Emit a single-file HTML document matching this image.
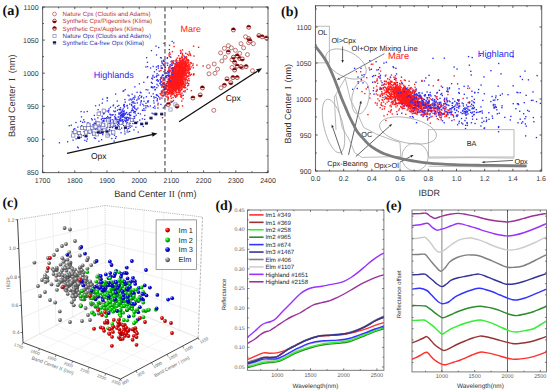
<!DOCTYPE html><html><head><meta charset="utf-8"><style>html,body{margin:0;padding:0;background:#fff;width:550px;height:392px;overflow:hidden}svg{display:block;text-rendering:geometricPrecision}</style></head><body><svg width="550" height="392" viewBox="0 0 550 392"><g fill="#2a2af0"><rect x="129.59" y="126.71" width="1.3" height="1.3"/><rect x="129.99" y="117.55" width="1.3" height="1.3"/><rect x="119.11" y="118.35" width="1.3" height="1.3"/><rect x="107.98" y="120.16" width="1.3" height="1.3"/><rect x="114.11" y="115.97" width="1.3" height="1.3"/><rect x="115.49" y="136.02" width="1.3" height="1.3"/><rect x="126.31" y="119.30" width="1.3" height="1.3"/><rect x="143.16" y="105.09" width="1.3" height="1.3"/><rect x="114.75" y="118.28" width="1.3" height="1.3"/><rect x="109.74" y="114.17" width="1.3" height="1.3"/><rect x="130.22" y="111.61" width="1.3" height="1.3"/><rect x="132.15" y="119.22" width="1.3" height="1.3"/><rect x="123.27" y="112.74" width="1.3" height="1.3"/><rect x="108.85" y="122.93" width="1.3" height="1.3"/><rect x="122.01" y="115.09" width="1.3" height="1.3"/><rect x="133.94" y="111.02" width="1.3" height="1.3"/><rect x="97.20" y="117.18" width="1.3" height="1.3"/><rect x="115.71" y="118.74" width="1.3" height="1.3"/><rect x="92.12" y="127.12" width="1.3" height="1.3"/><rect x="108.19" y="133.70" width="1.3" height="1.3"/><rect x="93.33" y="127.17" width="1.3" height="1.3"/><rect x="122.30" y="122.36" width="1.3" height="1.3"/><rect x="111.15" y="137.89" width="1.3" height="1.3"/><rect x="126.01" y="111.83" width="1.3" height="1.3"/><rect x="123.16" y="110.85" width="1.3" height="1.3"/><rect x="121.41" y="119.30" width="1.3" height="1.3"/><rect x="86.65" y="138.35" width="1.3" height="1.3"/><rect x="111.41" y="114.25" width="1.3" height="1.3"/><rect x="124.54" y="119.94" width="1.3" height="1.3"/><rect x="133.30" y="129.19" width="1.3" height="1.3"/><rect x="99.98" y="127.96" width="1.3" height="1.3"/><rect x="115.55" y="119.14" width="1.3" height="1.3"/><rect x="104.78" y="117.74" width="1.3" height="1.3"/><rect x="112.87" y="125.61" width="1.3" height="1.3"/><rect x="133.68" y="98.52" width="1.3" height="1.3"/><rect x="107.02" y="115.82" width="1.3" height="1.3"/><rect x="128.14" y="125.41" width="1.3" height="1.3"/><rect x="132.52" y="102.40" width="1.3" height="1.3"/><rect x="119.29" y="128.87" width="1.3" height="1.3"/><rect x="128.00" y="127.78" width="1.3" height="1.3"/><rect x="126.03" y="117.16" width="1.3" height="1.3"/><rect x="126.56" y="119.59" width="1.3" height="1.3"/><rect x="113.53" y="140.46" width="1.3" height="1.3"/><rect x="123.65" y="114.33" width="1.3" height="1.3"/><rect x="140.72" y="100.40" width="1.3" height="1.3"/><rect x="95.23" y="120.60" width="1.3" height="1.3"/><rect x="136.05" y="109.12" width="1.3" height="1.3"/><rect x="131.18" y="125.45" width="1.3" height="1.3"/><rect x="117.95" y="128.54" width="1.3" height="1.3"/><rect x="148.63" y="92.39" width="1.3" height="1.3"/><rect x="130.94" y="103.82" width="1.3" height="1.3"/><rect x="103.79" y="123.38" width="1.3" height="1.3"/><rect x="125.64" y="117.70" width="1.3" height="1.3"/><rect x="130.91" y="109.90" width="1.3" height="1.3"/><rect x="121.48" y="119.47" width="1.3" height="1.3"/><rect x="134.53" y="112.41" width="1.3" height="1.3"/><rect x="121.15" y="114.88" width="1.3" height="1.3"/><rect x="132.91" y="110.24" width="1.3" height="1.3"/><rect x="145.17" y="105.19" width="1.3" height="1.3"/><rect x="113.15" y="121.68" width="1.3" height="1.3"/><rect x="128.38" y="118.03" width="1.3" height="1.3"/><rect x="124.30" y="133.24" width="1.3" height="1.3"/><rect x="127.64" y="119.30" width="1.3" height="1.3"/><rect x="106.27" y="127.12" width="1.3" height="1.3"/><rect x="107.97" y="109.85" width="1.3" height="1.3"/><rect x="122.09" y="120.73" width="1.3" height="1.3"/><rect x="128.44" y="95.13" width="1.3" height="1.3"/><rect x="134.24" y="96.67" width="1.3" height="1.3"/><rect x="107.57" y="133.79" width="1.3" height="1.3"/><rect x="114.67" y="128.15" width="1.3" height="1.3"/><rect x="132.16" y="109.66" width="1.3" height="1.3"/><rect x="87.27" y="122.05" width="1.3" height="1.3"/><rect x="115.07" y="117.85" width="1.3" height="1.3"/><rect x="119.14" y="112.54" width="1.3" height="1.3"/><rect x="144.30" y="109.72" width="1.3" height="1.3"/><rect x="142.69" y="125.81" width="1.3" height="1.3"/><rect x="119.47" y="120.70" width="1.3" height="1.3"/><rect x="114.77" y="114.23" width="1.3" height="1.3"/><rect x="114.88" y="110.51" width="1.3" height="1.3"/><rect x="145.33" y="102.64" width="1.3" height="1.3"/><rect x="116.38" y="118.88" width="1.3" height="1.3"/><rect x="114.18" y="111.11" width="1.3" height="1.3"/><rect x="128.97" y="114.06" width="1.3" height="1.3"/><rect x="116.85" y="109.51" width="1.3" height="1.3"/><rect x="125.05" y="125.70" width="1.3" height="1.3"/><rect x="111.48" y="133.38" width="1.3" height="1.3"/><rect x="127.65" y="123.89" width="1.3" height="1.3"/><rect x="114.93" y="116.98" width="1.3" height="1.3"/><rect x="142.47" y="109.68" width="1.3" height="1.3"/><rect x="132.33" y="109.73" width="1.3" height="1.3"/><rect x="121.40" y="113.89" width="1.3" height="1.3"/><rect x="131.70" y="108.18" width="1.3" height="1.3"/><rect x="113.05" y="110.41" width="1.3" height="1.3"/><rect x="132.74" y="97.24" width="1.3" height="1.3"/><rect x="126.54" y="121.85" width="1.3" height="1.3"/><rect x="131.07" y="109.94" width="1.3" height="1.3"/><rect x="105.42" y="129.13" width="1.3" height="1.3"/><rect x="132.53" y="120.19" width="1.3" height="1.3"/><rect x="91.61" y="119.23" width="1.3" height="1.3"/><rect x="90.45" y="128.77" width="1.3" height="1.3"/><rect x="119.63" y="120.22" width="1.3" height="1.3"/><rect x="111.85" y="126.91" width="1.3" height="1.3"/><rect x="124.19" y="112.33" width="1.3" height="1.3"/><rect x="160.31" y="103.78" width="1.3" height="1.3"/><rect x="112.09" y="125.07" width="1.3" height="1.3"/><rect x="109.26" y="113.48" width="1.3" height="1.3"/><rect x="122.51" y="108.17" width="1.3" height="1.3"/><rect x="133.85" y="117.56" width="1.3" height="1.3"/><rect x="122.69" y="121.07" width="1.3" height="1.3"/><rect x="112.53" y="105.12" width="1.3" height="1.3"/><rect x="139.14" y="119.45" width="1.3" height="1.3"/><rect x="133.39" y="115.91" width="1.3" height="1.3"/><rect x="113.81" y="134.61" width="1.3" height="1.3"/><rect x="120.62" y="114.41" width="1.3" height="1.3"/><rect x="122.65" y="114.01" width="1.3" height="1.3"/><rect x="103.34" y="117.85" width="1.3" height="1.3"/><rect x="137.58" y="131.48" width="1.3" height="1.3"/><rect x="110.12" y="122.65" width="1.3" height="1.3"/><rect x="144.05" y="118.74" width="1.3" height="1.3"/><rect x="123.50" y="110.22" width="1.3" height="1.3"/><rect x="125.33" y="116.69" width="1.3" height="1.3"/><rect x="107.86" y="110.05" width="1.3" height="1.3"/><rect x="120.05" y="114.76" width="1.3" height="1.3"/><rect x="98.28" y="140.57" width="1.3" height="1.3"/><rect x="101.70" y="117.66" width="1.3" height="1.3"/><rect x="133.05" y="120.53" width="1.3" height="1.3"/><rect x="93.71" y="137.28" width="1.3" height="1.3"/><rect x="131.39" y="101.78" width="1.3" height="1.3"/><rect x="95.83" y="128.18" width="1.3" height="1.3"/><rect x="132.49" y="106.58" width="1.3" height="1.3"/><rect x="110.82" y="123.41" width="1.3" height="1.3"/><rect x="132.50" y="105.86" width="1.3" height="1.3"/><rect x="121.85" y="109.53" width="1.3" height="1.3"/><rect x="99.69" y="127.70" width="1.3" height="1.3"/><rect x="137.33" y="98.38" width="1.3" height="1.3"/><rect x="139.06" y="94.89" width="1.3" height="1.3"/><rect x="122.19" y="116.60" width="1.3" height="1.3"/><rect x="122.99" y="124.80" width="1.3" height="1.3"/><rect x="114.72" y="107.26" width="1.3" height="1.3"/><rect x="109.15" y="124.90" width="1.3" height="1.3"/><rect x="136.69" y="102.28" width="1.3" height="1.3"/><rect x="111.41" y="114.40" width="1.3" height="1.3"/><rect x="126.12" y="122.65" width="1.3" height="1.3"/><rect x="109.65" y="119.73" width="1.3" height="1.3"/><rect x="120.39" y="132.10" width="1.3" height="1.3"/><rect x="101.51" y="122.18" width="1.3" height="1.3"/><rect x="143.27" y="108.01" width="1.3" height="1.3"/><rect x="120.17" y="116.14" width="1.3" height="1.3"/><rect x="134.33" y="102.73" width="1.3" height="1.3"/><rect x="125.96" y="120.26" width="1.3" height="1.3"/><rect x="112.59" y="121.36" width="1.3" height="1.3"/><rect x="121.07" y="123.35" width="1.3" height="1.3"/><rect x="114.99" y="120.93" width="1.3" height="1.3"/><rect x="119.00" y="108.83" width="1.3" height="1.3"/><rect x="117.46" y="118.93" width="1.3" height="1.3"/><rect x="119.19" y="119.33" width="1.3" height="1.3"/><rect x="107.20" y="134.98" width="1.3" height="1.3"/><rect x="107.86" y="117.19" width="1.3" height="1.3"/><rect x="147.30" y="101.61" width="1.3" height="1.3"/><rect x="106.48" y="110.41" width="1.3" height="1.3"/><rect x="110.67" y="130.04" width="1.3" height="1.3"/><rect x="123.82" y="105.98" width="1.3" height="1.3"/><rect x="136.43" y="91.65" width="1.3" height="1.3"/><rect x="101.91" y="128.66" width="1.3" height="1.3"/><rect x="124.86" y="125.76" width="1.3" height="1.3"/><rect x="107.86" y="111.42" width="1.3" height="1.3"/><rect x="93.20" y="124.29" width="1.3" height="1.3"/><rect x="131.00" y="104.82" width="1.3" height="1.3"/><rect x="118.36" y="108.81" width="1.3" height="1.3"/><rect x="125.95" y="118.33" width="1.3" height="1.3"/><rect x="109.06" y="117.39" width="1.3" height="1.3"/><rect x="127.01" y="107.42" width="1.3" height="1.3"/><rect x="117.89" y="125.07" width="1.3" height="1.3"/><rect x="118.16" y="112.42" width="1.3" height="1.3"/><rect x="108.98" y="129.01" width="1.3" height="1.3"/><rect x="101.62" y="120.32" width="1.3" height="1.3"/><rect x="137.83" y="96.35" width="1.3" height="1.3"/><rect x="108.40" y="108.19" width="1.3" height="1.3"/><rect x="135.26" y="126.57" width="1.3" height="1.3"/><rect x="121.54" y="114.45" width="1.3" height="1.3"/><rect x="117.92" y="121.88" width="1.3" height="1.3"/><rect x="115.82" y="120.58" width="1.3" height="1.3"/><rect x="133.19" y="111.94" width="1.3" height="1.3"/><rect x="119.15" y="119.33" width="1.3" height="1.3"/><rect x="129.00" y="130.76" width="1.3" height="1.3"/><rect x="119.40" y="109.03" width="1.3" height="1.3"/><rect x="134.09" y="95.38" width="1.3" height="1.3"/><rect x="129.10" y="103.46" width="1.3" height="1.3"/><rect x="123.43" y="103.85" width="1.3" height="1.3"/><rect x="118.21" y="126.40" width="1.3" height="1.3"/><rect x="106.58" y="134.07" width="1.3" height="1.3"/><rect x="133.23" y="101.45" width="1.3" height="1.3"/><rect x="131.72" y="98.36" width="1.3" height="1.3"/><rect x="119.84" y="115.15" width="1.3" height="1.3"/><rect x="136.98" y="121.15" width="1.3" height="1.3"/><rect x="123.14" y="90.17" width="1.3" height="1.3"/><rect x="137.63" y="112.69" width="1.3" height="1.3"/><rect x="132.35" y="100.91" width="1.3" height="1.3"/><rect x="120.99" y="127.47" width="1.3" height="1.3"/><rect x="141.00" y="95.70" width="1.3" height="1.3"/><rect x="104.00" y="125.30" width="1.3" height="1.3"/><rect x="129.71" y="98.48" width="1.3" height="1.3"/><rect x="126.53" y="105.33" width="1.3" height="1.3"/><rect x="141.79" y="118.22" width="1.3" height="1.3"/><rect x="154.12" y="105.54" width="1.3" height="1.3"/><rect x="143.34" y="100.61" width="1.3" height="1.3"/><rect x="103.07" y="120.40" width="1.3" height="1.3"/><rect x="90.94" y="118.13" width="1.3" height="1.3"/><rect x="133.64" y="106.50" width="1.3" height="1.3"/><rect x="108.43" y="125.02" width="1.3" height="1.3"/><rect x="122.82" y="115.88" width="1.3" height="1.3"/><rect x="135.20" y="108.36" width="1.3" height="1.3"/><rect x="94.77" y="123.03" width="1.3" height="1.3"/><rect x="92.32" y="134.35" width="1.3" height="1.3"/><rect x="126.97" y="113.82" width="1.3" height="1.3"/><rect x="129.31" y="124.81" width="1.3" height="1.3"/><rect x="127.45" y="131.31" width="1.3" height="1.3"/><rect x="123.35" y="115.07" width="1.3" height="1.3"/><rect x="107.65" y="118.62" width="1.3" height="1.3"/><rect x="101.02" y="129.14" width="1.3" height="1.3"/><rect x="118.42" y="113.64" width="1.3" height="1.3"/><rect x="106.13" y="119.76" width="1.3" height="1.3"/><rect x="99.15" y="130.32" width="1.3" height="1.3"/><rect x="126.43" y="104.77" width="1.3" height="1.3"/><rect x="124.95" y="121.04" width="1.3" height="1.3"/><rect x="128.85" y="112.08" width="1.3" height="1.3"/><rect x="109.96" y="126.72" width="1.3" height="1.3"/><rect x="113.00" y="120.85" width="1.3" height="1.3"/><rect x="105.79" y="120.10" width="1.3" height="1.3"/><rect x="106.52" y="117.60" width="1.3" height="1.3"/><rect x="125.22" y="113.01" width="1.3" height="1.3"/><rect x="109.68" y="119.43" width="1.3" height="1.3"/><rect x="129.50" y="114.84" width="1.3" height="1.3"/><rect x="128.28" y="113.35" width="1.3" height="1.3"/><rect x="147.26" y="89.29" width="1.3" height="1.3"/><rect x="103.32" y="128.99" width="1.3" height="1.3"/><rect x="130.77" y="99.37" width="1.3" height="1.3"/><rect x="119.51" y="112.90" width="1.3" height="1.3"/><rect x="121.93" y="114.45" width="1.3" height="1.3"/><rect x="93.67" y="114.79" width="1.3" height="1.3"/><rect x="117.02" y="121.00" width="1.3" height="1.3"/><rect x="134.81" y="110.89" width="1.3" height="1.3"/><rect x="121.50" y="115.99" width="1.3" height="1.3"/><rect x="122.79" y="112.73" width="1.3" height="1.3"/><rect x="117.57" y="116.33" width="1.3" height="1.3"/><rect x="136.16" y="99.55" width="1.3" height="1.3"/><rect x="121.93" y="114.69" width="1.3" height="1.3"/><rect x="89.00" y="131.80" width="1.3" height="1.3"/><rect x="113.64" y="123.03" width="1.3" height="1.3"/><rect x="89.69" y="125.31" width="1.3" height="1.3"/><rect x="76.92" y="146.40" width="1.3" height="1.3"/><rect x="116.21" y="121.97" width="1.3" height="1.3"/><rect x="142.21" y="103.72" width="1.3" height="1.3"/><rect x="122.23" y="112.92" width="1.3" height="1.3"/><rect x="108.53" y="130.39" width="1.3" height="1.3"/><rect x="102.79" y="113.16" width="1.3" height="1.3"/><rect x="141.73" y="109.62" width="1.3" height="1.3"/><rect x="126.65" y="116.64" width="1.3" height="1.3"/><rect x="125.22" y="117.87" width="1.3" height="1.3"/><rect x="124.15" y="119.45" width="1.3" height="1.3"/><rect x="121.22" y="111.53" width="1.3" height="1.3"/><rect x="134.02" y="107.53" width="1.3" height="1.3"/><rect x="134.03" y="115.89" width="1.3" height="1.3"/><rect x="128.27" y="117.42" width="1.3" height="1.3"/><rect x="109.00" y="126.89" width="1.3" height="1.3"/><rect x="124.57" y="101.49" width="1.3" height="1.3"/><rect x="115.59" y="126.02" width="1.3" height="1.3"/><rect x="144.11" y="114.81" width="1.3" height="1.3"/><rect x="108.98" y="134.39" width="1.3" height="1.3"/><rect x="122.31" y="119.16" width="1.3" height="1.3"/><rect x="116.83" y="105.73" width="1.3" height="1.3"/><rect x="107.92" y="134.40" width="1.3" height="1.3"/><rect x="147.85" y="100.28" width="1.3" height="1.3"/><rect x="134.22" y="86.20" width="1.3" height="1.3"/><rect x="118.14" y="122.99" width="1.3" height="1.3"/><rect x="128.46" y="99.36" width="1.3" height="1.3"/><rect x="123.53" y="104.14" width="1.3" height="1.3"/><rect x="82.64" y="134.85" width="1.3" height="1.3"/><rect x="132.24" y="122.89" width="1.3" height="1.3"/><rect x="120.93" y="114.34" width="1.3" height="1.3"/><rect x="125.68" y="117.48" width="1.3" height="1.3"/><rect x="114.85" y="137.76" width="1.3" height="1.3"/><rect x="125.98" y="129.64" width="1.3" height="1.3"/><rect x="120.33" y="117.20" width="1.3" height="1.3"/><rect x="139.68" y="104.30" width="1.3" height="1.3"/><rect x="123.04" y="104.78" width="1.3" height="1.3"/><rect x="120.41" y="111.63" width="1.3" height="1.3"/><rect x="147.39" y="105.89" width="1.3" height="1.3"/><rect x="116.88" y="123.92" width="1.3" height="1.3"/><rect x="118.13" y="120.51" width="1.3" height="1.3"/><rect x="100.96" y="139.06" width="1.3" height="1.3"/><rect x="143.04" y="97.33" width="1.3" height="1.3"/><rect x="137.18" y="107.53" width="1.3" height="1.3"/><rect x="139.73" y="113.35" width="1.3" height="1.3"/><rect x="135.51" y="114.51" width="1.3" height="1.3"/><rect x="129.36" y="122.73" width="1.3" height="1.3"/><rect x="128.13" y="117.19" width="1.3" height="1.3"/><rect x="118.40" y="116.43" width="1.3" height="1.3"/><rect x="121.87" y="120.62" width="1.3" height="1.3"/><rect x="120.01" y="109.00" width="1.3" height="1.3"/><rect x="73.08" y="128.70" width="1.3" height="1.3"/><rect x="108.68" y="122.87" width="1.3" height="1.3"/><rect x="97.43" y="121.53" width="1.3" height="1.3"/><rect x="101.49" y="115.54" width="1.3" height="1.3"/><rect x="75.43" y="138.22" width="1.3" height="1.3"/><rect x="94.65" y="128.61" width="1.3" height="1.3"/><rect x="91.11" y="129.85" width="1.3" height="1.3"/><rect x="85.51" y="126.67" width="1.3" height="1.3"/><rect x="66.99" y="141.12" width="1.3" height="1.3"/><rect x="93.90" y="124.99" width="1.3" height="1.3"/><rect x="114.71" y="124.78" width="1.3" height="1.3"/><rect x="103.60" y="118.03" width="1.3" height="1.3"/><rect x="88.86" y="123.50" width="1.3" height="1.3"/><rect x="99.46" y="125.39" width="1.3" height="1.3"/><rect x="109.62" y="117.04" width="1.3" height="1.3"/><rect x="58.78" y="142.13" width="1.3" height="1.3"/><rect x="97.90" y="126.24" width="1.3" height="1.3"/><rect x="106.03" y="117.12" width="1.3" height="1.3"/><rect x="109.77" y="121.09" width="1.3" height="1.3"/><rect x="124.45" y="113.70" width="1.3" height="1.3"/><rect x="118.00" y="122.67" width="1.3" height="1.3"/><rect x="103.03" y="119.71" width="1.3" height="1.3"/><rect x="103.18" y="120.68" width="1.3" height="1.3"/><rect x="113.23" y="125.91" width="1.3" height="1.3"/><rect x="94.90" y="137.77" width="1.3" height="1.3"/><rect x="102.04" y="134.00" width="1.3" height="1.3"/><rect x="113.14" y="119.86" width="1.3" height="1.3"/><rect x="129.27" y="115.04" width="1.3" height="1.3"/><rect x="99.48" y="132.43" width="1.3" height="1.3"/><rect x="98.41" y="124.02" width="1.3" height="1.3"/><rect x="100.73" y="118.69" width="1.3" height="1.3"/><rect x="119.83" y="117.80" width="1.3" height="1.3"/><rect x="99.64" y="126.64" width="1.3" height="1.3"/><rect x="120.17" y="112.67" width="1.3" height="1.3"/><rect x="82.03" y="121.69" width="1.3" height="1.3"/><rect x="94.17" y="118.55" width="1.3" height="1.3"/><rect x="97.46" y="128.54" width="1.3" height="1.3"/><rect x="109.97" y="116.61" width="1.3" height="1.3"/><rect x="114.90" y="118.16" width="1.3" height="1.3"/><rect x="76.91" y="133.33" width="1.3" height="1.3"/><rect x="75.29" y="121.85" width="1.3" height="1.3"/><rect x="122.43" y="90.43" width="1.3" height="1.3"/><rect x="159.85" y="79.47" width="1.3" height="1.3"/><rect x="123.55" y="106.44" width="1.3" height="1.3"/><rect x="130.12" y="114.62" width="1.3" height="1.3"/><rect x="98.74" y="104.40" width="1.3" height="1.3"/><rect x="122.75" y="110.86" width="1.3" height="1.3"/><rect x="140.32" y="92.15" width="1.3" height="1.3"/><rect x="124.51" y="88.94" width="1.3" height="1.3"/><rect x="145.22" y="107.20" width="1.3" height="1.3"/><rect x="120.75" y="111.43" width="1.3" height="1.3"/><rect x="86.57" y="110.84" width="1.3" height="1.3"/><rect x="123.87" y="117.17" width="1.3" height="1.3"/><rect x="114.97" y="93.44" width="1.3" height="1.3"/><rect x="83.45" y="111.35" width="1.3" height="1.3"/><rect x="127.41" y="94.45" width="1.3" height="1.3"/><rect x="146.60" y="105.15" width="1.3" height="1.3"/><rect x="80.45" y="110.94" width="1.3" height="1.3"/><rect x="120.21" y="119.75" width="1.3" height="1.3"/><rect x="138.52" y="98.09" width="1.3" height="1.3"/><rect x="106.44" y="97.09" width="1.3" height="1.3"/><rect x="93.54" y="122.63" width="1.3" height="1.3"/><rect x="103.46" y="112.92" width="1.3" height="1.3"/><rect x="119.89" y="107.18" width="1.3" height="1.3"/><rect x="133.96" y="105.26" width="1.3" height="1.3"/><rect x="121.59" y="110.32" width="1.3" height="1.3"/><rect x="77.73" y="147.23" width="1.3" height="1.3"/><rect x="146.68" y="76.98" width="1.3" height="1.3"/><rect x="156.96" y="94.64" width="1.3" height="1.3"/><rect x="77.18" y="126.45" width="1.3" height="1.3"/><rect x="91.55" y="131.51" width="1.3" height="1.3"/><rect x="84.20" y="139.68" width="1.3" height="1.3"/><rect x="149.72" y="105.29" width="1.3" height="1.3"/><rect x="155.65" y="75.72" width="1.3" height="1.3"/><rect x="71.64" y="131.16" width="1.3" height="1.3"/><rect x="99.59" y="132.59" width="1.3" height="1.3"/><rect x="86.02" y="140.57" width="1.3" height="1.3"/><rect x="112.89" y="104.36" width="1.3" height="1.3"/><rect x="156.74" y="99.35" width="1.3" height="1.3"/><rect x="74.16" y="128.01" width="1.3" height="1.3"/><rect x="83.96" y="121.21" width="1.3" height="1.3"/><rect x="114.59" y="117.19" width="1.3" height="1.3"/><rect x="118.18" y="104.83" width="1.3" height="1.3"/><rect x="139.66" y="91.54" width="1.3" height="1.3"/><rect x="109.81" y="106.63" width="1.3" height="1.3"/><rect x="81.04" y="124.99" width="1.3" height="1.3"/><rect x="101.65" y="102.49" width="1.3" height="1.3"/><rect x="162.61" y="64.29" width="1.3" height="1.3"/><rect x="140.17" y="102.26" width="1.3" height="1.3"/><rect x="78.64" y="131.13" width="1.3" height="1.3"/><rect x="145.75" y="96.07" width="1.3" height="1.3"/><rect x="97.51" y="128.74" width="1.3" height="1.3"/><rect x="143.15" y="81.67" width="1.3" height="1.3"/><rect x="68.58" y="125.05" width="1.3" height="1.3"/><rect x="151.86" y="78.34" width="1.3" height="1.3"/><rect x="83.09" y="119.16" width="1.3" height="1.3"/><rect x="111.56" y="119.09" width="1.3" height="1.3"/><rect x="131.54" y="93.59" width="1.3" height="1.3"/><rect x="116.61" y="100.41" width="1.3" height="1.3"/><rect x="83.39" y="130.95" width="1.3" height="1.3"/><rect x="80.84" y="116.24" width="1.3" height="1.3"/><rect x="94.95" y="105.17" width="1.3" height="1.3"/><rect x="72.43" y="139.50" width="1.3" height="1.3"/><rect x="88.35" y="132.40" width="1.3" height="1.3"/><rect x="79.97" y="120.70" width="1.3" height="1.3"/><rect x="112.44" y="114.10" width="1.3" height="1.3"/><rect x="101.93" y="98.52" width="1.3" height="1.3"/><rect x="124.27" y="98.89" width="1.3" height="1.3"/><rect x="94.60" y="122.35" width="1.3" height="1.3"/><rect x="70.64" y="124.57" width="1.3" height="1.3"/><rect x="99.47" y="111.26" width="1.3" height="1.3"/><rect x="140.60" y="96.81" width="1.3" height="1.3"/><rect x="92.17" y="124.19" width="1.3" height="1.3"/><rect x="106.59" y="100.14" width="1.3" height="1.3"/><rect x="140.58" y="100.31" width="1.3" height="1.3"/><rect x="106.80" y="97.35" width="1.3" height="1.3"/><rect x="153.40" y="102.35" width="1.3" height="1.3"/><rect x="156.40" y="72.98" width="1.3" height="1.3"/><rect x="97.47" y="109.01" width="1.3" height="1.3"/><rect x="138.74" y="83.16" width="1.3" height="1.3"/><rect x="161.38" y="95.15" width="1.3" height="1.3"/><rect x="163.71" y="87.63" width="1.3" height="1.3"/><rect x="151.46" y="112.54" width="1.3" height="1.3"/><rect x="157.47" y="102.61" width="1.3" height="1.3"/><rect x="160.96" y="86.35" width="1.3" height="1.3"/><rect x="153.74" y="76.61" width="1.3" height="1.3"/><rect x="159.17" y="82.52" width="1.3" height="1.3"/><rect x="154.34" y="107.57" width="1.3" height="1.3"/><rect x="153.41" y="86.41" width="1.3" height="1.3"/><rect x="155.68" y="66.34" width="1.3" height="1.3"/><rect x="158.64" y="70.54" width="1.3" height="1.3"/><rect x="157.40" y="80.62" width="1.3" height="1.3"/><rect x="152.56" y="93.14" width="1.3" height="1.3"/><rect x="155.81" y="69.05" width="1.3" height="1.3"/><rect x="163.08" y="89.23" width="1.3" height="1.3"/><rect x="156.77" y="98.09" width="1.3" height="1.3"/><rect x="161.36" y="92.65" width="1.3" height="1.3"/><rect x="166.83" y="57.01" width="1.3" height="1.3"/><rect x="161.22" y="76.20" width="1.3" height="1.3"/><rect x="172.75" y="62.25" width="1.3" height="1.3"/><rect x="151.66" y="86.49" width="1.3" height="1.3"/><rect x="163.67" y="64.90" width="1.3" height="1.3"/><rect x="154.49" y="88.74" width="1.3" height="1.3"/><rect x="168.18" y="82.96" width="1.3" height="1.3"/><rect x="171.46" y="40.78" width="1.3" height="1.3"/><rect x="146.90" y="65.97" width="1.3" height="1.3"/><rect x="150.77" y="86.75" width="1.3" height="1.3"/><rect x="161.18" y="81.10" width="1.3" height="1.3"/><rect x="162.59" y="74.63" width="1.3" height="1.3"/><rect x="163.67" y="60.52" width="1.3" height="1.3"/><rect x="156.15" y="87.09" width="1.3" height="1.3"/><rect x="157.29" y="107.34" width="1.3" height="1.3"/><rect x="160.80" y="84.19" width="1.3" height="1.3"/><rect x="156.91" y="79.06" width="1.3" height="1.3"/><rect x="163.66" y="78.22" width="1.3" height="1.3"/><rect x="145.96" y="57.04" width="1.3" height="1.3"/><rect x="161.64" y="74.69" width="1.3" height="1.3"/><rect x="152.47" y="65.79" width="1.3" height="1.3"/><rect x="161.32" y="97.45" width="1.3" height="1.3"/><rect x="157.37" y="65.40" width="1.3" height="1.3"/><rect x="155.38" y="45.45" width="1.3" height="1.3"/><rect x="160.81" y="67.27" width="1.3" height="1.3"/><rect x="152.31" y="74.77" width="1.3" height="1.3"/><rect x="152.15" y="76.35" width="1.3" height="1.3"/><rect x="150.84" y="49.96" width="1.3" height="1.3"/><rect x="155.71" y="94.10" width="1.3" height="1.3"/><rect x="160.14" y="81.42" width="1.3" height="1.3"/><rect x="164.19" y="72.63" width="1.3" height="1.3"/><rect x="157.69" y="67.42" width="1.3" height="1.3"/><rect x="162.91" y="86.94" width="1.3" height="1.3"/><rect x="157.95" y="74.47" width="1.3" height="1.3"/><rect x="156.35" y="83.72" width="1.3" height="1.3"/><rect x="160.97" y="77.77" width="1.3" height="1.3"/><rect x="163.46" y="82.08" width="1.3" height="1.3"/><rect x="153.49" y="97.32" width="1.3" height="1.3"/><rect x="155.86" y="79.54" width="1.3" height="1.3"/><rect x="157.79" y="65.29" width="1.3" height="1.3"/><rect x="156.30" y="94.79" width="1.3" height="1.3"/><rect x="151.59" y="82.65" width="1.3" height="1.3"/><rect x="164.55" y="69.38" width="1.3" height="1.3"/><rect x="153.26" y="96.14" width="1.3" height="1.3"/><rect x="160.40" y="76.72" width="1.3" height="1.3"/><rect x="150.73" y="95.74" width="1.3" height="1.3"/><rect x="161.30" y="61.50" width="1.3" height="1.3"/><rect x="163.37" y="42.76" width="1.3" height="1.3"/><rect x="158.06" y="46.90" width="1.3" height="1.3"/><rect x="169.07" y="84.05" width="1.3" height="1.3"/><rect x="160.74" y="67.79" width="1.3" height="1.3"/><rect x="168.15" y="78.48" width="1.3" height="1.3"/><rect x="163.24" y="78.30" width="1.3" height="1.3"/><rect x="155.86" y="54.31" width="1.3" height="1.3"/><rect x="152.97" y="100.12" width="1.3" height="1.3"/><rect x="161.63" y="62.81" width="1.3" height="1.3"/><rect x="157.64" y="80.17" width="1.3" height="1.3"/><rect x="159.89" y="56.95" width="1.3" height="1.3"/><rect x="155.94" y="76.20" width="1.3" height="1.3"/><rect x="145.48" y="88.98" width="1.3" height="1.3"/><rect x="156.45" y="74.80" width="1.3" height="1.3"/><rect x="145.28" y="66.31" width="1.3" height="1.3"/><rect x="159.63" y="79.00" width="1.3" height="1.3"/><rect x="153.79" y="71.15" width="1.3" height="1.3"/><rect x="152.25" y="87.23" width="1.3" height="1.3"/><rect x="152.64" y="113.19" width="1.3" height="1.3"/><rect x="160.41" y="65.18" width="1.3" height="1.3"/><rect x="149.91" y="67.36" width="1.3" height="1.3"/><rect x="147.15" y="75.95" width="1.3" height="1.3"/><rect x="151.09" y="77.62" width="1.3" height="1.3"/><rect x="146.81" y="61.63" width="1.3" height="1.3"/><rect x="150.85" y="86.05" width="1.3" height="1.3"/><rect x="165.72" y="91.55" width="1.3" height="1.3"/><rect x="150.74" y="81.72" width="1.3" height="1.3"/><rect x="163.13" y="60.81" width="1.3" height="1.3"/><rect x="146.95" y="100.61" width="1.3" height="1.3"/><rect x="161.03" y="60.55" width="1.3" height="1.3"/><rect x="154.42" y="89.34" width="1.3" height="1.3"/><rect x="155.24" y="96.84" width="1.3" height="1.3"/><rect x="162.75" y="59.63" width="1.3" height="1.3"/><rect x="167.68" y="81.94" width="1.3" height="1.3"/><rect x="156.44" y="100.17" width="1.3" height="1.3"/><rect x="157.52" y="85.14" width="1.3" height="1.3"/><rect x="181.11" y="94.51" width="1.3" height="1.3"/><rect x="189.18" y="74.17" width="1.3" height="1.3"/><rect x="160.55" y="77.71" width="1.3" height="1.3"/><rect x="176.72" y="66.80" width="1.3" height="1.3"/><rect x="188.00" y="82.98" width="1.3" height="1.3"/><rect x="183.61" y="55.58" width="1.3" height="1.3"/><rect x="164.86" y="104.38" width="1.3" height="1.3"/><rect x="168.76" y="80.91" width="1.3" height="1.3"/><rect x="171.27" y="64.44" width="1.3" height="1.3"/><rect x="168.51" y="81.63" width="1.3" height="1.3"/><rect x="164.47" y="86.86" width="1.3" height="1.3"/><rect x="175.27" y="82.41" width="1.3" height="1.3"/><rect x="163.13" y="95.05" width="1.3" height="1.3"/><rect x="168.87" y="74.87" width="1.3" height="1.3"/><rect x="173.11" y="42.21" width="1.3" height="1.3"/><rect x="175.62" y="61.90" width="1.3" height="1.3"/><rect x="160.89" y="90.42" width="1.3" height="1.3"/><rect x="166.62" y="88.70" width="1.3" height="1.3"/><rect x="176.71" y="84.87" width="1.3" height="1.3"/><rect x="177.84" y="64.62" width="1.3" height="1.3"/><rect x="171.43" y="89.38" width="1.3" height="1.3"/><rect x="170.96" y="87.32" width="1.3" height="1.3"/><rect x="175.31" y="65.60" width="1.3" height="1.3"/><rect x="173.97" y="65.50" width="1.3" height="1.3"/><rect x="167.78" y="81.74" width="1.3" height="1.3"/><rect x="171.94" y="93.87" width="1.3" height="1.3"/><rect x="157.85" y="95.95" width="1.3" height="1.3"/><rect x="177.53" y="89.42" width="1.3" height="1.3"/><rect x="162.61" y="107.33" width="1.3" height="1.3"/><rect x="169.35" y="65.79" width="1.3" height="1.3"/><rect x="165.54" y="84.81" width="1.3" height="1.3"/><rect x="168.75" y="69.53" width="1.3" height="1.3"/><rect x="179.94" y="52.62" width="1.3" height="1.3"/><rect x="171.26" y="60.18" width="1.3" height="1.3"/><rect x="174.38" y="95.08" width="1.3" height="1.3"/><rect x="169.61" y="64.12" width="1.3" height="1.3"/><rect x="160.77" y="57.25" width="1.3" height="1.3"/><rect x="163.45" y="85.89" width="1.3" height="1.3"/><rect x="154.05" y="86.09" width="1.3" height="1.3"/><rect x="170.64" y="78.74" width="1.3" height="1.3"/><rect x="172.01" y="100.95" width="1.3" height="1.3"/><rect x="181.61" y="58.93" width="1.3" height="1.3"/><rect x="152.71" y="106.91" width="1.3" height="1.3"/><rect x="161.79" y="90.66" width="1.3" height="1.3"/><rect x="182.19" y="84.54" width="1.3" height="1.3"/><rect x="172.57" y="81.04" width="1.3" height="1.3"/><rect x="172.05" y="75.13" width="1.3" height="1.3"/><rect x="179.52" y="75.83" width="1.3" height="1.3"/><rect x="186.94" y="85.15" width="1.3" height="1.3"/><rect x="184.62" y="64.71" width="1.3" height="1.3"/><rect x="163.68" y="106.32" width="1.3" height="1.3"/><rect x="173.73" y="78.07" width="1.3" height="1.3"/><rect x="172.61" y="88.17" width="1.3" height="1.3"/><rect x="167.78" y="74.34" width="1.3" height="1.3"/><rect x="165.14" y="72.26" width="1.3" height="1.3"/><rect x="168.03" y="89.68" width="1.3" height="1.3"/><rect x="162.42" y="84.04" width="1.3" height="1.3"/><rect x="174.13" y="66.60" width="1.3" height="1.3"/><rect x="173.40" y="72.86" width="1.3" height="1.3"/><rect x="184.31" y="91.18" width="1.3" height="1.3"/></g><rect x="71.65" y="133.85" width="3.3" height="3.3" fill="#fff" fill-opacity="0.7" stroke="#7070a8" stroke-width="0.7"/><rect x="73.55" y="130.05" width="3.3" height="3.3" fill="#fff" fill-opacity="0.7" stroke="#7070a8" stroke-width="0.7"/><rect x="77.35" y="131.55" width="3.3" height="3.3" fill="#fff" fill-opacity="0.7" stroke="#7070a8" stroke-width="0.7"/><rect x="80.55" y="126.25" width="3.3" height="3.3" fill="#fff" fill-opacity="0.7" stroke="#7070a8" stroke-width="0.7"/><rect x="84.35" y="130.75" width="3.3" height="3.3" fill="#fff" fill-opacity="0.7" stroke="#7070a8" stroke-width="0.7"/><rect x="86.85" y="123.05" width="3.3" height="3.3" fill="#fff" fill-opacity="0.7" stroke="#7070a8" stroke-width="0.7"/><rect x="88.15" y="130.05" width="3.3" height="3.3" fill="#fff" fill-opacity="0.7" stroke="#7070a8" stroke-width="0.7"/><rect x="90.75" y="126.25" width="3.3" height="3.3" fill="#fff" fill-opacity="0.7" stroke="#7070a8" stroke-width="0.7"/><rect x="93.85" y="124.95" width="3.3" height="3.3" fill="#fff" fill-opacity="0.7" stroke="#7070a8" stroke-width="0.7"/><rect x="92.65" y="131.95" width="3.3" height="3.3" fill="#fff" fill-opacity="0.7" stroke="#7070a8" stroke-width="0.7"/><rect x="96.65" y="121.75" width="3.3" height="3.3" fill="#fff" fill-opacity="0.7" stroke="#7070a8" stroke-width="0.7"/><rect x="97.05" y="112.05" width="3.3" height="3.3" fill="#fff" fill-opacity="0.7" stroke="#7070a8" stroke-width="0.7"/><rect x="97.75" y="126.85" width="3.3" height="3.3" fill="#fff" fill-opacity="0.7" stroke="#7070a8" stroke-width="0.7"/><rect x="101.55" y="123.05" width="3.3" height="3.3" fill="#fff" fill-opacity="0.7" stroke="#7070a8" stroke-width="0.7"/><rect x="102.15" y="109.05" width="3.3" height="3.3" fill="#fff" fill-opacity="0.7" stroke="#7070a8" stroke-width="0.7"/><rect x="102.75" y="128.15" width="3.3" height="3.3" fill="#fff" fill-opacity="0.7" stroke="#7070a8" stroke-width="0.7"/><rect x="105.95" y="133.85" width="3.3" height="3.3" fill="#fff" fill-opacity="0.7" stroke="#7070a8" stroke-width="0.7"/><rect x="106.65" y="118.65" width="3.3" height="3.3" fill="#fff" fill-opacity="0.7" stroke="#7070a8" stroke-width="0.7"/><rect x="107.25" y="123.75" width="3.3" height="3.3" fill="#fff" fill-opacity="0.7" stroke="#7070a8" stroke-width="0.7"/><rect x="110.45" y="123.05" width="3.3" height="3.3" fill="#fff" fill-opacity="0.7" stroke="#7070a8" stroke-width="0.7"/><rect x="111.65" y="130.75" width="3.3" height="3.3" fill="#fff" fill-opacity="0.7" stroke="#7070a8" stroke-width="0.7"/><rect x="126.35" y="123.05" width="3.3" height="3.3" fill="#fff" fill-opacity="0.7" stroke="#7070a8" stroke-width="0.7"/><rect x="124.35" y="128.75" width="3.3" height="3.3" fill="#fff" fill-opacity="0.7" stroke="#7070a8" stroke-width="0.7"/><rect x="113.65" y="119.85" width="3.3" height="3.3" fill="#fff" fill-opacity="0.7" stroke="#7070a8" stroke-width="0.7"/><rect x="95.15" y="132.65" width="3.3" height="3.3" fill="#fff" fill-opacity="0.7" stroke="#7070a8" stroke-width="0.7"/><rect x="116.35" y="126.35" width="3.3" height="3.3" fill="#fff" fill-opacity="0.7" stroke="#7070a8" stroke-width="0.7"/><rect x="119.35" y="121.35" width="3.3" height="3.3" fill="#fff" fill-opacity="0.7" stroke="#7070a8" stroke-width="0.7"/><rect x="130.35" y="118.35" width="3.3" height="3.3" fill="#fff" fill-opacity="0.7" stroke="#7070a8" stroke-width="0.7"/><rect x="83.35" y="126.35" width="3.3" height="3.3" fill="#fff" fill-opacity="0.7" stroke="#7070a8" stroke-width="0.7"/><rect x="78.35" y="134.35" width="3.3" height="3.3" fill="#fff" fill-opacity="0.7" stroke="#7070a8" stroke-width="0.7"/><rect x="77.20" y="135.90" width="3" height="3" fill="#9a9ac0"/><rect x="77.20" y="136.80" width="3" height="2.1" fill="#10105a"/><rect x="84.50" y="134.30" width="3" height="3" fill="#9a9ac0"/><rect x="84.50" y="135.20" width="3" height="2.1" fill="#10105a"/><rect x="96.80" y="130.50" width="3" height="3" fill="#9a9ac0"/><rect x="96.80" y="131.40" width="3" height="2.1" fill="#10105a"/><rect x="100.70" y="130.50" width="3" height="3" fill="#9a9ac0"/><rect x="100.70" y="131.40" width="3" height="2.1" fill="#10105a"/><rect x="105.50" y="129.60" width="3" height="3" fill="#9a9ac0"/><rect x="105.50" y="130.50" width="3" height="2.1" fill="#10105a"/><rect x="115.00" y="125.80" width="3" height="3" fill="#9a9ac0"/><rect x="115.00" y="126.70" width="3" height="2.1" fill="#10105a"/><rect x="123.90" y="125.80" width="3" height="3" fill="#9a9ac0"/><rect x="123.90" y="126.70" width="3" height="2.1" fill="#10105a"/><rect x="134.20" y="121.10" width="3" height="3" fill="#9a9ac0"/><rect x="134.20" y="122.00" width="3" height="2.1" fill="#10105a"/><rect x="140.20" y="122.20" width="3" height="3" fill="#9a9ac0"/><rect x="140.20" y="123.10" width="3" height="2.1" fill="#10105a"/><rect x="144.90" y="121.50" width="3" height="3" fill="#9a9ac0"/><rect x="144.90" y="122.40" width="3" height="2.1" fill="#10105a"/><rect x="149.50" y="116.30" width="3" height="3" fill="#9a9ac0"/><rect x="149.50" y="117.20" width="3" height="2.1" fill="#10105a"/><rect x="154.30" y="112.30" width="3" height="3" fill="#9a9ac0"/><rect x="154.30" y="113.20" width="3" height="2.1" fill="#10105a"/><rect x="160.20" y="112.30" width="3" height="3" fill="#9a9ac0"/><rect x="160.20" y="113.20" width="3" height="2.1" fill="#10105a"/><g fill="#ff1a1a"><rect x="173.89" y="81.89" width="1.4" height="1.4"/><rect x="174.26" y="75.26" width="1.4" height="1.4"/><rect x="177.78" y="76.81" width="1.4" height="1.4"/><rect x="178.11" y="71.35" width="1.4" height="1.4"/><rect x="176.56" y="65.19" width="1.4" height="1.4"/><rect x="169.77" y="77.20" width="1.4" height="1.4"/><rect x="171.60" y="80.86" width="1.4" height="1.4"/><rect x="179.34" y="91.01" width="1.4" height="1.4"/><rect x="183.45" y="85.75" width="1.4" height="1.4"/><rect x="182.00" y="71.71" width="1.4" height="1.4"/><rect x="182.88" y="76.55" width="1.4" height="1.4"/><rect x="172.84" y="83.07" width="1.4" height="1.4"/><rect x="176.45" y="78.31" width="1.4" height="1.4"/><rect x="179.07" y="75.43" width="1.4" height="1.4"/><rect x="174.67" y="69.60" width="1.4" height="1.4"/><rect x="172.03" y="78.89" width="1.4" height="1.4"/><rect x="177.52" y="77.53" width="1.4" height="1.4"/><rect x="171.45" y="90.05" width="1.4" height="1.4"/><rect x="170.18" y="83.46" width="1.4" height="1.4"/><rect x="183.88" y="62.31" width="1.4" height="1.4"/><rect x="170.67" y="93.22" width="1.4" height="1.4"/><rect x="181.14" y="79.53" width="1.4" height="1.4"/><rect x="178.38" y="73.46" width="1.4" height="1.4"/><rect x="175.51" y="78.01" width="1.4" height="1.4"/><rect x="176.10" y="82.23" width="1.4" height="1.4"/><rect x="176.91" y="75.57" width="1.4" height="1.4"/><rect x="174.99" y="74.42" width="1.4" height="1.4"/><rect x="175.89" y="75.43" width="1.4" height="1.4"/><rect x="175.75" y="92.02" width="1.4" height="1.4"/><rect x="180.09" y="77.42" width="1.4" height="1.4"/><rect x="180.82" y="84.22" width="1.4" height="1.4"/><rect x="169.22" y="77.54" width="1.4" height="1.4"/><rect x="176.78" y="72.86" width="1.4" height="1.4"/><rect x="177.83" y="69.37" width="1.4" height="1.4"/><rect x="180.99" y="68.04" width="1.4" height="1.4"/><rect x="174.54" y="78.82" width="1.4" height="1.4"/><rect x="178.20" y="66.87" width="1.4" height="1.4"/><rect x="184.31" y="66.57" width="1.4" height="1.4"/><rect x="181.68" y="66.05" width="1.4" height="1.4"/><rect x="176.76" y="62.08" width="1.4" height="1.4"/><rect x="182.97" y="78.36" width="1.4" height="1.4"/><rect x="181.48" y="78.13" width="1.4" height="1.4"/><rect x="177.68" y="67.61" width="1.4" height="1.4"/><rect x="177.50" y="87.87" width="1.4" height="1.4"/><rect x="175.31" y="72.54" width="1.4" height="1.4"/><rect x="181.04" y="81.29" width="1.4" height="1.4"/><rect x="175.87" y="78.08" width="1.4" height="1.4"/><rect x="169.64" y="88.75" width="1.4" height="1.4"/><rect x="173.79" y="82.23" width="1.4" height="1.4"/><rect x="174.54" y="74.42" width="1.4" height="1.4"/><rect x="181.05" y="68.14" width="1.4" height="1.4"/><rect x="181.26" y="67.27" width="1.4" height="1.4"/><rect x="177.73" y="76.02" width="1.4" height="1.4"/><rect x="174.95" y="76.11" width="1.4" height="1.4"/><rect x="160.21" y="77.19" width="1.4" height="1.4"/><rect x="179.30" y="72.07" width="1.4" height="1.4"/><rect x="169.19" y="74.75" width="1.4" height="1.4"/><rect x="180.49" y="70.57" width="1.4" height="1.4"/><rect x="187.36" y="62.22" width="1.4" height="1.4"/><rect x="178.86" y="75.95" width="1.4" height="1.4"/><rect x="172.04" y="87.28" width="1.4" height="1.4"/><rect x="174.67" y="82.25" width="1.4" height="1.4"/><rect x="173.22" y="87.30" width="1.4" height="1.4"/><rect x="172.20" y="84.55" width="1.4" height="1.4"/><rect x="178.96" y="63.59" width="1.4" height="1.4"/><rect x="174.56" y="72.13" width="1.4" height="1.4"/><rect x="178.57" y="89.64" width="1.4" height="1.4"/><rect x="179.54" y="69.82" width="1.4" height="1.4"/><rect x="185.27" y="66.09" width="1.4" height="1.4"/><rect x="175.76" y="77.96" width="1.4" height="1.4"/><rect x="176.24" y="81.05" width="1.4" height="1.4"/><rect x="176.16" y="77.88" width="1.4" height="1.4"/><rect x="180.52" y="73.56" width="1.4" height="1.4"/><rect x="183.02" y="71.09" width="1.4" height="1.4"/><rect x="182.06" y="65.75" width="1.4" height="1.4"/><rect x="178.33" y="64.24" width="1.4" height="1.4"/><rect x="177.81" y="64.32" width="1.4" height="1.4"/><rect x="188.49" y="66.21" width="1.4" height="1.4"/><rect x="178.45" y="69.39" width="1.4" height="1.4"/><rect x="172.36" y="87.69" width="1.4" height="1.4"/><rect x="183.56" y="78.41" width="1.4" height="1.4"/><rect x="183.21" y="74.18" width="1.4" height="1.4"/><rect x="178.97" y="79.24" width="1.4" height="1.4"/><rect x="178.64" y="67.13" width="1.4" height="1.4"/><rect x="186.64" y="81.55" width="1.4" height="1.4"/><rect x="176.89" y="83.58" width="1.4" height="1.4"/><rect x="184.07" y="63.98" width="1.4" height="1.4"/><rect x="178.92" y="69.50" width="1.4" height="1.4"/><rect x="172.50" y="71.52" width="1.4" height="1.4"/><rect x="174.78" y="65.72" width="1.4" height="1.4"/><rect x="182.43" y="66.98" width="1.4" height="1.4"/><rect x="180.38" y="72.99" width="1.4" height="1.4"/><rect x="170.02" y="95.51" width="1.4" height="1.4"/><rect x="171.04" y="79.33" width="1.4" height="1.4"/><rect x="170.52" y="77.13" width="1.4" height="1.4"/><rect x="173.72" y="83.07" width="1.4" height="1.4"/><rect x="172.26" y="71.63" width="1.4" height="1.4"/><rect x="184.84" y="66.58" width="1.4" height="1.4"/><rect x="181.28" y="80.94" width="1.4" height="1.4"/><rect x="186.49" y="88.68" width="1.4" height="1.4"/><rect x="187.06" y="59.56" width="1.4" height="1.4"/><rect x="174.08" y="78.26" width="1.4" height="1.4"/><rect x="170.76" y="84.40" width="1.4" height="1.4"/><rect x="164.03" y="68.55" width="1.4" height="1.4"/><rect x="176.49" y="70.92" width="1.4" height="1.4"/><rect x="175.12" y="80.95" width="1.4" height="1.4"/><rect x="184.02" y="70.03" width="1.4" height="1.4"/><rect x="179.01" y="80.22" width="1.4" height="1.4"/><rect x="177.71" y="83.82" width="1.4" height="1.4"/><rect x="179.19" y="74.10" width="1.4" height="1.4"/><rect x="182.69" y="69.77" width="1.4" height="1.4"/><rect x="182.10" y="82.59" width="1.4" height="1.4"/><rect x="174.26" y="71.07" width="1.4" height="1.4"/><rect x="175.63" y="75.45" width="1.4" height="1.4"/><rect x="179.79" y="49.78" width="1.4" height="1.4"/><rect x="182.61" y="83.45" width="1.4" height="1.4"/><rect x="187.04" y="65.52" width="1.4" height="1.4"/><rect x="180.80" y="76.77" width="1.4" height="1.4"/><rect x="172.44" y="74.71" width="1.4" height="1.4"/><rect x="180.51" y="69.51" width="1.4" height="1.4"/><rect x="179.28" y="67.51" width="1.4" height="1.4"/><rect x="181.63" y="64.82" width="1.4" height="1.4"/><rect x="177.92" y="72.29" width="1.4" height="1.4"/><rect x="178.32" y="81.03" width="1.4" height="1.4"/><rect x="174.67" y="79.25" width="1.4" height="1.4"/><rect x="182.78" y="72.22" width="1.4" height="1.4"/><rect x="180.41" y="70.78" width="1.4" height="1.4"/><rect x="180.43" y="63.21" width="1.4" height="1.4"/><rect x="178.49" y="71.65" width="1.4" height="1.4"/><rect x="178.88" y="65.83" width="1.4" height="1.4"/><rect x="185.38" y="63.75" width="1.4" height="1.4"/><rect x="177.12" y="73.55" width="1.4" height="1.4"/><rect x="174.94" y="88.12" width="1.4" height="1.4"/><rect x="172.91" y="84.61" width="1.4" height="1.4"/><rect x="167.63" y="85.27" width="1.4" height="1.4"/><rect x="185.98" y="63.25" width="1.4" height="1.4"/><rect x="171.04" y="80.92" width="1.4" height="1.4"/><rect x="184.03" y="65.94" width="1.4" height="1.4"/><rect x="181.17" y="70.98" width="1.4" height="1.4"/><rect x="175.61" y="58.68" width="1.4" height="1.4"/><rect x="176.62" y="65.61" width="1.4" height="1.4"/><rect x="175.37" y="75.45" width="1.4" height="1.4"/><rect x="173.82" y="75.84" width="1.4" height="1.4"/><rect x="173.10" y="72.96" width="1.4" height="1.4"/><rect x="181.38" y="74.86" width="1.4" height="1.4"/><rect x="175.34" y="79.41" width="1.4" height="1.4"/><rect x="179.32" y="76.10" width="1.4" height="1.4"/><rect x="180.44" y="61.26" width="1.4" height="1.4"/><rect x="174.38" y="89.95" width="1.4" height="1.4"/><rect x="175.37" y="72.10" width="1.4" height="1.4"/><rect x="175.19" y="82.84" width="1.4" height="1.4"/><rect x="180.75" y="74.54" width="1.4" height="1.4"/><rect x="180.30" y="68.34" width="1.4" height="1.4"/><rect x="175.73" y="75.15" width="1.4" height="1.4"/><rect x="175.39" y="67.34" width="1.4" height="1.4"/><rect x="174.12" y="88.82" width="1.4" height="1.4"/><rect x="182.29" y="66.52" width="1.4" height="1.4"/><rect x="175.06" y="79.98" width="1.4" height="1.4"/><rect x="176.30" y="69.04" width="1.4" height="1.4"/><rect x="180.57" y="74.52" width="1.4" height="1.4"/><rect x="181.04" y="100.33" width="1.4" height="1.4"/><rect x="174.45" y="81.20" width="1.4" height="1.4"/><rect x="179.82" y="73.92" width="1.4" height="1.4"/><rect x="183.66" y="62.83" width="1.4" height="1.4"/><rect x="167.87" y="69.36" width="1.4" height="1.4"/><rect x="179.03" y="73.32" width="1.4" height="1.4"/><rect x="170.95" y="86.13" width="1.4" height="1.4"/><rect x="187.53" y="65.25" width="1.4" height="1.4"/><rect x="181.72" y="59.85" width="1.4" height="1.4"/><rect x="174.63" y="73.99" width="1.4" height="1.4"/><rect x="176.28" y="76.84" width="1.4" height="1.4"/><rect x="174.03" y="89.06" width="1.4" height="1.4"/><rect x="177.90" y="67.15" width="1.4" height="1.4"/><rect x="185.03" y="52.65" width="1.4" height="1.4"/><rect x="174.12" y="67.44" width="1.4" height="1.4"/><rect x="180.34" y="64.43" width="1.4" height="1.4"/><rect x="182.54" y="71.84" width="1.4" height="1.4"/><rect x="183.31" y="86.25" width="1.4" height="1.4"/><rect x="184.44" y="65.10" width="1.4" height="1.4"/><rect x="175.53" y="85.99" width="1.4" height="1.4"/><rect x="182.17" y="78.69" width="1.4" height="1.4"/><rect x="182.83" y="74.37" width="1.4" height="1.4"/><rect x="187.19" y="70.22" width="1.4" height="1.4"/><rect x="183.47" y="73.32" width="1.4" height="1.4"/><rect x="178.37" y="71.90" width="1.4" height="1.4"/><rect x="176.78" y="82.02" width="1.4" height="1.4"/><rect x="174.99" y="86.32" width="1.4" height="1.4"/><rect x="179.23" y="75.20" width="1.4" height="1.4"/><rect x="176.68" y="81.51" width="1.4" height="1.4"/><rect x="170.92" y="85.15" width="1.4" height="1.4"/><rect x="165.52" y="82.98" width="1.4" height="1.4"/><rect x="173.64" y="78.47" width="1.4" height="1.4"/><rect x="164.23" y="87.99" width="1.4" height="1.4"/><rect x="174.37" y="86.65" width="1.4" height="1.4"/><rect x="173.31" y="88.97" width="1.4" height="1.4"/><rect x="171.30" y="71.47" width="1.4" height="1.4"/><rect x="181.80" y="72.84" width="1.4" height="1.4"/><rect x="186.96" y="59.72" width="1.4" height="1.4"/><rect x="174.07" y="87.95" width="1.4" height="1.4"/><rect x="182.89" y="83.28" width="1.4" height="1.4"/><rect x="188.14" y="70.25" width="1.4" height="1.4"/><rect x="172.16" y="75.45" width="1.4" height="1.4"/><rect x="181.23" y="79.46" width="1.4" height="1.4"/><rect x="184.36" y="61.62" width="1.4" height="1.4"/><rect x="178.61" y="78.70" width="1.4" height="1.4"/><rect x="178.52" y="86.25" width="1.4" height="1.4"/><rect x="171.16" y="85.31" width="1.4" height="1.4"/><rect x="176.25" y="71.68" width="1.4" height="1.4"/><rect x="175.19" y="71.61" width="1.4" height="1.4"/><rect x="170.86" y="85.72" width="1.4" height="1.4"/><rect x="174.67" y="83.40" width="1.4" height="1.4"/><rect x="173.21" y="68.83" width="1.4" height="1.4"/><rect x="175.02" y="69.03" width="1.4" height="1.4"/><rect x="178.44" y="81.47" width="1.4" height="1.4"/><rect x="179.22" y="70.00" width="1.4" height="1.4"/><rect x="180.98" y="71.05" width="1.4" height="1.4"/><rect x="164.99" y="87.60" width="1.4" height="1.4"/><rect x="173.66" y="76.83" width="1.4" height="1.4"/><rect x="176.62" y="71.07" width="1.4" height="1.4"/><rect x="176.36" y="80.13" width="1.4" height="1.4"/><rect x="169.45" y="92.37" width="1.4" height="1.4"/><rect x="180.92" y="78.95" width="1.4" height="1.4"/><rect x="179.63" y="68.93" width="1.4" height="1.4"/><rect x="182.23" y="62.12" width="1.4" height="1.4"/><rect x="171.81" y="93.63" width="1.4" height="1.4"/><rect x="187.97" y="54.44" width="1.4" height="1.4"/><rect x="172.72" y="84.07" width="1.4" height="1.4"/><rect x="185.13" y="68.85" width="1.4" height="1.4"/><rect x="183.13" y="65.62" width="1.4" height="1.4"/><rect x="181.15" y="67.30" width="1.4" height="1.4"/><rect x="178.39" y="74.11" width="1.4" height="1.4"/><rect x="176.77" y="85.72" width="1.4" height="1.4"/><rect x="183.77" y="71.46" width="1.4" height="1.4"/><rect x="179.78" y="82.58" width="1.4" height="1.4"/><rect x="172.41" y="96.90" width="1.4" height="1.4"/><rect x="189.26" y="52.87" width="1.4" height="1.4"/><rect x="180.25" y="69.55" width="1.4" height="1.4"/><rect x="188.05" y="61.83" width="1.4" height="1.4"/><rect x="175.17" y="82.88" width="1.4" height="1.4"/><rect x="173.18" y="60.18" width="1.4" height="1.4"/><rect x="187.77" y="63.86" width="1.4" height="1.4"/><rect x="182.54" y="62.46" width="1.4" height="1.4"/><rect x="172.85" y="73.86" width="1.4" height="1.4"/><rect x="173.66" y="85.08" width="1.4" height="1.4"/><rect x="173.62" y="75.56" width="1.4" height="1.4"/><rect x="180.50" y="96.60" width="1.4" height="1.4"/><rect x="175.19" y="90.21" width="1.4" height="1.4"/><rect x="171.50" y="72.37" width="1.4" height="1.4"/><rect x="177.35" y="84.34" width="1.4" height="1.4"/><rect x="175.68" y="76.12" width="1.4" height="1.4"/><rect x="185.51" y="78.85" width="1.4" height="1.4"/><rect x="178.73" y="57.71" width="1.4" height="1.4"/><rect x="171.99" y="61.36" width="1.4" height="1.4"/><rect x="177.95" y="75.77" width="1.4" height="1.4"/><rect x="179.68" y="64.72" width="1.4" height="1.4"/><rect x="173.91" y="81.24" width="1.4" height="1.4"/><rect x="167.92" y="75.16" width="1.4" height="1.4"/><rect x="182.09" y="68.28" width="1.4" height="1.4"/><rect x="181.37" y="87.98" width="1.4" height="1.4"/><rect x="169.05" y="75.00" width="1.4" height="1.4"/><rect x="179.05" y="87.95" width="1.4" height="1.4"/><rect x="175.75" y="73.53" width="1.4" height="1.4"/><rect x="192.12" y="64.90" width="1.4" height="1.4"/><rect x="177.55" y="82.19" width="1.4" height="1.4"/><rect x="177.64" y="73.15" width="1.4" height="1.4"/><rect x="179.94" y="84.32" width="1.4" height="1.4"/><rect x="176.83" y="85.63" width="1.4" height="1.4"/><rect x="171.92" y="84.81" width="1.4" height="1.4"/><rect x="184.78" y="64.12" width="1.4" height="1.4"/><rect x="182.18" y="54.85" width="1.4" height="1.4"/><rect x="171.66" y="68.80" width="1.4" height="1.4"/><rect x="184.31" y="84.09" width="1.4" height="1.4"/><rect x="178.28" y="68.93" width="1.4" height="1.4"/><rect x="174.33" y="77.25" width="1.4" height="1.4"/><rect x="181.43" y="69.07" width="1.4" height="1.4"/><rect x="172.09" y="70.72" width="1.4" height="1.4"/><rect x="172.92" y="71.10" width="1.4" height="1.4"/><rect x="177.39" y="69.54" width="1.4" height="1.4"/><rect x="174.03" y="79.43" width="1.4" height="1.4"/><rect x="176.99" y="78.78" width="1.4" height="1.4"/><rect x="177.74" y="91.23" width="1.4" height="1.4"/><rect x="174.60" y="78.34" width="1.4" height="1.4"/><rect x="175.94" y="87.87" width="1.4" height="1.4"/><rect x="179.91" y="77.34" width="1.4" height="1.4"/><rect x="170.63" y="81.81" width="1.4" height="1.4"/><rect x="179.03" y="74.77" width="1.4" height="1.4"/><rect x="175.11" y="70.21" width="1.4" height="1.4"/><rect x="178.33" y="88.63" width="1.4" height="1.4"/><rect x="177.46" y="82.72" width="1.4" height="1.4"/><rect x="175.27" y="83.21" width="1.4" height="1.4"/><rect x="174.26" y="67.21" width="1.4" height="1.4"/><rect x="182.99" y="61.20" width="1.4" height="1.4"/><rect x="176.94" y="67.13" width="1.4" height="1.4"/><rect x="179.79" y="79.19" width="1.4" height="1.4"/><rect x="181.34" y="62.89" width="1.4" height="1.4"/><rect x="170.23" y="86.83" width="1.4" height="1.4"/><rect x="185.80" y="64.05" width="1.4" height="1.4"/><rect x="179.01" y="81.78" width="1.4" height="1.4"/><rect x="167.65" y="97.72" width="1.4" height="1.4"/><rect x="189.97" y="54.75" width="1.4" height="1.4"/><rect x="180.90" y="61.70" width="1.4" height="1.4"/><rect x="173.66" y="83.50" width="1.4" height="1.4"/><rect x="178.78" y="74.06" width="1.4" height="1.4"/><rect x="174.06" y="76.05" width="1.4" height="1.4"/><rect x="176.24" y="73.84" width="1.4" height="1.4"/><rect x="173.04" y="87.47" width="1.4" height="1.4"/><rect x="182.31" y="83.11" width="1.4" height="1.4"/><rect x="185.36" y="73.46" width="1.4" height="1.4"/><rect x="177.33" y="73.08" width="1.4" height="1.4"/><rect x="187.84" y="67.50" width="1.4" height="1.4"/><rect x="177.84" y="74.57" width="1.4" height="1.4"/><rect x="185.87" y="56.19" width="1.4" height="1.4"/><rect x="179.52" y="82.50" width="1.4" height="1.4"/><rect x="179.74" y="73.54" width="1.4" height="1.4"/><rect x="182.61" y="94.64" width="1.4" height="1.4"/><rect x="175.36" y="86.11" width="1.4" height="1.4"/><rect x="176.46" y="62.55" width="1.4" height="1.4"/><rect x="180.65" y="84.98" width="1.4" height="1.4"/><rect x="177.54" y="70.30" width="1.4" height="1.4"/><rect x="176.36" y="75.40" width="1.4" height="1.4"/><rect x="162.42" y="79.90" width="1.4" height="1.4"/><rect x="181.02" y="79.59" width="1.4" height="1.4"/><rect x="179.80" y="80.73" width="1.4" height="1.4"/><rect x="179.79" y="80.47" width="1.4" height="1.4"/><rect x="183.97" y="70.35" width="1.4" height="1.4"/><rect x="186.66" y="72.18" width="1.4" height="1.4"/><rect x="176.02" y="80.06" width="1.4" height="1.4"/><rect x="179.22" y="84.17" width="1.4" height="1.4"/><rect x="175.47" y="71.91" width="1.4" height="1.4"/><rect x="176.05" y="75.65" width="1.4" height="1.4"/><rect x="185.05" y="68.16" width="1.4" height="1.4"/><rect x="186.76" y="53.65" width="1.4" height="1.4"/><rect x="174.55" y="66.42" width="1.4" height="1.4"/><rect x="179.21" y="76.09" width="1.4" height="1.4"/><rect x="176.56" y="76.49" width="1.4" height="1.4"/><rect x="172.02" y="81.33" width="1.4" height="1.4"/><rect x="177.11" y="83.48" width="1.4" height="1.4"/><rect x="173.34" y="83.13" width="1.4" height="1.4"/><rect x="170.15" y="76.44" width="1.4" height="1.4"/><rect x="171.98" y="77.34" width="1.4" height="1.4"/><rect x="187.24" y="71.52" width="1.4" height="1.4"/><rect x="170.37" y="76.55" width="1.4" height="1.4"/><rect x="178.19" y="77.26" width="1.4" height="1.4"/><rect x="176.99" y="86.32" width="1.4" height="1.4"/><rect x="185.01" y="62.44" width="1.4" height="1.4"/><rect x="174.08" y="69.37" width="1.4" height="1.4"/><rect x="181.39" y="59.91" width="1.4" height="1.4"/><rect x="180.59" y="68.83" width="1.4" height="1.4"/><rect x="185.25" y="63.95" width="1.4" height="1.4"/><rect x="174.42" y="76.49" width="1.4" height="1.4"/><rect x="174.92" y="67.70" width="1.4" height="1.4"/><rect x="189.45" y="54.07" width="1.4" height="1.4"/><rect x="179.04" y="87.05" width="1.4" height="1.4"/><rect x="182.59" y="65.98" width="1.4" height="1.4"/><rect x="179.94" y="60.27" width="1.4" height="1.4"/><rect x="180.66" y="72.34" width="1.4" height="1.4"/><rect x="180.37" y="69.06" width="1.4" height="1.4"/><rect x="184.83" y="65.76" width="1.4" height="1.4"/><rect x="170.73" y="79.18" width="1.4" height="1.4"/><rect x="179.44" y="71.97" width="1.4" height="1.4"/><rect x="174.69" y="82.50" width="1.4" height="1.4"/><rect x="171.26" y="79.55" width="1.4" height="1.4"/><rect x="176.96" y="80.88" width="1.4" height="1.4"/><rect x="177.54" y="76.57" width="1.4" height="1.4"/><rect x="176.50" y="73.48" width="1.4" height="1.4"/><rect x="180.73" y="71.98" width="1.4" height="1.4"/><rect x="167.87" y="85.47" width="1.4" height="1.4"/><rect x="183.17" y="58.29" width="1.4" height="1.4"/><rect x="182.87" y="66.00" width="1.4" height="1.4"/><rect x="181.04" y="69.48" width="1.4" height="1.4"/><rect x="181.29" y="79.85" width="1.4" height="1.4"/><rect x="172.53" y="74.41" width="1.4" height="1.4"/><rect x="173.05" y="68.53" width="1.4" height="1.4"/><rect x="179.96" y="72.11" width="1.4" height="1.4"/><rect x="174.96" y="90.31" width="1.4" height="1.4"/><rect x="188.75" y="71.88" width="1.4" height="1.4"/><rect x="188.62" y="51.18" width="1.4" height="1.4"/><rect x="168.93" y="89.92" width="1.4" height="1.4"/><rect x="183.98" y="67.89" width="1.4" height="1.4"/><rect x="175.31" y="70.97" width="1.4" height="1.4"/><rect x="171.28" y="74.21" width="1.4" height="1.4"/><rect x="192.58" y="67.14" width="1.4" height="1.4"/><rect x="175.81" y="85.89" width="1.4" height="1.4"/><rect x="181.25" y="74.89" width="1.4" height="1.4"/><rect x="184.30" y="63.53" width="1.4" height="1.4"/><rect x="184.81" y="79.49" width="1.4" height="1.4"/><rect x="177.80" y="79.28" width="1.4" height="1.4"/><rect x="183.21" y="75.99" width="1.4" height="1.4"/><rect x="172.25" y="77.70" width="1.4" height="1.4"/><rect x="176.37" y="60.10" width="1.4" height="1.4"/><rect x="181.19" y="85.05" width="1.4" height="1.4"/><rect x="186.44" y="69.84" width="1.4" height="1.4"/><rect x="176.39" y="86.76" width="1.4" height="1.4"/><rect x="180.64" y="69.87" width="1.4" height="1.4"/><rect x="178.20" y="76.43" width="1.4" height="1.4"/><rect x="167.60" y="96.54" width="1.4" height="1.4"/><rect x="184.21" y="77.47" width="1.4" height="1.4"/><rect x="177.53" y="85.37" width="1.4" height="1.4"/><rect x="178.65" y="79.81" width="1.4" height="1.4"/><rect x="183.73" y="62.60" width="1.4" height="1.4"/><rect x="179.01" y="86.34" width="1.4" height="1.4"/><rect x="176.90" y="85.10" width="1.4" height="1.4"/><rect x="185.00" y="63.95" width="1.4" height="1.4"/><rect x="173.24" y="72.69" width="1.4" height="1.4"/><rect x="184.30" y="62.76" width="1.4" height="1.4"/><rect x="187.86" y="75.54" width="1.4" height="1.4"/><rect x="173.13" y="82.17" width="1.4" height="1.4"/><rect x="177.07" y="75.69" width="1.4" height="1.4"/><rect x="185.01" y="65.97" width="1.4" height="1.4"/><rect x="184.47" y="68.53" width="1.4" height="1.4"/><rect x="180.41" y="76.15" width="1.4" height="1.4"/><rect x="171.18" y="72.65" width="1.4" height="1.4"/><rect x="179.58" y="76.96" width="1.4" height="1.4"/><rect x="171.21" y="78.64" width="1.4" height="1.4"/><rect x="179.83" y="57.57" width="1.4" height="1.4"/><rect x="180.11" y="75.99" width="1.4" height="1.4"/><rect x="173.36" y="84.61" width="1.4" height="1.4"/><rect x="179.83" y="80.51" width="1.4" height="1.4"/><rect x="193.01" y="73.40" width="1.4" height="1.4"/><rect x="182.87" y="70.86" width="1.4" height="1.4"/><rect x="180.43" y="77.48" width="1.4" height="1.4"/><rect x="172.16" y="79.81" width="1.4" height="1.4"/><rect x="175.18" y="74.21" width="1.4" height="1.4"/><rect x="168.61" y="88.21" width="1.4" height="1.4"/><rect x="171.88" y="85.75" width="1.4" height="1.4"/><rect x="175.50" y="66.93" width="1.4" height="1.4"/><rect x="173.68" y="78.51" width="1.4" height="1.4"/><rect x="177.99" y="71.79" width="1.4" height="1.4"/><rect x="177.07" y="63.45" width="1.4" height="1.4"/><rect x="173.71" y="67.76" width="1.4" height="1.4"/><rect x="172.17" y="73.25" width="1.4" height="1.4"/><rect x="185.73" y="57.64" width="1.4" height="1.4"/><rect x="179.94" y="69.65" width="1.4" height="1.4"/><rect x="181.08" y="79.76" width="1.4" height="1.4"/><rect x="184.24" y="70.45" width="1.4" height="1.4"/><rect x="177.53" y="71.33" width="1.4" height="1.4"/><rect x="178.17" y="83.58" width="1.4" height="1.4"/><rect x="171.99" y="72.69" width="1.4" height="1.4"/><rect x="186.87" y="79.87" width="1.4" height="1.4"/><rect x="177.22" y="93.84" width="1.4" height="1.4"/><rect x="176.41" y="76.48" width="1.4" height="1.4"/><rect x="172.14" y="76.13" width="1.4" height="1.4"/><rect x="178.15" y="79.59" width="1.4" height="1.4"/><rect x="165.32" y="86.85" width="1.4" height="1.4"/><rect x="173.54" y="77.27" width="1.4" height="1.4"/><rect x="180.82" y="76.67" width="1.4" height="1.4"/><rect x="178.40" y="74.53" width="1.4" height="1.4"/><rect x="172.53" y="84.38" width="1.4" height="1.4"/><rect x="183.57" y="71.18" width="1.4" height="1.4"/><rect x="170.01" y="84.31" width="1.4" height="1.4"/><rect x="178.36" y="77.61" width="1.4" height="1.4"/><rect x="179.42" y="63.40" width="1.4" height="1.4"/><rect x="172.30" y="80.08" width="1.4" height="1.4"/><rect x="178.29" y="80.33" width="1.4" height="1.4"/><rect x="176.69" y="64.71" width="1.4" height="1.4"/><rect x="184.66" y="81.22" width="1.4" height="1.4"/><rect x="174.52" y="77.04" width="1.4" height="1.4"/><rect x="186.74" y="76.14" width="1.4" height="1.4"/><rect x="176.20" y="64.78" width="1.4" height="1.4"/><rect x="174.09" y="95.06" width="1.4" height="1.4"/><rect x="170.44" y="80.76" width="1.4" height="1.4"/><rect x="169.34" y="82.10" width="1.4" height="1.4"/><rect x="175.39" y="84.83" width="1.4" height="1.4"/><rect x="178.21" y="83.57" width="1.4" height="1.4"/><rect x="170.10" y="80.74" width="1.4" height="1.4"/><rect x="183.60" y="74.35" width="1.4" height="1.4"/><rect x="171.95" y="81.82" width="1.4" height="1.4"/><rect x="178.69" y="74.43" width="1.4" height="1.4"/><rect x="180.52" y="72.39" width="1.4" height="1.4"/><rect x="178.22" y="82.37" width="1.4" height="1.4"/><rect x="170.66" y="71.70" width="1.4" height="1.4"/><rect x="189.19" y="63.51" width="1.4" height="1.4"/><rect x="181.06" y="73.32" width="1.4" height="1.4"/><rect x="174.22" y="80.17" width="1.4" height="1.4"/><rect x="173.34" y="74.44" width="1.4" height="1.4"/><rect x="168.13" y="80.80" width="1.4" height="1.4"/><rect x="172.88" y="71.11" width="1.4" height="1.4"/><rect x="182.51" y="68.68" width="1.4" height="1.4"/><rect x="174.06" y="81.83" width="1.4" height="1.4"/><rect x="172.48" y="75.53" width="1.4" height="1.4"/><rect x="178.73" y="65.07" width="1.4" height="1.4"/><rect x="182.93" y="81.71" width="1.4" height="1.4"/><rect x="176.95" y="73.24" width="1.4" height="1.4"/><rect x="172.47" y="83.24" width="1.4" height="1.4"/><rect x="181.14" y="84.16" width="1.4" height="1.4"/><rect x="178.29" y="80.31" width="1.4" height="1.4"/><rect x="183.99" y="57.17" width="1.4" height="1.4"/><rect x="174.13" y="77.88" width="1.4" height="1.4"/><rect x="169.85" y="77.59" width="1.4" height="1.4"/><rect x="171.36" y="78.39" width="1.4" height="1.4"/><rect x="175.34" y="76.02" width="1.4" height="1.4"/><rect x="178.69" y="69.52" width="1.4" height="1.4"/><rect x="179.81" y="74.21" width="1.4" height="1.4"/><rect x="185.78" y="58.86" width="1.4" height="1.4"/><rect x="179.32" y="73.82" width="1.4" height="1.4"/><rect x="182.71" y="63.51" width="1.4" height="1.4"/><rect x="174.35" y="71.60" width="1.4" height="1.4"/><rect x="170.47" y="67.27" width="1.4" height="1.4"/><rect x="171.64" y="86.65" width="1.4" height="1.4"/><rect x="173.46" y="75.05" width="1.4" height="1.4"/><rect x="174.88" y="74.98" width="1.4" height="1.4"/><rect x="175.98" y="76.95" width="1.4" height="1.4"/><rect x="166.67" y="91.58" width="1.4" height="1.4"/><rect x="175.59" y="66.41" width="1.4" height="1.4"/><rect x="176.31" y="78.40" width="1.4" height="1.4"/><rect x="177.08" y="79.12" width="1.4" height="1.4"/><rect x="174.36" y="76.53" width="1.4" height="1.4"/><rect x="179.25" y="77.89" width="1.4" height="1.4"/><rect x="178.01" y="71.60" width="1.4" height="1.4"/><rect x="170.03" y="84.52" width="1.4" height="1.4"/><rect x="175.40" y="83.14" width="1.4" height="1.4"/><rect x="186.47" y="75.47" width="1.4" height="1.4"/><rect x="175.38" y="73.15" width="1.4" height="1.4"/><rect x="181.63" y="80.06" width="1.4" height="1.4"/><rect x="181.97" y="82.00" width="1.4" height="1.4"/><rect x="181.76" y="84.34" width="1.4" height="1.4"/><rect x="174.20" y="74.65" width="1.4" height="1.4"/><rect x="189.48" y="68.21" width="1.4" height="1.4"/><rect x="175.37" y="84.30" width="1.4" height="1.4"/><rect x="180.94" y="62.22" width="1.4" height="1.4"/><rect x="179.16" y="67.93" width="1.4" height="1.4"/><rect x="179.06" y="79.91" width="1.4" height="1.4"/><rect x="180.17" y="68.83" width="1.4" height="1.4"/><rect x="173.02" y="87.31" width="1.4" height="1.4"/><rect x="178.39" y="91.54" width="1.4" height="1.4"/><rect x="171.22" y="85.08" width="1.4" height="1.4"/><rect x="172.31" y="77.29" width="1.4" height="1.4"/><rect x="180.22" y="79.11" width="1.4" height="1.4"/><rect x="179.32" y="80.58" width="1.4" height="1.4"/><rect x="182.65" y="75.98" width="1.4" height="1.4"/><rect x="167.43" y="91.66" width="1.4" height="1.4"/><rect x="183.68" y="72.65" width="1.4" height="1.4"/><rect x="175.90" y="87.83" width="1.4" height="1.4"/><rect x="183.34" y="83.25" width="1.4" height="1.4"/><rect x="171.45" y="77.03" width="1.4" height="1.4"/><rect x="175.52" y="85.26" width="1.4" height="1.4"/><rect x="172.86" y="86.37" width="1.4" height="1.4"/><rect x="168.38" y="81.52" width="1.4" height="1.4"/><rect x="174.78" y="74.41" width="1.4" height="1.4"/><rect x="184.14" y="71.92" width="1.4" height="1.4"/><rect x="177.40" y="69.94" width="1.4" height="1.4"/><rect x="172.04" y="82.61" width="1.4" height="1.4"/><rect x="179.24" y="83.11" width="1.4" height="1.4"/><rect x="179.39" y="84.36" width="1.4" height="1.4"/><rect x="183.16" y="72.90" width="1.4" height="1.4"/><rect x="168.88" y="91.24" width="1.4" height="1.4"/><rect x="180.97" y="64.87" width="1.4" height="1.4"/><rect x="180.77" y="80.77" width="1.4" height="1.4"/><rect x="172.90" y="80.94" width="1.4" height="1.4"/><rect x="175.61" y="71.43" width="1.4" height="1.4"/><rect x="184.11" y="67.81" width="1.4" height="1.4"/><rect x="185.27" y="74.59" width="1.4" height="1.4"/><rect x="175.89" y="64.91" width="1.4" height="1.4"/><rect x="167.32" y="70.60" width="1.4" height="1.4"/><rect x="175.13" y="63.02" width="1.4" height="1.4"/><rect x="177.00" y="63.50" width="1.4" height="1.4"/><rect x="176.95" y="75.94" width="1.4" height="1.4"/><rect x="184.34" y="64.12" width="1.4" height="1.4"/><rect x="177.64" y="73.72" width="1.4" height="1.4"/><rect x="175.11" y="73.61" width="1.4" height="1.4"/><rect x="175.90" y="83.21" width="1.4" height="1.4"/><rect x="172.98" y="76.39" width="1.4" height="1.4"/><rect x="179.75" y="68.74" width="1.4" height="1.4"/><rect x="171.50" y="85.38" width="1.4" height="1.4"/><rect x="190.79" y="73.57" width="1.4" height="1.4"/><rect x="182.17" y="73.51" width="1.4" height="1.4"/><rect x="175.08" y="71.83" width="1.4" height="1.4"/><rect x="167.55" y="92.36" width="1.4" height="1.4"/><rect x="175.68" y="75.56" width="1.4" height="1.4"/><rect x="172.71" y="67.61" width="1.4" height="1.4"/><rect x="172.64" y="80.67" width="1.4" height="1.4"/><rect x="174.96" y="73.53" width="1.4" height="1.4"/><rect x="174.94" y="96.39" width="1.4" height="1.4"/><rect x="177.87" y="69.10" width="1.4" height="1.4"/><rect x="172.67" y="79.75" width="1.4" height="1.4"/><rect x="174.60" y="66.17" width="1.4" height="1.4"/><rect x="167.80" y="89.08" width="1.4" height="1.4"/><rect x="179.43" y="69.42" width="1.4" height="1.4"/><rect x="176.25" y="76.98" width="1.4" height="1.4"/><rect x="184.77" y="70.12" width="1.4" height="1.4"/><rect x="172.62" y="82.17" width="1.4" height="1.4"/><rect x="180.52" y="81.93" width="1.4" height="1.4"/><rect x="185.06" y="56.91" width="1.4" height="1.4"/><rect x="175.49" y="82.23" width="1.4" height="1.4"/><rect x="167.46" y="78.43" width="1.4" height="1.4"/><rect x="171.65" y="75.83" width="1.4" height="1.4"/><rect x="178.08" y="84.87" width="1.4" height="1.4"/><rect x="186.92" y="67.28" width="1.4" height="1.4"/><rect x="183.42" y="61.17" width="1.4" height="1.4"/><rect x="179.04" y="82.24" width="1.4" height="1.4"/><rect x="171.34" y="89.16" width="1.4" height="1.4"/><rect x="179.48" y="64.99" width="1.4" height="1.4"/><rect x="178.09" y="65.12" width="1.4" height="1.4"/><rect x="184.14" y="69.78" width="1.4" height="1.4"/><rect x="182.42" y="66.11" width="1.4" height="1.4"/><rect x="174.43" y="82.23" width="1.4" height="1.4"/><rect x="175.96" y="76.26" width="1.4" height="1.4"/><rect x="176.31" y="87.63" width="1.4" height="1.4"/><rect x="175.24" y="87.60" width="1.4" height="1.4"/><rect x="177.03" y="65.95" width="1.4" height="1.4"/><rect x="183.12" y="83.28" width="1.4" height="1.4"/><rect x="185.16" y="56.60" width="1.4" height="1.4"/><rect x="178.05" y="74.69" width="1.4" height="1.4"/><rect x="182.21" y="82.69" width="1.4" height="1.4"/><rect x="184.28" y="70.04" width="1.4" height="1.4"/><rect x="182.40" y="60.13" width="1.4" height="1.4"/><rect x="181.38" y="71.98" width="1.4" height="1.4"/><rect x="169.97" y="84.00" width="1.4" height="1.4"/><rect x="176.15" y="71.32" width="1.4" height="1.4"/><rect x="172.15" y="60.69" width="1.4" height="1.4"/><rect x="181.54" y="81.10" width="1.4" height="1.4"/><rect x="167.73" y="79.15" width="1.4" height="1.4"/><rect x="183.45" y="67.75" width="1.4" height="1.4"/><rect x="174.72" y="72.98" width="1.4" height="1.4"/><rect x="170.67" y="83.16" width="1.4" height="1.4"/><rect x="175.94" y="78.20" width="1.4" height="1.4"/><rect x="176.83" y="81.98" width="1.4" height="1.4"/><rect x="181.17" y="73.67" width="1.4" height="1.4"/><rect x="185.51" y="76.83" width="1.4" height="1.4"/><rect x="182.47" y="66.18" width="1.4" height="1.4"/><rect x="183.44" y="70.58" width="1.4" height="1.4"/><rect x="170.99" y="87.54" width="1.4" height="1.4"/><rect x="181.90" y="72.88" width="1.4" height="1.4"/><rect x="180.91" y="68.02" width="1.4" height="1.4"/><rect x="177.12" y="70.85" width="1.4" height="1.4"/><rect x="180.24" y="66.56" width="1.4" height="1.4"/><rect x="176.03" y="79.81" width="1.4" height="1.4"/><rect x="175.98" y="83.51" width="1.4" height="1.4"/><rect x="182.04" y="68.08" width="1.4" height="1.4"/><rect x="172.74" y="83.50" width="1.4" height="1.4"/><rect x="168.75" y="92.33" width="1.4" height="1.4"/><rect x="183.75" y="67.76" width="1.4" height="1.4"/><rect x="168.71" y="79.01" width="1.4" height="1.4"/><rect x="174.37" y="77.01" width="1.4" height="1.4"/><rect x="180.43" y="89.12" width="1.4" height="1.4"/><rect x="162.83" y="82.64" width="1.4" height="1.4"/><rect x="171.71" y="84.01" width="1.4" height="1.4"/><rect x="179.68" y="79.26" width="1.4" height="1.4"/><rect x="171.92" y="69.93" width="1.4" height="1.4"/><rect x="182.32" y="98.08" width="1.4" height="1.4"/><rect x="169.06" y="65.45" width="1.4" height="1.4"/><rect x="180.54" y="87.16" width="1.4" height="1.4"/><rect x="181.37" y="86.36" width="1.4" height="1.4"/><rect x="183.50" y="70.90" width="1.4" height="1.4"/><rect x="176.67" y="75.62" width="1.4" height="1.4"/><rect x="175.06" y="88.63" width="1.4" height="1.4"/><rect x="179.14" y="58.65" width="1.4" height="1.4"/><rect x="178.81" y="83.61" width="1.4" height="1.4"/><rect x="173.80" y="71.69" width="1.4" height="1.4"/><rect x="177.21" y="73.25" width="1.4" height="1.4"/><rect x="185.85" y="64.88" width="1.4" height="1.4"/><rect x="171.89" y="77.57" width="1.4" height="1.4"/><rect x="179.06" y="66.37" width="1.4" height="1.4"/><rect x="176.44" y="81.73" width="1.4" height="1.4"/><rect x="175.29" y="64.07" width="1.4" height="1.4"/><rect x="180.56" y="83.28" width="1.4" height="1.4"/><rect x="178.23" y="78.80" width="1.4" height="1.4"/><rect x="176.70" y="57.37" width="1.4" height="1.4"/><rect x="178.48" y="72.59" width="1.4" height="1.4"/><rect x="174.86" y="73.31" width="1.4" height="1.4"/><rect x="181.24" y="55.66" width="1.4" height="1.4"/><rect x="179.12" y="72.39" width="1.4" height="1.4"/><rect x="172.58" y="81.14" width="1.4" height="1.4"/><rect x="183.86" y="70.49" width="1.4" height="1.4"/><rect x="171.60" y="84.20" width="1.4" height="1.4"/><rect x="185.01" y="67.22" width="1.4" height="1.4"/><rect x="180.94" y="65.16" width="1.4" height="1.4"/><rect x="179.80" y="81.27" width="1.4" height="1.4"/><rect x="173.81" y="79.80" width="1.4" height="1.4"/><rect x="176.18" y="73.13" width="1.4" height="1.4"/><rect x="173.02" y="73.59" width="1.4" height="1.4"/><rect x="177.52" y="84.27" width="1.4" height="1.4"/><rect x="183.29" y="71.85" width="1.4" height="1.4"/><rect x="181.02" y="95.29" width="1.4" height="1.4"/><rect x="182.00" y="80.70" width="1.4" height="1.4"/><rect x="177.73" y="79.02" width="1.4" height="1.4"/><rect x="176.16" y="77.29" width="1.4" height="1.4"/><rect x="180.27" y="73.27" width="1.4" height="1.4"/><rect x="174.30" y="85.52" width="1.4" height="1.4"/><rect x="185.54" y="72.40" width="1.4" height="1.4"/><rect x="181.25" y="78.11" width="1.4" height="1.4"/><rect x="172.51" y="79.58" width="1.4" height="1.4"/><rect x="171.16" y="85.77" width="1.4" height="1.4"/><rect x="180.25" y="87.07" width="1.4" height="1.4"/><rect x="180.08" y="72.71" width="1.4" height="1.4"/><rect x="174.17" y="83.04" width="1.4" height="1.4"/><rect x="182.93" y="76.40" width="1.4" height="1.4"/><rect x="179.11" y="65.89" width="1.4" height="1.4"/><rect x="179.48" y="66.28" width="1.4" height="1.4"/><rect x="180.18" y="61.62" width="1.4" height="1.4"/><rect x="168.79" y="75.07" width="1.4" height="1.4"/><rect x="178.42" y="85.56" width="1.4" height="1.4"/><rect x="175.56" y="65.10" width="1.4" height="1.4"/><rect x="176.28" y="71.93" width="1.4" height="1.4"/><rect x="177.79" y="64.88" width="1.4" height="1.4"/><rect x="180.87" y="76.21" width="1.4" height="1.4"/><rect x="180.81" y="65.21" width="1.4" height="1.4"/><rect x="180.20" y="68.25" width="1.4" height="1.4"/><rect x="172.76" y="67.00" width="1.4" height="1.4"/><rect x="178.82" y="70.97" width="1.4" height="1.4"/><rect x="172.73" y="69.94" width="1.4" height="1.4"/><rect x="179.73" y="73.78" width="1.4" height="1.4"/><rect x="179.96" y="73.92" width="1.4" height="1.4"/><rect x="180.46" y="67.00" width="1.4" height="1.4"/><rect x="184.93" y="82.40" width="1.4" height="1.4"/><rect x="184.79" y="61.52" width="1.4" height="1.4"/><rect x="180.00" y="77.01" width="1.4" height="1.4"/><rect x="181.11" y="67.26" width="1.4" height="1.4"/><rect x="176.75" y="75.79" width="1.4" height="1.4"/><rect x="181.16" y="78.69" width="1.4" height="1.4"/><rect x="188.01" y="59.84" width="1.4" height="1.4"/><rect x="171.51" y="76.09" width="1.4" height="1.4"/><rect x="178.68" y="87.43" width="1.4" height="1.4"/><rect x="177.98" y="81.98" width="1.4" height="1.4"/><rect x="180.94" y="79.28" width="1.4" height="1.4"/><rect x="185.69" y="57.93" width="1.4" height="1.4"/><rect x="173.17" y="71.86" width="1.4" height="1.4"/><rect x="175.48" y="65.87" width="1.4" height="1.4"/><rect x="182.66" y="86.19" width="1.4" height="1.4"/><rect x="179.83" y="72.70" width="1.4" height="1.4"/><rect x="173.73" y="67.73" width="1.4" height="1.4"/><rect x="184.22" y="60.72" width="1.4" height="1.4"/><rect x="174.37" y="80.62" width="1.4" height="1.4"/><rect x="171.76" y="67.71" width="1.4" height="1.4"/><rect x="169.07" y="69.61" width="1.4" height="1.4"/><rect x="168.29" y="81.63" width="1.4" height="1.4"/><rect x="178.88" y="75.84" width="1.4" height="1.4"/><rect x="176.87" y="77.44" width="1.4" height="1.4"/><rect x="170.35" y="94.39" width="1.4" height="1.4"/><rect x="180.64" y="70.69" width="1.4" height="1.4"/><rect x="181.80" y="71.61" width="1.4" height="1.4"/><rect x="167.80" y="76.07" width="1.4" height="1.4"/><rect x="172.85" y="86.07" width="1.4" height="1.4"/><rect x="178.42" y="61.79" width="1.4" height="1.4"/><rect x="173.38" y="71.38" width="1.4" height="1.4"/><rect x="178.32" y="66.05" width="1.4" height="1.4"/><rect x="181.18" y="63.34" width="1.4" height="1.4"/><rect x="175.25" y="79.29" width="1.4" height="1.4"/><rect x="173.96" y="66.51" width="1.4" height="1.4"/><rect x="175.12" y="76.65" width="1.4" height="1.4"/><rect x="186.05" y="78.60" width="1.4" height="1.4"/><rect x="173.16" y="74.56" width="1.4" height="1.4"/><rect x="170.75" y="72.98" width="1.4" height="1.4"/><rect x="182.02" y="66.37" width="1.4" height="1.4"/><rect x="180.63" y="75.09" width="1.4" height="1.4"/><rect x="179.31" y="77.22" width="1.4" height="1.4"/><rect x="172.36" y="76.07" width="1.4" height="1.4"/><rect x="182.91" y="73.82" width="1.4" height="1.4"/><rect x="172.05" y="81.70" width="1.4" height="1.4"/><rect x="171.67" y="77.94" width="1.4" height="1.4"/><rect x="175.11" y="74.90" width="1.4" height="1.4"/><rect x="175.79" y="79.88" width="1.4" height="1.4"/><rect x="180.46" y="77.27" width="1.4" height="1.4"/><rect x="178.72" y="81.26" width="1.4" height="1.4"/><rect x="183.23" y="58.52" width="1.4" height="1.4"/><rect x="185.36" y="65.48" width="1.4" height="1.4"/><rect x="179.38" y="71.65" width="1.4" height="1.4"/><rect x="181.40" y="76.98" width="1.4" height="1.4"/><rect x="177.98" y="55.06" width="1.4" height="1.4"/><rect x="172.11" y="70.43" width="1.4" height="1.4"/><rect x="180.80" y="77.10" width="1.4" height="1.4"/><rect x="172.83" y="70.85" width="1.4" height="1.4"/><rect x="177.38" y="72.33" width="1.4" height="1.4"/><rect x="181.28" y="63.38" width="1.4" height="1.4"/><rect x="175.71" y="74.79" width="1.4" height="1.4"/><rect x="181.69" y="57.13" width="1.4" height="1.4"/><rect x="181.19" y="84.59" width="1.4" height="1.4"/><rect x="169.14" y="66.01" width="1.4" height="1.4"/><rect x="178.73" y="84.89" width="1.4" height="1.4"/><rect x="192.40" y="63.28" width="1.4" height="1.4"/><rect x="176.99" y="78.09" width="1.4" height="1.4"/><rect x="177.56" y="75.76" width="1.4" height="1.4"/><rect x="183.38" y="68.58" width="1.4" height="1.4"/><rect x="188.90" y="67.33" width="1.4" height="1.4"/><rect x="169.77" y="82.95" width="1.4" height="1.4"/><rect x="177.21" y="78.31" width="1.4" height="1.4"/><rect x="173.18" y="86.70" width="1.4" height="1.4"/><rect x="180.52" y="74.92" width="1.4" height="1.4"/><rect x="178.19" y="76.37" width="1.4" height="1.4"/><rect x="179.59" y="79.13" width="1.4" height="1.4"/><rect x="174.15" y="80.44" width="1.4" height="1.4"/><rect x="176.94" y="78.59" width="1.4" height="1.4"/><rect x="172.94" y="80.61" width="1.4" height="1.4"/><rect x="176.48" y="69.96" width="1.4" height="1.4"/><rect x="181.39" y="62.44" width="1.4" height="1.4"/><rect x="171.88" y="91.24" width="1.4" height="1.4"/><rect x="172.58" y="74.65" width="1.4" height="1.4"/><rect x="183.21" y="80.96" width="1.4" height="1.4"/><rect x="178.59" y="71.00" width="1.4" height="1.4"/><rect x="169.39" y="81.35" width="1.4" height="1.4"/><rect x="182.00" y="78.04" width="1.4" height="1.4"/><rect x="171.81" y="82.96" width="1.4" height="1.4"/><rect x="181.85" y="70.18" width="1.4" height="1.4"/><rect x="178.00" y="74.45" width="1.4" height="1.4"/><rect x="178.40" y="76.99" width="1.4" height="1.4"/><rect x="179.54" y="72.44" width="1.4" height="1.4"/><rect x="174.72" y="76.57" width="1.4" height="1.4"/><rect x="173.69" y="88.34" width="1.4" height="1.4"/><rect x="187.94" y="73.12" width="1.4" height="1.4"/><rect x="169.25" y="69.81" width="1.4" height="1.4"/><rect x="177.65" y="76.68" width="1.4" height="1.4"/><rect x="182.33" y="67.67" width="1.4" height="1.4"/><rect x="176.76" y="63.67" width="1.4" height="1.4"/><rect x="169.06" y="82.54" width="1.4" height="1.4"/><rect x="184.67" y="84.80" width="1.4" height="1.4"/><rect x="180.51" y="61.86" width="1.4" height="1.4"/><rect x="190.40" y="66.31" width="1.4" height="1.4"/><rect x="178.00" y="82.21" width="1.4" height="1.4"/><rect x="174.86" y="85.27" width="1.4" height="1.4"/><rect x="178.03" y="81.28" width="1.4" height="1.4"/><rect x="179.08" y="80.34" width="1.4" height="1.4"/><rect x="178.36" y="90.16" width="1.4" height="1.4"/><rect x="179.71" y="75.64" width="1.4" height="1.4"/><rect x="174.87" y="86.20" width="1.4" height="1.4"/><rect x="175.20" y="85.66" width="1.4" height="1.4"/><rect x="185.98" y="69.51" width="1.4" height="1.4"/><rect x="179.33" y="82.14" width="1.4" height="1.4"/><rect x="173.42" y="74.52" width="1.4" height="1.4"/><rect x="176.88" y="69.17" width="1.4" height="1.4"/><rect x="181.42" y="68.96" width="1.4" height="1.4"/><rect x="174.27" y="77.26" width="1.4" height="1.4"/><rect x="176.35" y="74.41" width="1.4" height="1.4"/><rect x="171.53" y="80.88" width="1.4" height="1.4"/><rect x="181.53" y="60.34" width="1.4" height="1.4"/><rect x="181.36" y="70.45" width="1.4" height="1.4"/><rect x="178.92" y="85.89" width="1.4" height="1.4"/><rect x="177.85" y="75.28" width="1.4" height="1.4"/><rect x="188.44" y="72.20" width="1.4" height="1.4"/><rect x="178.80" y="71.19" width="1.4" height="1.4"/><rect x="196.19" y="64.42" width="1.4" height="1.4"/><rect x="185.77" y="65.21" width="1.4" height="1.4"/><rect x="178.39" y="80.49" width="1.4" height="1.4"/><rect x="175.47" y="75.36" width="1.4" height="1.4"/><rect x="162.46" y="82.11" width="1.4" height="1.4"/><rect x="177.84" y="73.00" width="1.4" height="1.4"/><rect x="178.96" y="74.28" width="1.4" height="1.4"/><rect x="193.29" y="55.36" width="1.4" height="1.4"/><rect x="172.30" y="72.58" width="1.4" height="1.4"/><rect x="179.99" y="95.42" width="1.4" height="1.4"/><rect x="174.90" y="80.57" width="1.4" height="1.4"/><rect x="181.14" y="75.36" width="1.4" height="1.4"/><rect x="163.72" y="82.29" width="1.4" height="1.4"/><rect x="175.99" y="82.74" width="1.4" height="1.4"/><rect x="175.36" y="77.88" width="1.4" height="1.4"/><rect x="181.59" y="73.38" width="1.4" height="1.4"/><rect x="177.73" y="76.81" width="1.4" height="1.4"/><rect x="170.58" y="81.16" width="1.4" height="1.4"/><rect x="183.93" y="70.02" width="1.4" height="1.4"/><rect x="179.21" y="80.77" width="1.4" height="1.4"/><rect x="178.92" y="80.30" width="1.4" height="1.4"/><rect x="178.21" y="88.22" width="1.4" height="1.4"/><rect x="180.23" y="83.39" width="1.4" height="1.4"/><rect x="179.51" y="69.82" width="1.4" height="1.4"/><rect x="167.67" y="86.95" width="1.4" height="1.4"/><rect x="171.82" y="73.99" width="1.4" height="1.4"/><rect x="185.42" y="71.16" width="1.4" height="1.4"/><rect x="179.73" y="79.43" width="1.4" height="1.4"/><rect x="178.89" y="73.44" width="1.4" height="1.4"/><rect x="172.90" y="84.03" width="1.4" height="1.4"/><rect x="181.55" y="64.39" width="1.4" height="1.4"/><rect x="180.94" y="66.13" width="1.4" height="1.4"/><rect x="177.04" y="72.87" width="1.4" height="1.4"/><rect x="170.04" y="89.00" width="1.4" height="1.4"/><rect x="183.96" y="87.03" width="1.4" height="1.4"/><rect x="181.45" y="67.45" width="1.4" height="1.4"/><rect x="179.99" y="60.15" width="1.4" height="1.4"/><rect x="173.18" y="71.03" width="1.4" height="1.4"/><rect x="178.21" y="63.88" width="1.4" height="1.4"/><rect x="179.13" y="81.37" width="1.4" height="1.4"/><rect x="180.45" y="77.93" width="1.4" height="1.4"/><rect x="176.89" y="74.99" width="1.4" height="1.4"/><rect x="179.18" y="71.84" width="1.4" height="1.4"/><rect x="172.31" y="87.66" width="1.4" height="1.4"/><rect x="175.77" y="65.91" width="1.4" height="1.4"/><rect x="186.89" y="66.04" width="1.4" height="1.4"/><rect x="176.19" y="85.41" width="1.4" height="1.4"/><rect x="184.41" y="90.04" width="1.4" height="1.4"/><rect x="175.61" y="71.33" width="1.4" height="1.4"/><rect x="175.42" y="80.58" width="1.4" height="1.4"/><rect x="174.95" y="96.33" width="1.4" height="1.4"/><rect x="179.01" y="68.20" width="1.4" height="1.4"/><rect x="172.43" y="72.09" width="1.4" height="1.4"/><rect x="172.52" y="77.97" width="1.4" height="1.4"/><rect x="184.05" y="57.78" width="1.4" height="1.4"/><rect x="179.62" y="74.61" width="1.4" height="1.4"/><rect x="175.33" y="81.47" width="1.4" height="1.4"/><rect x="182.27" y="75.84" width="1.4" height="1.4"/><rect x="179.08" y="85.36" width="1.4" height="1.4"/><rect x="177.05" y="82.11" width="1.4" height="1.4"/><rect x="178.98" y="72.11" width="1.4" height="1.4"/><rect x="175.21" y="79.58" width="1.4" height="1.4"/><rect x="178.86" y="79.83" width="1.4" height="1.4"/><rect x="186.25" y="62.62" width="1.4" height="1.4"/><rect x="180.42" y="68.20" width="1.4" height="1.4"/><rect x="181.89" y="69.21" width="1.4" height="1.4"/><rect x="177.90" y="70.43" width="1.4" height="1.4"/><rect x="173.24" y="69.31" width="1.4" height="1.4"/><rect x="177.63" y="61.75" width="1.4" height="1.4"/><rect x="180.95" y="76.52" width="1.4" height="1.4"/><rect x="184.78" y="60.41" width="1.4" height="1.4"/><rect x="181.82" y="85.44" width="1.4" height="1.4"/><rect x="177.33" y="77.51" width="1.4" height="1.4"/><rect x="177.61" y="88.01" width="1.4" height="1.4"/><rect x="182.38" y="80.00" width="1.4" height="1.4"/><rect x="183.38" y="72.34" width="1.4" height="1.4"/><rect x="179.26" y="62.33" width="1.4" height="1.4"/><rect x="175.20" y="80.59" width="1.4" height="1.4"/><rect x="178.36" y="75.43" width="1.4" height="1.4"/><rect x="172.69" y="76.94" width="1.4" height="1.4"/><rect x="177.74" y="82.13" width="1.4" height="1.4"/><rect x="178.80" y="86.65" width="1.4" height="1.4"/><rect x="175.96" y="74.13" width="1.4" height="1.4"/><rect x="181.27" y="92.49" width="1.4" height="1.4"/><rect x="176.89" y="73.98" width="1.4" height="1.4"/><rect x="177.01" y="74.85" width="1.4" height="1.4"/><rect x="174.99" y="80.47" width="1.4" height="1.4"/><rect x="172.05" y="82.77" width="1.4" height="1.4"/><rect x="175.73" y="87.44" width="1.4" height="1.4"/><rect x="183.04" y="59.69" width="1.4" height="1.4"/><rect x="181.04" y="88.81" width="1.4" height="1.4"/><rect x="184.63" y="63.12" width="1.4" height="1.4"/><rect x="181.70" y="71.03" width="1.4" height="1.4"/><rect x="175.87" y="78.04" width="1.4" height="1.4"/><rect x="168.70" y="83.02" width="1.4" height="1.4"/><rect x="180.30" y="66.46" width="1.4" height="1.4"/><rect x="179.02" y="59.67" width="1.4" height="1.4"/><rect x="179.20" y="84.42" width="1.4" height="1.4"/><rect x="176.85" y="77.75" width="1.4" height="1.4"/><rect x="187.66" y="68.81" width="1.4" height="1.4"/><rect x="181.80" y="73.51" width="1.4" height="1.4"/><rect x="186.81" y="59.74" width="1.4" height="1.4"/><rect x="177.19" y="80.38" width="1.4" height="1.4"/><rect x="180.17" y="71.06" width="1.4" height="1.4"/><rect x="177.08" y="86.65" width="1.4" height="1.4"/><rect x="187.44" y="59.06" width="1.4" height="1.4"/><rect x="172.82" y="80.42" width="1.4" height="1.4"/><rect x="173.77" y="94.43" width="1.4" height="1.4"/><rect x="188.41" y="79.97" width="1.4" height="1.4"/><rect x="177.04" y="76.34" width="1.4" height="1.4"/><rect x="182.01" y="58.94" width="1.4" height="1.4"/><rect x="173.97" y="77.18" width="1.4" height="1.4"/><rect x="171.71" y="73.41" width="1.4" height="1.4"/><rect x="184.40" y="71.98" width="1.4" height="1.4"/><rect x="182.43" y="62.13" width="1.4" height="1.4"/><rect x="178.88" y="76.24" width="1.4" height="1.4"/><rect x="188.37" y="69.16" width="1.4" height="1.4"/><rect x="189.71" y="74.43" width="1.4" height="1.4"/><rect x="173.27" y="76.55" width="1.4" height="1.4"/><rect x="182.42" y="76.11" width="1.4" height="1.4"/><rect x="180.49" y="75.92" width="1.4" height="1.4"/><rect x="176.94" y="83.51" width="1.4" height="1.4"/><rect x="183.15" y="65.82" width="1.4" height="1.4"/><rect x="173.89" y="86.85" width="1.4" height="1.4"/><rect x="187.68" y="67.71" width="1.4" height="1.4"/><rect x="183.01" y="68.17" width="1.4" height="1.4"/><rect x="178.99" y="76.56" width="1.4" height="1.4"/><rect x="180.91" y="83.42" width="1.4" height="1.4"/><rect x="180.93" y="78.43" width="1.4" height="1.4"/><rect x="181.04" y="71.99" width="1.4" height="1.4"/><rect x="181.23" y="69.54" width="1.4" height="1.4"/><rect x="185.94" y="75.33" width="1.4" height="1.4"/><rect x="182.68" y="67.72" width="1.4" height="1.4"/><rect x="175.90" y="79.84" width="1.4" height="1.4"/><rect x="174.88" y="72.16" width="1.4" height="1.4"/><rect x="172.05" y="87.94" width="1.4" height="1.4"/><rect x="175.53" y="67.48" width="1.4" height="1.4"/><rect x="178.68" y="74.17" width="1.4" height="1.4"/><rect x="177.74" y="79.13" width="1.4" height="1.4"/><rect x="172.45" y="62.77" width="1.4" height="1.4"/><rect x="179.80" y="69.55" width="1.4" height="1.4"/><rect x="172.76" y="99.73" width="1.4" height="1.4"/><rect x="178.62" y="75.20" width="1.4" height="1.4"/><rect x="169.81" y="86.15" width="1.4" height="1.4"/><rect x="186.05" y="68.14" width="1.4" height="1.4"/><rect x="181.77" y="53.54" width="1.4" height="1.4"/><rect x="171.25" y="77.94" width="1.4" height="1.4"/><rect x="173.50" y="73.19" width="1.4" height="1.4"/><rect x="177.06" y="77.38" width="1.4" height="1.4"/><rect x="182.88" y="73.73" width="1.4" height="1.4"/><rect x="184.46" y="71.52" width="1.4" height="1.4"/><rect x="182.24" y="64.84" width="1.4" height="1.4"/><rect x="170.10" y="81.91" width="1.4" height="1.4"/><rect x="179.40" y="61.26" width="1.4" height="1.4"/><rect x="171.49" y="81.85" width="1.4" height="1.4"/><rect x="177.83" y="72.74" width="1.4" height="1.4"/><rect x="173.59" y="63.17" width="1.4" height="1.4"/><rect x="180.24" y="69.50" width="1.4" height="1.4"/><rect x="177.91" y="84.03" width="1.4" height="1.4"/><rect x="175.25" y="80.96" width="1.4" height="1.4"/><rect x="178.45" y="79.80" width="1.4" height="1.4"/><rect x="173.74" y="74.43" width="1.4" height="1.4"/><rect x="174.89" y="63.71" width="1.4" height="1.4"/><rect x="171.58" y="85.22" width="1.4" height="1.4"/><rect x="183.93" y="73.00" width="1.4" height="1.4"/><rect x="183.79" y="71.62" width="1.4" height="1.4"/><rect x="177.43" y="70.01" width="1.4" height="1.4"/><rect x="184.12" y="73.06" width="1.4" height="1.4"/><rect x="180.63" y="62.16" width="1.4" height="1.4"/><rect x="185.47" y="73.31" width="1.4" height="1.4"/><rect x="182.18" y="68.81" width="1.4" height="1.4"/><rect x="177.47" y="69.97" width="1.4" height="1.4"/><rect x="186.07" y="61.41" width="1.4" height="1.4"/><rect x="169.33" y="90.11" width="1.4" height="1.4"/><rect x="177.43" y="63.30" width="1.4" height="1.4"/><rect x="171.02" y="75.48" width="1.4" height="1.4"/><rect x="178.11" y="78.00" width="1.4" height="1.4"/><rect x="174.90" y="83.33" width="1.4" height="1.4"/><rect x="172.32" y="90.81" width="1.4" height="1.4"/><rect x="175.03" y="77.93" width="1.4" height="1.4"/><rect x="181.91" y="83.03" width="1.4" height="1.4"/><rect x="177.39" y="70.59" width="1.4" height="1.4"/><rect x="170.72" y="86.61" width="1.4" height="1.4"/><rect x="186.95" y="65.05" width="1.4" height="1.4"/><rect x="184.49" y="74.99" width="1.4" height="1.4"/><rect x="178.53" y="77.84" width="1.4" height="1.4"/><rect x="168.57" y="78.83" width="1.4" height="1.4"/><rect x="173.12" y="81.05" width="1.4" height="1.4"/><rect x="177.24" y="85.59" width="1.4" height="1.4"/><rect x="176.37" y="79.87" width="1.4" height="1.4"/><rect x="184.31" y="77.39" width="1.4" height="1.4"/><rect x="171.60" y="74.90" width="1.4" height="1.4"/><rect x="176.73" y="88.06" width="1.4" height="1.4"/><rect x="174.45" y="76.66" width="1.4" height="1.4"/><rect x="180.87" y="84.59" width="1.4" height="1.4"/><rect x="177.93" y="73.86" width="1.4" height="1.4"/><rect x="187.25" y="61.14" width="1.4" height="1.4"/><rect x="176.82" y="69.18" width="1.4" height="1.4"/><rect x="171.05" y="75.97" width="1.4" height="1.4"/><rect x="168.68" y="87.35" width="1.4" height="1.4"/><rect x="171.36" y="86.29" width="1.4" height="1.4"/><rect x="168.87" y="87.98" width="1.4" height="1.4"/><rect x="184.82" y="70.89" width="1.4" height="1.4"/><rect x="181.28" y="83.54" width="1.4" height="1.4"/><rect x="179.11" y="75.15" width="1.4" height="1.4"/><rect x="171.76" y="79.07" width="1.4" height="1.4"/><rect x="177.56" y="74.37" width="1.4" height="1.4"/><rect x="178.80" y="62.64" width="1.4" height="1.4"/><rect x="181.99" y="83.03" width="1.4" height="1.4"/><rect x="178.18" y="78.58" width="1.4" height="1.4"/><rect x="177.62" y="82.71" width="1.4" height="1.4"/><rect x="178.54" y="67.44" width="1.4" height="1.4"/><rect x="166.57" y="81.10" width="1.4" height="1.4"/><rect x="171.45" y="83.70" width="1.4" height="1.4"/><rect x="169.31" y="85.36" width="1.4" height="1.4"/><rect x="175.46" y="87.58" width="1.4" height="1.4"/><rect x="179.50" y="71.50" width="1.4" height="1.4"/><rect x="181.54" y="52.73" width="1.4" height="1.4"/><rect x="173.43" y="83.08" width="1.4" height="1.4"/><rect x="186.97" y="69.51" width="1.4" height="1.4"/><rect x="174.48" y="71.88" width="1.4" height="1.4"/><rect x="170.93" y="83.24" width="1.4" height="1.4"/><rect x="176.08" y="77.30" width="1.4" height="1.4"/><rect x="174.24" y="76.28" width="1.4" height="1.4"/><rect x="174.10" y="80.48" width="1.4" height="1.4"/><rect x="185.34" y="59.90" width="1.4" height="1.4"/><rect x="179.78" y="93.62" width="1.4" height="1.4"/><rect x="171.42" y="69.66" width="1.4" height="1.4"/><rect x="178.64" y="72.50" width="1.4" height="1.4"/><rect x="176.37" y="80.20" width="1.4" height="1.4"/><rect x="177.86" y="73.93" width="1.4" height="1.4"/><rect x="179.44" y="67.71" width="1.4" height="1.4"/><rect x="176.80" y="73.55" width="1.4" height="1.4"/><rect x="183.15" y="73.20" width="1.4" height="1.4"/><rect x="177.77" y="68.87" width="1.4" height="1.4"/><rect x="171.66" y="92.11" width="1.4" height="1.4"/><rect x="181.88" y="62.95" width="1.4" height="1.4"/><rect x="184.53" y="56.41" width="1.4" height="1.4"/><rect x="179.79" y="66.87" width="1.4" height="1.4"/><rect x="184.77" y="68.21" width="1.4" height="1.4"/><rect x="173.88" y="87.06" width="1.4" height="1.4"/><rect x="178.20" y="76.53" width="1.4" height="1.4"/><rect x="175.35" y="82.02" width="1.4" height="1.4"/><rect x="171.99" y="78.82" width="1.4" height="1.4"/><rect x="177.00" y="66.07" width="1.4" height="1.4"/><rect x="171.20" y="80.57" width="1.4" height="1.4"/><rect x="178.25" y="76.65" width="1.4" height="1.4"/><rect x="169.56" y="90.27" width="1.4" height="1.4"/><rect x="172.93" y="75.16" width="1.4" height="1.4"/><rect x="179.04" y="74.88" width="1.4" height="1.4"/><rect x="178.05" y="81.91" width="1.4" height="1.4"/><rect x="168.46" y="78.89" width="1.4" height="1.4"/><rect x="190.06" y="61.87" width="1.4" height="1.4"/><rect x="174.60" y="85.45" width="1.4" height="1.4"/><rect x="174.46" y="83.93" width="1.4" height="1.4"/><rect x="180.03" y="83.53" width="1.4" height="1.4"/><rect x="181.40" y="65.38" width="1.4" height="1.4"/><rect x="181.07" y="56.91" width="1.4" height="1.4"/><rect x="187.89" y="75.55" width="1.4" height="1.4"/><rect x="171.33" y="79.81" width="1.4" height="1.4"/><rect x="176.21" y="78.74" width="1.4" height="1.4"/><rect x="184.28" y="67.57" width="1.4" height="1.4"/><rect x="170.82" y="81.44" width="1.4" height="1.4"/><rect x="181.38" y="63.02" width="1.4" height="1.4"/><rect x="183.32" y="64.00" width="1.4" height="1.4"/><rect x="188.03" y="78.02" width="1.4" height="1.4"/><rect x="175.85" y="68.67" width="1.4" height="1.4"/><rect x="179.67" y="68.97" width="1.4" height="1.4"/><rect x="184.84" y="63.22" width="1.4" height="1.4"/><rect x="175.24" y="84.20" width="1.4" height="1.4"/><rect x="176.03" y="63.77" width="1.4" height="1.4"/><rect x="169.11" y="81.13" width="1.4" height="1.4"/><rect x="167.31" y="82.16" width="1.4" height="1.4"/><rect x="171.55" y="82.33" width="1.4" height="1.4"/><rect x="178.91" y="81.95" width="1.4" height="1.4"/><rect x="175.08" y="80.48" width="1.4" height="1.4"/><rect x="177.57" y="86.21" width="1.4" height="1.4"/><rect x="171.81" y="83.43" width="1.4" height="1.4"/><rect x="166.85" y="90.31" width="1.4" height="1.4"/><rect x="166.11" y="83.13" width="1.4" height="1.4"/><rect x="170.00" y="82.98" width="1.4" height="1.4"/><rect x="174.98" y="90.32" width="1.4" height="1.4"/><rect x="172.72" y="85.47" width="1.4" height="1.4"/><rect x="171.27" y="91.05" width="1.4" height="1.4"/><rect x="178.45" y="78.86" width="1.4" height="1.4"/><rect x="177.91" y="74.21" width="1.4" height="1.4"/><rect x="169.40" y="86.88" width="1.4" height="1.4"/><rect x="172.94" y="83.49" width="1.4" height="1.4"/><rect x="172.88" y="87.89" width="1.4" height="1.4"/><rect x="176.77" y="79.74" width="1.4" height="1.4"/><rect x="174.33" y="84.07" width="1.4" height="1.4"/><rect x="172.07" y="85.22" width="1.4" height="1.4"/><rect x="167.97" y="84.87" width="1.4" height="1.4"/><rect x="170.79" y="84.11" width="1.4" height="1.4"/><rect x="164.98" y="88.51" width="1.4" height="1.4"/><rect x="176.83" y="83.89" width="1.4" height="1.4"/><rect x="161.89" y="84.65" width="1.4" height="1.4"/><rect x="172.20" y="82.10" width="1.4" height="1.4"/><rect x="179.89" y="89.55" width="1.4" height="1.4"/><rect x="173.51" y="78.96" width="1.4" height="1.4"/><rect x="167.36" y="83.05" width="1.4" height="1.4"/><rect x="174.40" y="80.00" width="1.4" height="1.4"/><rect x="172.88" y="92.70" width="1.4" height="1.4"/><rect x="172.63" y="81.83" width="1.4" height="1.4"/><rect x="172.71" y="87.72" width="1.4" height="1.4"/><rect x="172.24" y="84.51" width="1.4" height="1.4"/><rect x="170.24" y="84.16" width="1.4" height="1.4"/><rect x="185.00" y="86.97" width="1.4" height="1.4"/><rect x="165.31" y="95.84" width="1.4" height="1.4"/><rect x="170.45" y="82.53" width="1.4" height="1.4"/><rect x="165.01" y="91.98" width="1.4" height="1.4"/><rect x="176.33" y="79.87" width="1.4" height="1.4"/><rect x="166.61" y="96.29" width="1.4" height="1.4"/><rect x="170.85" y="92.05" width="1.4" height="1.4"/><rect x="166.62" y="94.20" width="1.4" height="1.4"/><rect x="171.45" y="73.92" width="1.4" height="1.4"/><rect x="169.15" y="93.03" width="1.4" height="1.4"/><rect x="170.59" y="84.08" width="1.4" height="1.4"/><rect x="168.66" y="87.47" width="1.4" height="1.4"/><rect x="160.66" y="91.51" width="1.4" height="1.4"/><rect x="168.29" y="85.86" width="1.4" height="1.4"/><rect x="170.85" y="80.39" width="1.4" height="1.4"/><rect x="170.61" y="86.17" width="1.4" height="1.4"/><rect x="169.22" y="77.47" width="1.4" height="1.4"/><rect x="170.36" y="87.27" width="1.4" height="1.4"/><rect x="171.75" y="85.52" width="1.4" height="1.4"/><rect x="166.27" y="84.98" width="1.4" height="1.4"/><rect x="170.22" y="82.25" width="1.4" height="1.4"/><rect x="174.22" y="73.77" width="1.4" height="1.4"/><rect x="175.53" y="85.30" width="1.4" height="1.4"/><rect x="163.23" y="79.10" width="1.4" height="1.4"/><rect x="168.21" y="87.78" width="1.4" height="1.4"/><rect x="163.27" y="85.77" width="1.4" height="1.4"/><rect x="174.34" y="76.88" width="1.4" height="1.4"/><rect x="170.77" y="92.76" width="1.4" height="1.4"/><rect x="166.32" y="88.70" width="1.4" height="1.4"/><rect x="171.47" y="86.09" width="1.4" height="1.4"/><rect x="167.09" y="85.75" width="1.4" height="1.4"/><rect x="183.99" y="79.23" width="1.4" height="1.4"/><rect x="167.13" y="99.35" width="1.4" height="1.4"/><rect x="176.28" y="85.76" width="1.4" height="1.4"/><rect x="168.94" y="78.90" width="1.4" height="1.4"/><rect x="164.06" y="88.80" width="1.4" height="1.4"/><rect x="173.01" y="90.84" width="1.4" height="1.4"/><rect x="171.97" y="82.67" width="1.4" height="1.4"/><rect x="175.45" y="76.39" width="1.4" height="1.4"/><rect x="169.60" y="90.72" width="1.4" height="1.4"/><rect x="162.12" y="90.84" width="1.4" height="1.4"/><rect x="176.95" y="81.89" width="1.4" height="1.4"/><rect x="176.07" y="77.50" width="1.4" height="1.4"/><rect x="171.91" y="88.01" width="1.4" height="1.4"/><rect x="162.17" y="95.31" width="1.4" height="1.4"/><rect x="177.54" y="78.89" width="1.4" height="1.4"/><rect x="168.27" y="84.87" width="1.4" height="1.4"/><rect x="178.04" y="81.48" width="1.4" height="1.4"/><rect x="175.04" y="87.85" width="1.4" height="1.4"/><rect x="173.27" y="89.11" width="1.4" height="1.4"/><rect x="171.68" y="88.69" width="1.4" height="1.4"/><rect x="178.02" y="79.02" width="1.4" height="1.4"/><rect x="166.45" y="72.35" width="1.4" height="1.4"/><rect x="167.56" y="98.02" width="1.4" height="1.4"/><rect x="167.47" y="89.55" width="1.4" height="1.4"/><rect x="177.11" y="76.35" width="1.4" height="1.4"/><rect x="169.19" y="86.61" width="1.4" height="1.4"/><rect x="162.33" y="89.44" width="1.4" height="1.4"/><rect x="169.47" y="84.17" width="1.4" height="1.4"/><rect x="173.22" y="87.21" width="1.4" height="1.4"/><rect x="175.86" y="88.72" width="1.4" height="1.4"/><rect x="167.68" y="86.49" width="1.4" height="1.4"/><rect x="167.24" y="85.03" width="1.4" height="1.4"/><rect x="174.87" y="90.63" width="1.4" height="1.4"/><rect x="169.30" y="81.77" width="1.4" height="1.4"/><rect x="175.90" y="93.75" width="1.4" height="1.4"/><rect x="170.58" y="86.89" width="1.4" height="1.4"/><rect x="167.83" y="84.22" width="1.4" height="1.4"/><rect x="178.71" y="80.61" width="1.4" height="1.4"/><rect x="178.26" y="86.86" width="1.4" height="1.4"/><rect x="166.04" y="82.91" width="1.4" height="1.4"/><rect x="178.30" y="85.75" width="1.4" height="1.4"/><rect x="171.59" y="82.63" width="1.4" height="1.4"/><rect x="179.76" y="82.76" width="1.4" height="1.4"/><rect x="171.56" y="81.91" width="1.4" height="1.4"/><rect x="171.43" y="72.82" width="1.4" height="1.4"/><rect x="177.17" y="79.42" width="1.4" height="1.4"/><rect x="174.35" y="87.42" width="1.4" height="1.4"/><rect x="177.21" y="91.75" width="1.4" height="1.4"/><rect x="179.94" y="84.31" width="1.4" height="1.4"/><rect x="175.28" y="84.07" width="1.4" height="1.4"/><rect x="170.19" y="85.30" width="1.4" height="1.4"/><rect x="164.95" y="91.83" width="1.4" height="1.4"/><rect x="164.63" y="94.12" width="1.4" height="1.4"/><rect x="169.52" y="81.80" width="1.4" height="1.4"/><rect x="172.74" y="80.77" width="1.4" height="1.4"/><rect x="165.05" y="75.93" width="1.4" height="1.4"/><rect x="167.94" y="92.29" width="1.4" height="1.4"/><rect x="174.40" y="79.90" width="1.4" height="1.4"/><rect x="178.45" y="93.33" width="1.4" height="1.4"/><rect x="175.10" y="84.86" width="1.4" height="1.4"/><rect x="170.94" y="82.17" width="1.4" height="1.4"/><rect x="170.76" y="90.59" width="1.4" height="1.4"/><rect x="165.27" y="85.82" width="1.4" height="1.4"/><rect x="162.83" y="94.73" width="1.4" height="1.4"/><rect x="162.06" y="86.17" width="1.4" height="1.4"/><rect x="170.66" y="97.53" width="1.4" height="1.4"/><rect x="174.69" y="84.27" width="1.4" height="1.4"/><rect x="167.46" y="82.56" width="1.4" height="1.4"/><rect x="173.91" y="80.47" width="1.4" height="1.4"/><rect x="175.66" y="85.42" width="1.4" height="1.4"/><rect x="171.04" y="89.58" width="1.4" height="1.4"/><rect x="173.68" y="84.31" width="1.4" height="1.4"/><rect x="167.15" y="85.54" width="1.4" height="1.4"/><rect x="170.99" y="80.85" width="1.4" height="1.4"/><rect x="172.60" y="83.87" width="1.4" height="1.4"/><rect x="171.40" y="92.28" width="1.4" height="1.4"/><rect x="168.46" y="83.58" width="1.4" height="1.4"/><rect x="167.62" y="82.71" width="1.4" height="1.4"/><rect x="174.27" y="89.24" width="1.4" height="1.4"/><rect x="170.87" y="78.78" width="1.4" height="1.4"/><rect x="180.28" y="78.70" width="1.4" height="1.4"/><rect x="171.00" y="87.69" width="1.4" height="1.4"/><rect x="173.24" y="88.92" width="1.4" height="1.4"/><rect x="170.34" y="100.46" width="1.4" height="1.4"/><rect x="173.26" y="87.38" width="1.4" height="1.4"/><rect x="172.62" y="89.14" width="1.4" height="1.4"/><rect x="161.48" y="94.53" width="1.4" height="1.4"/><rect x="169.81" y="82.39" width="1.4" height="1.4"/><rect x="175.33" y="83.58" width="1.4" height="1.4"/><rect x="174.30" y="92.23" width="1.4" height="1.4"/><rect x="174.92" y="90.08" width="1.4" height="1.4"/><rect x="176.26" y="95.04" width="1.4" height="1.4"/><rect x="174.72" y="82.02" width="1.4" height="1.4"/><rect x="167.31" y="93.52" width="1.4" height="1.4"/><rect x="173.78" y="88.98" width="1.4" height="1.4"/><rect x="177.39" y="75.30" width="1.4" height="1.4"/><rect x="171.24" y="84.91" width="1.4" height="1.4"/><rect x="169.15" y="80.74" width="1.4" height="1.4"/><rect x="174.25" y="88.09" width="1.4" height="1.4"/><rect x="164.00" y="89.14" width="1.4" height="1.4"/><rect x="172.96" y="86.52" width="1.4" height="1.4"/><rect x="167.69" y="80.29" width="1.4" height="1.4"/><rect x="171.90" y="92.82" width="1.4" height="1.4"/><rect x="168.83" y="81.43" width="1.4" height="1.4"/><rect x="178.04" y="80.63" width="1.4" height="1.4"/><rect x="169.15" y="76.53" width="1.4" height="1.4"/><rect x="164.91" y="92.54" width="1.4" height="1.4"/><rect x="172.33" y="92.74" width="1.4" height="1.4"/><rect x="163.56" y="91.94" width="1.4" height="1.4"/><rect x="174.84" y="79.93" width="1.4" height="1.4"/><rect x="171.54" y="81.18" width="1.4" height="1.4"/><rect x="165.55" y="76.93" width="1.4" height="1.4"/><rect x="169.65" y="90.45" width="1.4" height="1.4"/><rect x="169.18" y="92.19" width="1.4" height="1.4"/><rect x="167.74" y="82.62" width="1.4" height="1.4"/><rect x="173.58" y="85.96" width="1.4" height="1.4"/><rect x="165.93" y="88.06" width="1.4" height="1.4"/><rect x="168.30" y="82.50" width="1.4" height="1.4"/><rect x="173.31" y="82.00" width="1.4" height="1.4"/><rect x="169.67" y="82.72" width="1.4" height="1.4"/><rect x="175.95" y="95.37" width="1.4" height="1.4"/><rect x="159.44" y="92.97" width="1.4" height="1.4"/><rect x="173.03" y="88.15" width="1.4" height="1.4"/><rect x="175.20" y="86.49" width="1.4" height="1.4"/><rect x="163.71" y="82.56" width="1.4" height="1.4"/><rect x="164.04" y="83.94" width="1.4" height="1.4"/><rect x="171.09" y="90.01" width="1.4" height="1.4"/><rect x="171.86" y="80.63" width="1.4" height="1.4"/><rect x="172.45" y="86.36" width="1.4" height="1.4"/><rect x="175.59" y="87.01" width="1.4" height="1.4"/><rect x="167.02" y="89.53" width="1.4" height="1.4"/><rect x="165.74" y="86.30" width="1.4" height="1.4"/><rect x="162.44" y="78.84" width="1.4" height="1.4"/><rect x="169.47" y="70.13" width="1.4" height="1.4"/><rect x="179.07" y="91.94" width="1.4" height="1.4"/><rect x="168.26" y="67.95" width="1.4" height="1.4"/><rect x="161.03" y="67.15" width="1.4" height="1.4"/><rect x="160.21" y="93.90" width="1.4" height="1.4"/><rect x="168.87" y="44.57" width="1.4" height="1.4"/><rect x="168.45" y="55.15" width="1.4" height="1.4"/><rect x="188.96" y="65.23" width="1.4" height="1.4"/><rect x="168.13" y="92.93" width="1.4" height="1.4"/><rect x="175.31" y="82.11" width="1.4" height="1.4"/><rect x="182.77" y="86.68" width="1.4" height="1.4"/><rect x="184.25" y="84.91" width="1.4" height="1.4"/><rect x="165.78" y="91.22" width="1.4" height="1.4"/><rect x="188.75" y="72.07" width="1.4" height="1.4"/><rect x="179.67" y="72.78" width="1.4" height="1.4"/><rect x="177.01" y="69.71" width="1.4" height="1.4"/><rect x="176.78" y="84.20" width="1.4" height="1.4"/><rect x="168.95" y="51.83" width="1.4" height="1.4"/><rect x="169.39" y="70.39" width="1.4" height="1.4"/><rect x="161.78" y="116.98" width="1.4" height="1.4"/><rect x="177.61" y="86.69" width="1.4" height="1.4"/><rect x="171.83" y="75.21" width="1.4" height="1.4"/><rect x="178.64" y="60.18" width="1.4" height="1.4"/><rect x="182.27" y="82.42" width="1.4" height="1.4"/><rect x="186.32" y="82.78" width="1.4" height="1.4"/><rect x="178.87" y="87.44" width="1.4" height="1.4"/><rect x="189.29" y="68.38" width="1.4" height="1.4"/><rect x="169.76" y="81.11" width="1.4" height="1.4"/><rect x="169.88" y="83.76" width="1.4" height="1.4"/><rect x="174.63" y="87.50" width="1.4" height="1.4"/><rect x="175.26" y="65.99" width="1.4" height="1.4"/><rect x="168.48" y="82.16" width="1.4" height="1.4"/><rect x="181.84" y="105.26" width="1.4" height="1.4"/><rect x="176.43" y="65.24" width="1.4" height="1.4"/><rect x="163.75" y="83.55" width="1.4" height="1.4"/><rect x="181.14" y="71.09" width="1.4" height="1.4"/><rect x="192.84" y="74.32" width="1.4" height="1.4"/><rect x="181.53" y="57.06" width="1.4" height="1.4"/><rect x="190.72" y="62.48" width="1.4" height="1.4"/><rect x="168.88" y="82.98" width="1.4" height="1.4"/><rect x="170.30" y="76.58" width="1.4" height="1.4"/><rect x="163.42" y="93.29" width="1.4" height="1.4"/><rect x="181.78" y="49.22" width="1.4" height="1.4"/><rect x="193.16" y="73.28" width="1.4" height="1.4"/><rect x="171.75" y="50.94" width="1.4" height="1.4"/><rect x="187.95" y="84.42" width="1.4" height="1.4"/><rect x="157.19" y="104.10" width="1.4" height="1.4"/><rect x="180.33" y="51.22" width="1.4" height="1.4"/><rect x="182.93" y="76.03" width="1.4" height="1.4"/><rect x="181.35" y="74.89" width="1.4" height="1.4"/><rect x="177.99" y="75.18" width="1.4" height="1.4"/><rect x="164.05" y="61.15" width="1.4" height="1.4"/><rect x="180.87" y="68.07" width="1.4" height="1.4"/><rect x="159.17" y="97.03" width="1.4" height="1.4"/><rect x="202.44" y="65.29" width="1.4" height="1.4"/><rect x="171.03" y="82.85" width="1.4" height="1.4"/><rect x="174.78" y="82.95" width="1.4" height="1.4"/><rect x="173.36" y="45.86" width="1.4" height="1.4"/><rect x="175.40" y="59.95" width="1.4" height="1.4"/><rect x="162.62" y="77.14" width="1.4" height="1.4"/><rect x="175.23" y="106.29" width="1.4" height="1.4"/><rect x="173.78" y="72.15" width="1.4" height="1.4"/><rect x="182.63" y="68.50" width="1.4" height="1.4"/><rect x="169.03" y="74.76" width="1.4" height="1.4"/><rect x="165.25" y="93.10" width="1.4" height="1.4"/><rect x="182.77" y="90.75" width="1.4" height="1.4"/><rect x="161.15" y="92.02" width="1.4" height="1.4"/><rect x="160.76" y="67.34" width="1.4" height="1.4"/><rect x="182.57" y="63.79" width="1.4" height="1.4"/><rect x="170.18" y="56.63" width="1.4" height="1.4"/><rect x="168.15" y="85.39" width="1.4" height="1.4"/><rect x="184.24" y="74.06" width="1.4" height="1.4"/><rect x="170.79" y="64.69" width="1.4" height="1.4"/><rect x="180.52" y="85.41" width="1.4" height="1.4"/><rect x="168.74" y="75.81" width="1.4" height="1.4"/><rect x="197.91" y="46.61" width="1.4" height="1.4"/><rect x="187.67" y="75.58" width="1.4" height="1.4"/><rect x="175.30" y="60.55" width="1.4" height="1.4"/><rect x="171.46" y="81.41" width="1.4" height="1.4"/><rect x="168.32" y="72.51" width="1.4" height="1.4"/><rect x="169.14" y="102.09" width="1.4" height="1.4"/><rect x="185.09" y="78.66" width="1.4" height="1.4"/><rect x="168.31" y="53.29" width="1.4" height="1.4"/><rect x="192.86" y="45.51" width="1.4" height="1.4"/><rect x="169.39" y="53.54" width="1.4" height="1.4"/><rect x="171.05" y="62.55" width="1.4" height="1.4"/><rect x="160.13" y="69.87" width="1.4" height="1.4"/><rect x="190.69" y="89.94" width="1.4" height="1.4"/><rect x="175.07" y="77.91" width="1.4" height="1.4"/><rect x="180.23" y="66.54" width="1.4" height="1.4"/></g><g fill="#2a2af0"><rect x="162.19" y="82.93" width="1.3" height="1.3"/><rect x="167.12" y="62.52" width="1.3" height="1.3"/><rect x="170.70" y="101.52" width="1.3" height="1.3"/><rect x="162.22" y="74.41" width="1.3" height="1.3"/><rect x="168.64" y="48.92" width="1.3" height="1.3"/><rect x="169.36" y="80.44" width="1.3" height="1.3"/><rect x="165.83" y="75.06" width="1.3" height="1.3"/><rect x="164.74" y="66.95" width="1.3" height="1.3"/><rect x="160.33" y="84.29" width="1.3" height="1.3"/><rect x="168.25" y="75.36" width="1.3" height="1.3"/><rect x="171.59" y="64.48" width="1.3" height="1.3"/><rect x="171.54" y="73.77" width="1.3" height="1.3"/><rect x="167.20" y="70.98" width="1.3" height="1.3"/><rect x="169.34" y="80.04" width="1.3" height="1.3"/><rect x="163.34" y="71.07" width="1.3" height="1.3"/><rect x="167.03" y="74.78" width="1.3" height="1.3"/><rect x="166.60" y="57.73" width="1.3" height="1.3"/><rect x="168.24" y="66.84" width="1.3" height="1.3"/><rect x="168.51" y="78.63" width="1.3" height="1.3"/><rect x="165.70" y="104.94" width="1.3" height="1.3"/><rect x="164.20" y="66.34" width="1.3" height="1.3"/><rect x="172.08" y="67.05" width="1.3" height="1.3"/><rect x="163.08" y="85.98" width="1.3" height="1.3"/><rect x="159.24" y="98.53" width="1.3" height="1.3"/><rect x="163.73" y="88.81" width="1.3" height="1.3"/><rect x="162.94" y="63.60" width="1.3" height="1.3"/><rect x="164.47" y="87.99" width="1.3" height="1.3"/><rect x="166.53" y="80.95" width="1.3" height="1.3"/><rect x="166.05" y="72.63" width="1.3" height="1.3"/><rect x="170.39" y="61.10" width="1.3" height="1.3"/><rect x="165.23" y="75.40" width="1.3" height="1.3"/><rect x="166.19" y="76.54" width="1.3" height="1.3"/><rect x="160.39" y="81.12" width="1.3" height="1.3"/><rect x="169.40" y="56.02" width="1.3" height="1.3"/><rect x="165.30" y="62.26" width="1.3" height="1.3"/><rect x="164.62" y="76.25" width="1.3" height="1.3"/><rect x="163.54" y="91.87" width="1.3" height="1.3"/><rect x="165.60" y="84.83" width="1.3" height="1.3"/><rect x="161.68" y="67.62" width="1.3" height="1.3"/><rect x="159.65" y="83.10" width="1.3" height="1.3"/><rect x="166.89" y="64.60" width="1.3" height="1.3"/><rect x="168.64" y="71.31" width="1.3" height="1.3"/><rect x="168.12" y="72.06" width="1.3" height="1.3"/><rect x="170.60" y="68.06" width="1.3" height="1.3"/><rect x="171.74" y="70.11" width="1.3" height="1.3"/></g><circle cx="208.40" cy="66.60" r="2.0" fill="none" stroke="#b05050" stroke-width="0.8"/><circle cx="214.20" cy="64.00" r="2.0" fill="none" stroke="#b05050" stroke-width="0.8"/><circle cx="209.00" cy="73.80" r="2.0" fill="none" stroke="#b05050" stroke-width="0.8"/><circle cx="215.00" cy="73.30" r="2.0" fill="none" stroke="#b05050" stroke-width="0.8"/><circle cx="217.60" cy="69.20" r="2.0" fill="none" stroke="#b05050" stroke-width="0.8"/><circle cx="220.60" cy="52.90" r="2.0" fill="none" stroke="#b05050" stroke-width="0.8"/><circle cx="224.40" cy="48.30" r="2.0" fill="none" stroke="#b05050" stroke-width="0.8"/><circle cx="228.30" cy="45.70" r="2.0" fill="none" stroke="#b05050" stroke-width="0.8"/><circle cx="231.30" cy="47.80" r="2.0" fill="none" stroke="#b05050" stroke-width="0.8"/><circle cx="221.90" cy="61.00" r="2.0" fill="none" stroke="#b05050" stroke-width="0.8"/><circle cx="225.20" cy="57.20" r="2.0" fill="none" stroke="#b05050" stroke-width="0.8"/><circle cx="232.00" cy="59.70" r="2.0" fill="none" stroke="#b05050" stroke-width="0.8"/><circle cx="235.40" cy="50.30" r="2.0" fill="none" stroke="#b05050" stroke-width="0.8"/><circle cx="241.00" cy="43.70" r="2.0" fill="none" stroke="#b05050" stroke-width="0.8"/><circle cx="243.60" cy="47.80" r="2.0" fill="none" stroke="#b05050" stroke-width="0.8"/><circle cx="245.60" cy="36.80" r="2.0" fill="none" stroke="#b05050" stroke-width="0.8"/><circle cx="248.70" cy="42.70" r="2.0" fill="none" stroke="#b05050" stroke-width="0.8"/><circle cx="253.30" cy="43.70" r="2.0" fill="none" stroke="#b05050" stroke-width="0.8"/><circle cx="247.40" cy="54.60" r="2.0" fill="none" stroke="#b05050" stroke-width="0.8"/><circle cx="252.50" cy="70.70" r="2.0" fill="none" stroke="#b05050" stroke-width="0.8"/><circle cx="221.00" cy="87.80" r="2.0" fill="none" stroke="#b05050" stroke-width="0.8"/><circle cx="232.00" cy="67.40" r="2.0" fill="none" stroke="#b05050" stroke-width="0.8"/><circle cx="242.30" cy="67.40" r="2.0" fill="none" stroke="#b05050" stroke-width="0.8"/><circle cx="239.70" cy="53.40" r="2.0" fill="none" stroke="#b05050" stroke-width="0.8"/><circle cx="213.80" cy="110.30" r="2.0" fill="none" stroke="#b05050" stroke-width="0.8"/><circle cx="233.40" cy="29.90" r="2.05" fill="#f4e4e4" stroke="#800000" stroke-width="0.6"/><path d="M231.35,29.90 A2.05,2.05 0 0 1 235.45,29.90 Z" fill="#800000"/><circle cx="248.70" cy="27.30" r="2.05" fill="#f4e4e4" stroke="#800000" stroke-width="0.6"/><path d="M246.65,27.30 A2.05,2.05 0 0 1 250.75,27.30 Z" fill="#800000"/><circle cx="258.90" cy="35.50" r="2.05" fill="#f4e4e4" stroke="#800000" stroke-width="0.6"/><path d="M256.85,35.50 A2.05,2.05 0 0 0 260.95,35.50 Z" fill="#800000"/><circle cx="262.20" cy="36.80" r="2.05" fill="#f4e4e4" stroke="#800000" stroke-width="0.6"/><path d="M260.15,36.80 A2.05,2.05 0 0 1 264.25,36.80 Z" fill="#800000"/><circle cx="266.50" cy="38.00" r="2.05" fill="#f4e4e4" stroke="#800000" stroke-width="0.6"/><path d="M264.45,38.00 A2.05,2.05 0 0 1 268.55,38.00 Z" fill="#800000"/><circle cx="248.70" cy="38.60" r="2.05" fill="#f4e4e4" stroke="#800000" stroke-width="0.6"/><path d="M246.65,38.60 A2.05,2.05 0 0 0 250.75,38.60 Z" fill="#800000"/><circle cx="250.00" cy="41.00" r="2.05" fill="#f4e4e4" stroke="#800000" stroke-width="0.6"/><path d="M247.95,41.00 A2.05,2.05 0 0 1 252.05,41.00 Z" fill="#800000"/><circle cx="228.30" cy="52.00" r="2.05" fill="#f4e4e4" stroke="#800000" stroke-width="0.6"/><path d="M226.25,52.00 A2.05,2.05 0 0 1 230.35,52.00 Z" fill="#800000"/><circle cx="233.40" cy="57.20" r="2.05" fill="#f4e4e4" stroke="#800000" stroke-width="0.6"/><path d="M231.35,57.20 A2.05,2.05 0 0 0 235.45,57.20 Z" fill="#800000"/><circle cx="237.20" cy="55.90" r="2.05" fill="#f4e4e4" stroke="#800000" stroke-width="0.6"/><path d="M235.15,55.90 A2.05,2.05 0 0 1 239.25,55.90 Z" fill="#800000"/><circle cx="239.70" cy="58.50" r="2.05" fill="#f4e4e4" stroke="#800000" stroke-width="0.6"/><path d="M237.65,58.50 A2.05,2.05 0 0 1 241.75,58.50 Z" fill="#800000"/><circle cx="242.30" cy="59.00" r="2.05" fill="#f4e4e4" stroke="#800000" stroke-width="0.6"/><path d="M240.25,59.00 A2.05,2.05 0 0 0 244.35,59.00 Z" fill="#800000"/><circle cx="234.60" cy="62.30" r="2.05" fill="#f4e4e4" stroke="#800000" stroke-width="0.6"/><path d="M232.55,62.30 A2.05,2.05 0 0 1 236.65,62.30 Z" fill="#800000"/><circle cx="237.20" cy="66.10" r="2.05" fill="#f4e4e4" stroke="#800000" stroke-width="0.6"/><path d="M235.15,66.10 A2.05,2.05 0 0 1 239.25,66.10 Z" fill="#800000"/><circle cx="241.00" cy="66.60" r="2.05" fill="#f4e4e4" stroke="#800000" stroke-width="0.6"/><path d="M238.95,66.60 A2.05,2.05 0 0 0 243.05,66.60 Z" fill="#800000"/><circle cx="246.10" cy="66.60" r="2.05" fill="#f4e4e4" stroke="#800000" stroke-width="0.6"/><path d="M244.05,66.60 A2.05,2.05 0 0 1 248.15,66.60 Z" fill="#800000"/><circle cx="234.60" cy="70.00" r="2.05" fill="#f4e4e4" stroke="#800000" stroke-width="0.6"/><path d="M232.55,70.00 A2.05,2.05 0 0 1 236.65,70.00 Z" fill="#800000"/><circle cx="227.00" cy="78.90" r="2.05" fill="#f4e4e4" stroke="#800000" stroke-width="0.6"/><path d="M224.95,78.90 A2.05,2.05 0 0 0 229.05,78.90 Z" fill="#800000"/><circle cx="232.90" cy="77.60" r="2.05" fill="#f4e4e4" stroke="#800000" stroke-width="0.6"/><path d="M230.85,77.60 A2.05,2.05 0 0 1 234.95,77.60 Z" fill="#800000"/><circle cx="237.20" cy="77.60" r="2.05" fill="#f4e4e4" stroke="#800000" stroke-width="0.6"/><path d="M235.15,77.60 A2.05,2.05 0 0 1 239.25,77.60 Z" fill="#800000"/><circle cx="230.80" cy="82.70" r="2.05" fill="#f4e4e4" stroke="#800000" stroke-width="0.6"/><path d="M228.75,82.70 A2.05,2.05 0 0 0 232.85,82.70 Z" fill="#800000"/><circle cx="224.40" cy="85.30" r="2.05" fill="#f4e4e4" stroke="#800000" stroke-width="0.6"/><path d="M222.35,85.30 A2.05,2.05 0 0 1 226.45,85.30 Z" fill="#800000"/><circle cx="202.40" cy="87.90" r="2.05" fill="#f4e4e4" stroke="#800000" stroke-width="0.6"/><path d="M200.35,87.90 A2.05,2.05 0 0 1 204.45,87.90 Z" fill="#800000"/><circle cx="200.20" cy="95.00" r="2.05" fill="#f4e4e4" stroke="#800000" stroke-width="0.6"/><path d="M198.15,95.00 A2.05,2.05 0 0 0 202.25,95.00 Z" fill="#800000"/><circle cx="192.90" cy="98.00" r="2.05" fill="#f4e4e4" stroke="#800000" stroke-width="0.6"/><path d="M190.85,98.00 A2.05,2.05 0 0 1 194.95,98.00 Z" fill="#800000"/><circle cx="168.30" cy="104.50" r="2.05" fill="#f4e4e4" stroke="#800000" stroke-width="0.6"/><path d="M166.25,104.50 A2.05,2.05 0 0 1 170.35,104.50 Z" fill="#800000"/><circle cx="177.00" cy="106.20" r="2.05" fill="#f4e4e4" stroke="#800000" stroke-width="0.6"/><path d="M174.95,106.20 A2.05,2.05 0 0 0 179.05,106.20 Z" fill="#800000"/><rect x="173.80" y="102.90" width="3.2" height="3.2" fill="none" stroke="#8a8ab8" stroke-width="0.7"/><rect x="168.90" y="107.90" width="3.2" height="3.2" fill="none" stroke="#8a8ab8" stroke-width="0.7"/><line x1="164.96" y1="7.00" x2="164.96" y2="172.60" stroke="#555" stroke-width="1.2" stroke-dasharray="4.5,2.5"/><line x1="67.00" y1="153.30" x2="152.03" y2="134.58" stroke="#111" stroke-width="1.3" /><polygon points="157.40,133.40 152.52,136.83 151.53,132.34" fill="#111"/><line x1="179.10" y1="121.70" x2="257.38" y2="71.18" stroke="#111" stroke-width="1.3" /><polygon points="262.00,68.20 258.63,73.11 256.13,69.25" fill="#111"/><text x="91.00" y="158.80" font-size="8.5" fill="#111" text-anchor="start" font-family='"Liberation Sans", sans-serif' font-weight="normal" >Opx</text><text x="225.70" y="101.30" font-size="8.5" fill="#111" text-anchor="start" font-family='"Liberation Sans", sans-serif' font-weight="normal" >Cpx</text><text x="93.70" y="78.20" font-size="9" fill="#2a2af0" text-anchor="start" font-family='"Liberation Sans", sans-serif' font-weight="normal" >Highlands</text><text x="180.50" y="32.20" font-size="9" fill="#ff2020" text-anchor="start" font-family='"Liberation Sans", sans-serif' font-weight="normal" >Mare</text><text x="62.60" y="16.20" font-size="6.15" fill="#b83434" text-anchor="start" font-family='"Liberation Sans", sans-serif' font-weight="normal" >Nature Cpx (Cloutis and Adams)</text><text x="62.60" y="23.20" font-size="6.15" fill="#b83434" text-anchor="start" font-family='"Liberation Sans", sans-serif' font-weight="normal" >Synthetic Cpx/Pigeonites (Klima)</text><text x="62.60" y="30.70" font-size="6.15" fill="#b83434" text-anchor="start" font-family='"Liberation Sans", sans-serif' font-weight="normal" >Synthetic Cpx/Augites (Klima)</text><text x="62.60" y="38.20" font-size="6.15" fill="#3434b4" text-anchor="start" font-family='"Liberation Sans", sans-serif' font-weight="normal" >Nature Opx (Cloutis and Adams)</text><text x="62.60" y="45.20" font-size="6.15" fill="#3434b4" text-anchor="start" font-family='"Liberation Sans", sans-serif' font-weight="normal" >Synthetic Ca-free Opx (Klima)</text><circle cx="54.5" cy="14" r="1.9" fill="none" stroke="#b05050" stroke-width="0.7"/><circle cx="54.5" cy="21" r="1.9" fill="#f0d8d8" stroke="#800000" stroke-width="0.6"/><path d="M52.60,21.00 A1.9,1.9 0 0 0 56.40,21.00 Z" fill="#800000"/><circle cx="54.5" cy="28.5" r="1.9" fill="#f0d8d8" stroke="#800000" stroke-width="0.6"/><path d="M52.60,28.50 A1.9,1.9 0 0 1 56.40,28.50 Z" fill="#800000"/><rect x="52.9" y="34.4" width="3.2" height="3.2" fill="none" stroke="#8a8ab8" stroke-width="0.7"/><rect x="52.9" y="41.4" width="3.2" height="3.2" fill="#8a8ab8"/><rect x="52.9" y="41.4" width="3.2" height="1.8" fill="#101060"/><rect x="42.6" y="7.0" width="225.4" height="165.6" fill="none" stroke="#6e6e6e" stroke-width="1.1"/><line x1="42.60" y1="172.60" x2="42.60" y2="170.40" stroke="#333" stroke-width="0.8" /><line x1="42.60" y1="7.00" x2="42.60" y2="9.20" stroke="#333" stroke-width="0.8" /><text x="42.60" y="182.60" font-size="7" fill="#333" text-anchor="middle" font-family='"Liberation Sans", sans-serif' font-weight="normal" >1700</text><line x1="58.70" y1="172.60" x2="58.70" y2="171.20" stroke="#333" stroke-width="0.8" /><line x1="58.70" y1="7.00" x2="58.70" y2="8.40" stroke="#333" stroke-width="0.8" /><line x1="74.80" y1="172.60" x2="74.80" y2="170.40" stroke="#333" stroke-width="0.8" /><line x1="74.80" y1="7.00" x2="74.80" y2="9.20" stroke="#333" stroke-width="0.8" /><text x="74.80" y="182.60" font-size="7" fill="#333" text-anchor="middle" font-family='"Liberation Sans", sans-serif' font-weight="normal" >1800</text><line x1="90.90" y1="172.60" x2="90.90" y2="171.20" stroke="#333" stroke-width="0.8" /><line x1="90.90" y1="7.00" x2="90.90" y2="8.40" stroke="#333" stroke-width="0.8" /><line x1="107.00" y1="172.60" x2="107.00" y2="170.40" stroke="#333" stroke-width="0.8" /><line x1="107.00" y1="7.00" x2="107.00" y2="9.20" stroke="#333" stroke-width="0.8" /><text x="107.00" y="182.60" font-size="7" fill="#333" text-anchor="middle" font-family='"Liberation Sans", sans-serif' font-weight="normal" >1900</text><line x1="123.10" y1="172.60" x2="123.10" y2="171.20" stroke="#333" stroke-width="0.8" /><line x1="123.10" y1="7.00" x2="123.10" y2="8.40" stroke="#333" stroke-width="0.8" /><line x1="139.20" y1="172.60" x2="139.20" y2="170.40" stroke="#333" stroke-width="0.8" /><line x1="139.20" y1="7.00" x2="139.20" y2="9.20" stroke="#333" stroke-width="0.8" /><text x="139.20" y="182.60" font-size="7" fill="#333" text-anchor="middle" font-family='"Liberation Sans", sans-serif' font-weight="normal" >2000</text><line x1="155.30" y1="172.60" x2="155.30" y2="171.20" stroke="#333" stroke-width="0.8" /><line x1="155.30" y1="7.00" x2="155.30" y2="8.40" stroke="#333" stroke-width="0.8" /><line x1="171.40" y1="172.60" x2="171.40" y2="170.40" stroke="#333" stroke-width="0.8" /><line x1="171.40" y1="7.00" x2="171.40" y2="9.20" stroke="#333" stroke-width="0.8" /><text x="171.40" y="182.60" font-size="7" fill="#333" text-anchor="middle" font-family='"Liberation Sans", sans-serif' font-weight="normal" >2100</text><line x1="187.50" y1="172.60" x2="187.50" y2="171.20" stroke="#333" stroke-width="0.8" /><line x1="187.50" y1="7.00" x2="187.50" y2="8.40" stroke="#333" stroke-width="0.8" /><line x1="203.60" y1="172.60" x2="203.60" y2="170.40" stroke="#333" stroke-width="0.8" /><line x1="203.60" y1="7.00" x2="203.60" y2="9.20" stroke="#333" stroke-width="0.8" /><text x="203.60" y="182.60" font-size="7" fill="#333" text-anchor="middle" font-family='"Liberation Sans", sans-serif' font-weight="normal" >2200</text><line x1="219.70" y1="172.60" x2="219.70" y2="171.20" stroke="#333" stroke-width="0.8" /><line x1="219.70" y1="7.00" x2="219.70" y2="8.40" stroke="#333" stroke-width="0.8" /><line x1="235.80" y1="172.60" x2="235.80" y2="170.40" stroke="#333" stroke-width="0.8" /><line x1="235.80" y1="7.00" x2="235.80" y2="9.20" stroke="#333" stroke-width="0.8" /><text x="235.80" y="182.60" font-size="7" fill="#333" text-anchor="middle" font-family='"Liberation Sans", sans-serif' font-weight="normal" >2300</text><line x1="251.90" y1="172.60" x2="251.90" y2="171.20" stroke="#333" stroke-width="0.8" /><line x1="251.90" y1="7.00" x2="251.90" y2="8.40" stroke="#333" stroke-width="0.8" /><line x1="268.00" y1="172.60" x2="268.00" y2="170.40" stroke="#333" stroke-width="0.8" /><line x1="268.00" y1="7.00" x2="268.00" y2="9.20" stroke="#333" stroke-width="0.8" /><text x="268.00" y="182.60" font-size="7" fill="#333" text-anchor="middle" font-family='"Liberation Sans", sans-serif' font-weight="normal" >2400</text><line x1="42.60" y1="172.40" x2="44.80" y2="172.40" stroke="#333" stroke-width="0.8" /><line x1="268.00" y1="172.40" x2="265.80" y2="172.40" stroke="#333" stroke-width="0.8" /><text x="38.60" y="174.90" font-size="7" fill="#333" text-anchor="end" font-family='"Liberation Sans", sans-serif' font-weight="normal" >850</text><line x1="42.60" y1="155.86" x2="44.00" y2="155.86" stroke="#333" stroke-width="0.8" /><line x1="268.00" y1="155.86" x2="266.60" y2="155.86" stroke="#333" stroke-width="0.8" /><line x1="42.60" y1="139.32" x2="44.80" y2="139.32" stroke="#333" stroke-width="0.8" /><line x1="268.00" y1="139.32" x2="265.80" y2="139.32" stroke="#333" stroke-width="0.8" /><text x="38.60" y="141.82" font-size="7" fill="#333" text-anchor="end" font-family='"Liberation Sans", sans-serif' font-weight="normal" >900</text><line x1="42.60" y1="122.78" x2="44.00" y2="122.78" stroke="#333" stroke-width="0.8" /><line x1="268.00" y1="122.78" x2="266.60" y2="122.78" stroke="#333" stroke-width="0.8" /><line x1="42.60" y1="106.24" x2="44.80" y2="106.24" stroke="#333" stroke-width="0.8" /><line x1="268.00" y1="106.24" x2="265.80" y2="106.24" stroke="#333" stroke-width="0.8" /><text x="38.60" y="108.74" font-size="7" fill="#333" text-anchor="end" font-family='"Liberation Sans", sans-serif' font-weight="normal" >950</text><line x1="42.60" y1="89.70" x2="44.00" y2="89.70" stroke="#333" stroke-width="0.8" /><line x1="268.00" y1="89.70" x2="266.60" y2="89.70" stroke="#333" stroke-width="0.8" /><line x1="42.60" y1="73.16" x2="44.80" y2="73.16" stroke="#333" stroke-width="0.8" /><line x1="268.00" y1="73.16" x2="265.80" y2="73.16" stroke="#333" stroke-width="0.8" /><text x="38.60" y="75.66" font-size="7" fill="#333" text-anchor="end" font-family='"Liberation Sans", sans-serif' font-weight="normal" >1000</text><line x1="42.60" y1="56.62" x2="44.00" y2="56.62" stroke="#333" stroke-width="0.8" /><line x1="268.00" y1="56.62" x2="266.60" y2="56.62" stroke="#333" stroke-width="0.8" /><line x1="42.60" y1="40.08" x2="44.80" y2="40.08" stroke="#333" stroke-width="0.8" /><line x1="268.00" y1="40.08" x2="265.80" y2="40.08" stroke="#333" stroke-width="0.8" /><text x="38.60" y="42.58" font-size="7" fill="#333" text-anchor="end" font-family='"Liberation Sans", sans-serif' font-weight="normal" >1050</text><line x1="42.60" y1="23.54" x2="44.00" y2="23.54" stroke="#333" stroke-width="0.8" /><line x1="268.00" y1="23.54" x2="266.60" y2="23.54" stroke="#333" stroke-width="0.8" /><line x1="42.60" y1="7.00" x2="44.80" y2="7.00" stroke="#333" stroke-width="0.8" /><line x1="268.00" y1="7.00" x2="265.80" y2="7.00" stroke="#333" stroke-width="0.8" /><text x="38.60" y="9.50" font-size="7" fill="#333" text-anchor="end" font-family='"Liberation Sans", sans-serif' font-weight="normal" >1100</text><text x="114.20" y="196.60" font-size="9.25" fill="#333" text-anchor="start" font-family='"Liberation Sans", sans-serif' font-weight="normal" >Band Center <tspan font-family='"Liberation Serif", serif'>II</tspan> (nm)</text><text x="0.00" y="0.00" font-size="9.2" fill="#333" text-anchor="middle" font-family='"Liberation Sans", sans-serif' font-weight="normal" transform="translate(14.9,95.8) rotate(-90)">Band Center <tspan dx="2" font-family='"Liberation Serif", serif'>I</tspan><tspan dx="2"> (nm)</tspan></text><text x="2.50" y="14.90" font-size="14.3" fill="#111" text-anchor="start" font-family='"Liberation Serif", serif' font-weight="bold" >(a)</text><g fill="#2a2af0"><rect x="437.52" y="111.75" width="1.35" height="1.35"/><rect x="504.10" y="116.71" width="1.35" height="1.35"/><rect x="437.85" y="79.24" width="1.35" height="1.35"/><rect x="533.22" y="121.04" width="1.35" height="1.35"/><rect x="419.91" y="106.14" width="1.35" height="1.35"/><rect x="471.36" y="95.85" width="1.35" height="1.35"/><rect x="472.88" y="114.21" width="1.35" height="1.35"/><rect x="467.40" y="85.38" width="1.35" height="1.35"/><rect x="507.39" y="94.05" width="1.35" height="1.35"/><rect x="401.05" y="81.65" width="1.35" height="1.35"/><rect x="474.03" y="92.16" width="1.35" height="1.35"/><rect x="509.63" y="119.25" width="1.35" height="1.35"/><rect x="401.73" y="82.99" width="1.35" height="1.35"/><rect x="474.09" y="91.69" width="1.35" height="1.35"/><rect x="458.66" y="92.69" width="1.35" height="1.35"/><rect x="453.40" y="105.99" width="1.35" height="1.35"/><rect x="472.83" y="101.31" width="1.35" height="1.35"/><rect x="485.53" y="116.88" width="1.35" height="1.35"/><rect x="497.05" y="99.03" width="1.35" height="1.35"/><rect x="525.47" y="94.65" width="1.35" height="1.35"/><rect x="490.19" y="100.90" width="1.35" height="1.35"/><rect x="491.39" y="95.85" width="1.35" height="1.35"/><rect x="433.62" y="105.15" width="1.35" height="1.35"/><rect x="415.82" y="122.00" width="1.35" height="1.35"/><rect x="404.68" y="92.20" width="1.35" height="1.35"/><rect x="433.49" y="102.29" width="1.35" height="1.35"/><rect x="411.72" y="116.01" width="1.35" height="1.35"/><rect x="494.10" y="99.41" width="1.35" height="1.35"/><rect x="494.99" y="97.09" width="1.35" height="1.35"/><rect x="483.69" y="93.10" width="1.35" height="1.35"/><rect x="450.22" y="107.98" width="1.35" height="1.35"/><rect x="462.05" y="110.43" width="1.35" height="1.35"/><rect x="432.20" y="99.78" width="1.35" height="1.35"/><rect x="528.45" y="110.71" width="1.35" height="1.35"/><rect x="396.64" y="113.62" width="1.35" height="1.35"/><rect x="441.13" y="112.73" width="1.35" height="1.35"/><rect x="477.95" y="88.81" width="1.35" height="1.35"/><rect x="420.70" y="100.34" width="1.35" height="1.35"/><rect x="519.05" y="110.56" width="1.35" height="1.35"/><rect x="464.47" y="113.01" width="1.35" height="1.35"/><rect x="448.43" y="100.24" width="1.35" height="1.35"/><rect x="403.50" y="91.12" width="1.35" height="1.35"/><rect x="435.38" y="96.22" width="1.35" height="1.35"/><rect x="480.41" y="84.43" width="1.35" height="1.35"/><rect x="435.38" y="101.39" width="1.35" height="1.35"/><rect x="400.92" y="91.43" width="1.35" height="1.35"/><rect x="478.94" y="111.20" width="1.35" height="1.35"/><rect x="438.70" y="89.66" width="1.35" height="1.35"/><rect x="517.90" y="103.86" width="1.35" height="1.35"/><rect x="495.33" y="95.30" width="1.35" height="1.35"/><rect x="499.66" y="94.63" width="1.35" height="1.35"/><rect x="524.29" y="118.03" width="1.35" height="1.35"/><rect x="512.59" y="102.99" width="1.35" height="1.35"/><rect x="442.40" y="107.57" width="1.35" height="1.35"/><rect x="477.40" y="91.95" width="1.35" height="1.35"/><rect x="432.12" y="102.46" width="1.35" height="1.35"/><rect x="423.75" y="80.27" width="1.35" height="1.35"/><rect x="424.38" y="94.85" width="1.35" height="1.35"/><rect x="410.53" y="93.30" width="1.35" height="1.35"/><rect x="429.23" y="107.99" width="1.35" height="1.35"/><rect x="427.13" y="102.96" width="1.35" height="1.35"/><rect x="492.52" y="104.58" width="1.35" height="1.35"/><rect x="431.04" y="111.19" width="1.35" height="1.35"/><rect x="401.14" y="100.74" width="1.35" height="1.35"/><rect x="455.88" y="109.82" width="1.35" height="1.35"/><rect x="423.66" y="109.65" width="1.35" height="1.35"/><rect x="494.97" y="106.08" width="1.35" height="1.35"/><rect x="426.69" y="97.20" width="1.35" height="1.35"/><rect x="475.64" y="109.05" width="1.35" height="1.35"/><rect x="420.03" y="95.12" width="1.35" height="1.35"/><rect x="464.72" y="108.78" width="1.35" height="1.35"/><rect x="520.94" y="122.47" width="1.35" height="1.35"/><rect x="438.60" y="112.02" width="1.35" height="1.35"/><rect x="471.30" y="100.14" width="1.35" height="1.35"/><rect x="458.36" y="88.15" width="1.35" height="1.35"/><rect x="404.55" y="98.03" width="1.35" height="1.35"/><rect x="397.34" y="96.55" width="1.35" height="1.35"/><rect x="517.33" y="122.10" width="1.35" height="1.35"/><rect x="444.02" y="97.66" width="1.35" height="1.35"/><rect x="494.49" y="104.28" width="1.35" height="1.35"/><rect x="454.58" y="112.00" width="1.35" height="1.35"/><rect x="516.72" y="103.06" width="1.35" height="1.35"/><rect x="422.80" y="98.42" width="1.35" height="1.35"/><rect x="464.96" y="124.66" width="1.35" height="1.35"/><rect x="474.39" y="122.82" width="1.35" height="1.35"/><rect x="510.19" y="115.73" width="1.35" height="1.35"/><rect x="398.62" y="101.37" width="1.35" height="1.35"/><rect x="447.24" y="90.92" width="1.35" height="1.35"/><rect x="463.70" y="110.69" width="1.35" height="1.35"/><rect x="480.29" y="106.19" width="1.35" height="1.35"/><rect x="414.98" y="102.26" width="1.35" height="1.35"/><rect x="473.69" y="98.69" width="1.35" height="1.35"/><rect x="495.57" y="106.73" width="1.35" height="1.35"/><rect x="501.35" y="105.18" width="1.35" height="1.35"/><rect x="427.08" y="104.48" width="1.35" height="1.35"/><rect x="458.68" y="120.65" width="1.35" height="1.35"/><rect x="437.83" y="106.00" width="1.35" height="1.35"/><rect x="450.92" y="82.99" width="1.35" height="1.35"/><rect x="447.33" y="90.91" width="1.35" height="1.35"/><rect x="532.31" y="91.21" width="1.35" height="1.35"/><rect x="396.28" y="88.43" width="1.35" height="1.35"/><rect x="532.69" y="116.90" width="1.35" height="1.35"/><rect x="399.16" y="102.99" width="1.35" height="1.35"/><rect x="405.70" y="91.60" width="1.35" height="1.35"/><rect x="424.40" y="103.65" width="1.35" height="1.35"/><rect x="436.20" y="92.46" width="1.35" height="1.35"/><rect x="519.55" y="92.01" width="1.35" height="1.35"/><rect x="517.14" y="91.96" width="1.35" height="1.35"/><rect x="530.76" y="99.74" width="1.35" height="1.35"/><rect x="451.22" y="119.88" width="1.35" height="1.35"/><rect x="396.64" y="81.90" width="1.35" height="1.35"/><rect x="485.69" y="120.86" width="1.35" height="1.35"/><rect x="525.60" y="125.46" width="1.35" height="1.35"/><rect x="410.01" y="96.97" width="1.35" height="1.35"/><rect x="515.18" y="108.03" width="1.35" height="1.35"/><rect x="394.59" y="90.42" width="1.35" height="1.35"/><rect x="501.24" y="107.06" width="1.35" height="1.35"/><rect x="466.34" y="112.09" width="1.35" height="1.35"/><rect x="526.93" y="109.77" width="1.35" height="1.35"/><rect x="522.07" y="121.16" width="1.35" height="1.35"/><rect x="401.11" y="112.54" width="1.35" height="1.35"/><rect x="467.05" y="108.38" width="1.35" height="1.35"/><rect x="429.67" y="104.81" width="1.35" height="1.35"/><rect x="458.48" y="102.75" width="1.35" height="1.35"/><rect x="404.00" y="102.73" width="1.35" height="1.35"/><rect x="446.97" y="89.10" width="1.35" height="1.35"/><rect x="453.97" y="107.93" width="1.35" height="1.35"/><rect x="394.89" y="100.22" width="1.35" height="1.35"/><rect x="463.60" y="93.62" width="1.35" height="1.35"/><rect x="524.94" y="135.23" width="1.35" height="1.35"/><rect x="403.20" y="86.86" width="1.35" height="1.35"/><rect x="532.26" y="99.71" width="1.35" height="1.35"/><rect x="465.77" y="107.46" width="1.35" height="1.35"/><rect x="425.07" y="77.27" width="1.35" height="1.35"/><rect x="535.81" y="100.95" width="1.35" height="1.35"/><rect x="463.46" y="85.66" width="1.35" height="1.35"/><rect x="458.11" y="91.86" width="1.35" height="1.35"/><rect x="449.29" y="101.05" width="1.35" height="1.35"/><rect x="523.00" y="113.10" width="1.35" height="1.35"/><rect x="413.29" y="112.62" width="1.35" height="1.35"/><rect x="425.05" y="110.11" width="1.35" height="1.35"/><rect x="435.68" y="115.60" width="1.35" height="1.35"/><rect x="403.44" y="105.55" width="1.35" height="1.35"/><rect x="517.56" y="103.16" width="1.35" height="1.35"/><rect x="465.66" y="117.46" width="1.35" height="1.35"/><rect x="482.16" y="99.74" width="1.35" height="1.35"/><rect x="523.60" y="101.96" width="1.35" height="1.35"/><rect x="466.56" y="122.50" width="1.35" height="1.35"/><rect x="434.66" y="110.75" width="1.35" height="1.35"/><rect x="471.88" y="107.28" width="1.35" height="1.35"/><rect x="467.36" y="113.26" width="1.35" height="1.35"/><rect x="437.95" y="112.13" width="1.35" height="1.35"/><rect x="428.16" y="84.39" width="1.35" height="1.35"/><rect x="446.56" y="101.25" width="1.35" height="1.35"/><rect x="501.64" y="93.20" width="1.35" height="1.35"/><rect x="418.46" y="101.30" width="1.35" height="1.35"/><rect x="539.75" y="102.71" width="1.35" height="1.35"/><rect x="428.67" y="117.04" width="1.35" height="1.35"/><rect x="434.13" y="107.46" width="1.35" height="1.35"/><rect x="412.26" y="89.55" width="1.35" height="1.35"/><rect x="451.54" y="102.59" width="1.35" height="1.35"/><rect x="448.62" y="88.03" width="1.35" height="1.35"/><rect x="493.87" y="107.11" width="1.35" height="1.35"/><rect x="525.15" y="115.99" width="1.35" height="1.35"/><rect x="430.51" y="104.07" width="1.35" height="1.35"/><rect x="512.50" y="85.16" width="1.35" height="1.35"/><rect x="439.33" y="97.69" width="1.35" height="1.35"/><rect x="453.71" y="109.10" width="1.35" height="1.35"/><rect x="413.05" y="103.01" width="1.35" height="1.35"/><rect x="524.66" y="123.28" width="1.35" height="1.35"/><rect x="448.83" y="87.14" width="1.35" height="1.35"/><rect x="496.65" y="113.14" width="1.35" height="1.35"/><rect x="398.18" y="90.19" width="1.35" height="1.35"/><rect x="496.10" y="109.15" width="1.35" height="1.35"/><rect x="427.37" y="105.48" width="1.35" height="1.35"/><rect x="460.24" y="111.81" width="1.35" height="1.35"/><rect x="492.70" y="99.58" width="1.35" height="1.35"/><rect x="419.25" y="102.10" width="1.35" height="1.35"/><rect x="471.29" y="90.56" width="1.35" height="1.35"/><rect x="516.34" y="91.70" width="1.35" height="1.35"/><rect x="418.18" y="106.45" width="1.35" height="1.35"/><rect x="462.60" y="103.13" width="1.35" height="1.35"/><rect x="421.20" y="80.64" width="1.35" height="1.35"/><rect x="415.25" y="89.32" width="1.35" height="1.35"/><rect x="465.86" y="104.30" width="1.35" height="1.35"/><rect x="461.00" y="122.29" width="1.35" height="1.35"/><rect x="488.32" y="118.63" width="1.35" height="1.35"/><rect x="519.56" y="118.48" width="1.35" height="1.35"/><rect x="497.49" y="85.50" width="1.35" height="1.35"/><rect x="379.41" y="77.77" width="1.35" height="1.35"/><rect x="383.91" y="83.51" width="1.35" height="1.35"/><rect x="389.54" y="82.68" width="1.35" height="1.35"/><rect x="394.49" y="82.90" width="1.35" height="1.35"/><rect x="389.81" y="76.41" width="1.35" height="1.35"/><rect x="384.40" y="96.31" width="1.35" height="1.35"/><rect x="373.33" y="93.50" width="1.35" height="1.35"/><rect x="395.37" y="77.80" width="1.35" height="1.35"/><rect x="377.77" y="68.95" width="1.35" height="1.35"/><rect x="381.48" y="99.27" width="1.35" height="1.35"/><rect x="395.86" y="73.22" width="1.35" height="1.35"/><rect x="375.55" y="90.70" width="1.35" height="1.35"/><rect x="396.74" y="97.83" width="1.35" height="1.35"/><rect x="376.20" y="69.31" width="1.35" height="1.35"/><rect x="371.94" y="81.65" width="1.35" height="1.35"/><rect x="384.73" y="75.27" width="1.35" height="1.35"/><rect x="393.18" y="83.89" width="1.35" height="1.35"/><rect x="381.40" y="81.94" width="1.35" height="1.35"/><rect x="394.61" y="98.19" width="1.35" height="1.35"/><rect x="381.22" y="84.64" width="1.35" height="1.35"/><rect x="393.78" y="78.65" width="1.35" height="1.35"/><rect x="372.71" y="90.00" width="1.35" height="1.35"/><rect x="377.83" y="76.02" width="1.35" height="1.35"/><rect x="373.00" y="75.09" width="1.35" height="1.35"/><rect x="391.51" y="101.12" width="1.35" height="1.35"/><rect x="431.99" y="104.43" width="1.35" height="1.35"/><rect x="438.63" y="107.75" width="1.35" height="1.35"/><rect x="450.40" y="109.29" width="1.35" height="1.35"/><rect x="427.38" y="101.75" width="1.35" height="1.35"/><rect x="406.88" y="89.55" width="1.35" height="1.35"/><rect x="471.70" y="115.74" width="1.35" height="1.35"/><rect x="436.62" y="91.78" width="1.35" height="1.35"/><rect x="438.76" y="103.28" width="1.35" height="1.35"/><rect x="439.36" y="114.21" width="1.35" height="1.35"/><rect x="426.83" y="109.34" width="1.35" height="1.35"/><rect x="428.48" y="96.74" width="1.35" height="1.35"/><rect x="454.24" y="105.41" width="1.35" height="1.35"/><rect x="497.92" y="131.07" width="1.35" height="1.35"/><rect x="462.09" y="123.33" width="1.35" height="1.35"/><rect x="468.94" y="101.30" width="1.35" height="1.35"/><rect x="419.32" y="94.26" width="1.35" height="1.35"/><rect x="449.20" y="108.07" width="1.35" height="1.35"/><rect x="422.78" y="107.36" width="1.35" height="1.35"/><rect x="468.14" y="105.89" width="1.35" height="1.35"/><rect x="444.07" y="109.53" width="1.35" height="1.35"/><rect x="451.59" y="104.87" width="1.35" height="1.35"/><rect x="443.51" y="122.07" width="1.35" height="1.35"/><rect x="437.01" y="105.85" width="1.35" height="1.35"/><rect x="418.39" y="96.12" width="1.35" height="1.35"/><rect x="463.07" y="108.06" width="1.35" height="1.35"/><rect x="418.90" y="105.01" width="1.35" height="1.35"/><rect x="423.92" y="103.76" width="1.35" height="1.35"/><rect x="446.09" y="97.48" width="1.35" height="1.35"/><rect x="434.86" y="103.65" width="1.35" height="1.35"/><rect x="458.39" y="99.29" width="1.35" height="1.35"/><rect x="472.99" y="107.95" width="1.35" height="1.35"/><rect x="458.03" y="99.51" width="1.35" height="1.35"/><rect x="457.00" y="98.97" width="1.35" height="1.35"/><rect x="452.05" y="102.17" width="1.35" height="1.35"/><rect x="470.23" y="105.48" width="1.35" height="1.35"/><rect x="410.21" y="98.53" width="1.35" height="1.35"/><rect x="456.30" y="114.34" width="1.35" height="1.35"/><rect x="431.00" y="99.14" width="1.35" height="1.35"/><rect x="426.45" y="91.32" width="1.35" height="1.35"/><rect x="448.65" y="112.10" width="1.35" height="1.35"/><rect x="446.10" y="90.58" width="1.35" height="1.35"/><rect x="466.36" y="97.34" width="1.35" height="1.35"/><rect x="471.90" y="118.51" width="1.35" height="1.35"/><rect x="399.84" y="96.37" width="1.35" height="1.35"/><rect x="446.68" y="112.75" width="1.35" height="1.35"/><rect x="491.87" y="117.58" width="1.35" height="1.35"/><rect x="471.00" y="103.64" width="1.35" height="1.35"/><rect x="481.68" y="112.37" width="1.35" height="1.35"/><rect x="451.17" y="111.11" width="1.35" height="1.35"/><rect x="421.48" y="92.42" width="1.35" height="1.35"/><rect x="427.89" y="94.81" width="1.35" height="1.35"/><rect x="467.99" y="101.76" width="1.35" height="1.35"/><rect x="472.73" y="104.88" width="1.35" height="1.35"/><rect x="433.05" y="107.70" width="1.35" height="1.35"/><rect x="443.60" y="108.02" width="1.35" height="1.35"/><rect x="458.03" y="100.48" width="1.35" height="1.35"/><rect x="415.48" y="88.31" width="1.35" height="1.35"/><rect x="443.93" y="100.65" width="1.35" height="1.35"/><rect x="483.17" y="120.57" width="1.35" height="1.35"/><rect x="498.59" y="112.60" width="1.35" height="1.35"/><rect x="448.23" y="104.83" width="1.35" height="1.35"/><rect x="493.10" y="103.79" width="1.35" height="1.35"/><rect x="441.65" y="94.87" width="1.35" height="1.35"/><rect x="432.25" y="104.36" width="1.35" height="1.35"/><rect x="401.20" y="98.55" width="1.35" height="1.35"/><rect x="472.68" y="104.92" width="1.35" height="1.35"/><rect x="443.86" y="99.08" width="1.35" height="1.35"/><rect x="497.87" y="126.82" width="1.35" height="1.35"/><rect x="457.95" y="106.12" width="1.35" height="1.35"/><rect x="455.25" y="104.20" width="1.35" height="1.35"/><rect x="411.07" y="98.73" width="1.35" height="1.35"/><rect x="481.40" y="117.46" width="1.35" height="1.35"/><rect x="440.30" y="111.85" width="1.35" height="1.35"/><rect x="445.19" y="110.99" width="1.35" height="1.35"/><rect x="404.86" y="88.84" width="1.35" height="1.35"/><rect x="469.95" y="111.72" width="1.35" height="1.35"/><rect x="471.15" y="112.51" width="1.35" height="1.35"/><rect x="440.17" y="93.71" width="1.35" height="1.35"/><rect x="454.13" y="100.70" width="1.35" height="1.35"/><rect x="456.51" y="115.69" width="1.35" height="1.35"/><rect x="473.70" y="102.07" width="1.35" height="1.35"/><rect x="450.40" y="114.03" width="1.35" height="1.35"/><rect x="485.94" y="119.49" width="1.35" height="1.35"/><rect x="445.39" y="104.21" width="1.35" height="1.35"/><rect x="436.35" y="106.47" width="1.35" height="1.35"/><rect x="439.42" y="106.93" width="1.35" height="1.35"/><rect x="394.30" y="98.78" width="1.35" height="1.35"/><rect x="434.03" y="98.89" width="1.35" height="1.35"/><rect x="471.91" y="111.51" width="1.35" height="1.35"/><rect x="456.31" y="106.70" width="1.35" height="1.35"/><rect x="429.18" y="114.18" width="1.35" height="1.35"/><rect x="455.70" y="115.26" width="1.35" height="1.35"/><rect x="409.57" y="87.71" width="1.35" height="1.35"/><rect x="444.92" y="102.65" width="1.35" height="1.35"/><rect x="462.74" y="105.27" width="1.35" height="1.35"/><rect x="464.93" y="111.20" width="1.35" height="1.35"/><rect x="433.50" y="103.24" width="1.35" height="1.35"/><rect x="464.86" y="127.90" width="1.35" height="1.35"/><rect x="493.34" y="106.24" width="1.35" height="1.35"/><rect x="439.19" y="110.93" width="1.35" height="1.35"/><rect x="465.00" y="114.33" width="1.35" height="1.35"/><rect x="418.86" y="92.14" width="1.35" height="1.35"/><rect x="409.22" y="93.30" width="1.35" height="1.35"/><rect x="464.18" y="107.25" width="1.35" height="1.35"/><rect x="451.08" y="107.33" width="1.35" height="1.35"/><rect x="452.46" y="114.76" width="1.35" height="1.35"/><rect x="441.06" y="92.83" width="1.35" height="1.35"/><rect x="441.45" y="113.70" width="1.35" height="1.35"/><rect x="468.13" y="109.34" width="1.35" height="1.35"/><rect x="483.47" y="127.70" width="1.35" height="1.35"/><rect x="444.90" y="108.14" width="1.35" height="1.35"/><rect x="413.02" y="104.60" width="1.35" height="1.35"/><rect x="476.02" y="118.61" width="1.35" height="1.35"/><rect x="460.82" y="117.86" width="1.35" height="1.35"/><rect x="464.57" y="111.44" width="1.35" height="1.35"/><rect x="455.82" y="102.31" width="1.35" height="1.35"/><rect x="497.92" y="125.97" width="1.35" height="1.35"/><rect x="450.47" y="112.01" width="1.35" height="1.35"/><rect x="456.92" y="124.12" width="1.35" height="1.35"/><rect x="415.29" y="81.57" width="1.35" height="1.35"/><rect x="438.51" y="101.77" width="1.35" height="1.35"/><rect x="433.69" y="109.56" width="1.35" height="1.35"/><rect x="452.21" y="98.15" width="1.35" height="1.35"/><rect x="458.11" y="107.44" width="1.35" height="1.35"/><rect x="430.24" y="116.26" width="1.35" height="1.35"/><rect x="483.95" y="127.24" width="1.35" height="1.35"/><rect x="429.63" y="94.12" width="1.35" height="1.35"/><rect x="437.94" y="113.51" width="1.35" height="1.35"/><rect x="452.95" y="116.24" width="1.35" height="1.35"/><rect x="422.37" y="104.09" width="1.35" height="1.35"/><rect x="461.57" y="112.95" width="1.35" height="1.35"/><rect x="463.17" y="112.39" width="1.35" height="1.35"/><rect x="445.90" y="99.09" width="1.35" height="1.35"/><rect x="491.60" y="115.39" width="1.35" height="1.35"/><rect x="450.56" y="112.23" width="1.35" height="1.35"/><rect x="455.95" y="109.52" width="1.35" height="1.35"/><rect x="426.33" y="113.15" width="1.35" height="1.35"/><rect x="415.68" y="93.96" width="1.35" height="1.35"/><rect x="441.84" y="86.68" width="1.35" height="1.35"/><rect x="444.20" y="102.52" width="1.35" height="1.35"/><rect x="440.14" y="105.78" width="1.35" height="1.35"/><rect x="465.74" y="114.23" width="1.35" height="1.35"/><rect x="399.85" y="92.16" width="1.35" height="1.35"/><rect x="428.05" y="94.11" width="1.35" height="1.35"/><rect x="408.79" y="105.29" width="1.35" height="1.35"/><rect x="479.93" y="110.84" width="1.35" height="1.35"/><rect x="436.96" y="108.01" width="1.35" height="1.35"/><rect x="440.03" y="101.63" width="1.35" height="1.35"/><rect x="429.49" y="91.81" width="1.35" height="1.35"/><rect x="466.42" y="122.00" width="1.35" height="1.35"/><rect x="446.68" y="87.37" width="1.35" height="1.35"/><rect x="456.70" y="102.51" width="1.35" height="1.35"/><rect x="406.54" y="96.86" width="1.35" height="1.35"/><rect x="475.73" y="111.84" width="1.35" height="1.35"/><rect x="457.13" y="114.37" width="1.35" height="1.35"/><rect x="462.15" y="109.66" width="1.35" height="1.35"/><rect x="477.30" y="111.62" width="1.35" height="1.35"/><rect x="441.89" y="120.12" width="1.35" height="1.35"/><rect x="447.24" y="104.31" width="1.35" height="1.35"/><rect x="465.78" y="110.33" width="1.35" height="1.35"/><rect x="461.50" y="102.29" width="1.35" height="1.35"/><rect x="446.66" y="100.29" width="1.35" height="1.35"/><rect x="449.95" y="111.49" width="1.35" height="1.35"/><rect x="438.55" y="107.45" width="1.35" height="1.35"/><rect x="465.41" y="111.40" width="1.35" height="1.35"/><rect x="471.44" y="108.08" width="1.35" height="1.35"/><rect x="449.06" y="111.51" width="1.35" height="1.35"/><rect x="493.41" y="107.34" width="1.35" height="1.35"/><rect x="418.56" y="94.85" width="1.35" height="1.35"/><rect x="445.92" y="103.71" width="1.35" height="1.35"/><rect x="488.16" y="112.04" width="1.35" height="1.35"/><rect x="441.13" y="105.24" width="1.35" height="1.35"/><rect x="417.90" y="92.28" width="1.35" height="1.35"/><rect x="481.41" y="110.35" width="1.35" height="1.35"/><rect x="458.23" y="122.45" width="1.35" height="1.35"/><rect x="423.64" y="104.31" width="1.35" height="1.35"/><rect x="464.29" y="119.87" width="1.35" height="1.35"/><rect x="428.64" y="100.78" width="1.35" height="1.35"/><rect x="420.10" y="104.90" width="1.35" height="1.35"/><rect x="445.56" y="111.20" width="1.35" height="1.35"/><rect x="437.75" y="112.02" width="1.35" height="1.35"/><rect x="422.39" y="115.86" width="1.35" height="1.35"/><rect x="443.08" y="103.10" width="1.35" height="1.35"/><rect x="428.61" y="102.32" width="1.35" height="1.35"/><rect x="451.71" y="106.98" width="1.35" height="1.35"/><rect x="456.93" y="83.23" width="1.35" height="1.35"/><rect x="468.89" y="102.31" width="1.35" height="1.35"/><rect x="440.70" y="104.20" width="1.35" height="1.35"/><rect x="420.94" y="102.77" width="1.35" height="1.35"/><rect x="423.63" y="94.75" width="1.35" height="1.35"/><rect x="442.86" y="113.03" width="1.35" height="1.35"/><rect x="480.21" y="125.32" width="1.35" height="1.35"/><rect x="469.10" y="109.59" width="1.35" height="1.35"/><rect x="433.93" y="112.47" width="1.35" height="1.35"/><rect x="466.72" y="124.70" width="1.35" height="1.35"/><rect x="424.90" y="102.75" width="1.35" height="1.35"/><rect x="473.72" y="106.83" width="1.35" height="1.35"/><rect x="439.30" y="114.42" width="1.35" height="1.35"/><rect x="466.91" y="110.77" width="1.35" height="1.35"/><rect x="464.25" y="108.42" width="1.35" height="1.35"/><rect x="444.25" y="106.03" width="1.35" height="1.35"/><rect x="458.34" y="105.48" width="1.35" height="1.35"/><rect x="425.64" y="107.44" width="1.35" height="1.35"/><rect x="447.22" y="111.76" width="1.35" height="1.35"/><rect x="470.77" y="122.06" width="1.35" height="1.35"/><rect x="535.74" y="136.89" width="1.35" height="1.35"/><rect x="466.79" y="106.16" width="1.35" height="1.35"/><rect x="452.52" y="106.52" width="1.35" height="1.35"/><rect x="427.18" y="106.48" width="1.35" height="1.35"/><rect x="473.54" y="111.02" width="1.35" height="1.35"/><rect x="409.47" y="116.11" width="1.35" height="1.35"/><rect x="433.87" y="100.32" width="1.35" height="1.35"/><rect x="459.09" y="105.37" width="1.35" height="1.35"/><rect x="422.56" y="107.09" width="1.35" height="1.35"/><rect x="481.39" y="121.81" width="1.35" height="1.35"/><rect x="473.50" y="113.77" width="1.35" height="1.35"/><rect x="438.80" y="101.89" width="1.35" height="1.35"/><rect x="437.76" y="106.37" width="1.35" height="1.35"/><rect x="420.80" y="104.27" width="1.35" height="1.35"/><rect x="419.21" y="103.27" width="1.35" height="1.35"/><rect x="428.40" y="74.69" width="1.35" height="1.35"/><rect x="486.07" y="56.89" width="1.35" height="1.35"/><rect x="432.31" y="57.67" width="1.35" height="1.35"/><rect x="468.71" y="64.51" width="1.35" height="1.35"/><rect x="395.21" y="67.65" width="1.35" height="1.35"/><rect x="470.13" y="70.64" width="1.35" height="1.35"/><rect x="456.37" y="68.43" width="1.35" height="1.35"/><rect x="483.24" y="76.23" width="1.35" height="1.35"/><rect x="470.56" y="74.34" width="1.35" height="1.35"/><rect x="471.54" y="56.89" width="1.35" height="1.35"/><rect x="498.02" y="62.81" width="1.35" height="1.35"/><rect x="400.81" y="76.52" width="1.35" height="1.35"/><rect x="500.33" y="73.20" width="1.35" height="1.35"/><rect x="479.75" y="54.72" width="1.35" height="1.35"/><rect x="490.19" y="69.99" width="1.35" height="1.35"/><rect x="443.66" y="57.48" width="1.35" height="1.35"/><rect x="393.04" y="66.91" width="1.35" height="1.35"/><rect x="527.78" y="79.18" width="1.35" height="1.35"/><rect x="512.46" y="56.21" width="1.35" height="1.35"/><rect x="536.47" y="74.91" width="1.35" height="1.35"/><rect x="453.44" y="66.42" width="1.35" height="1.35"/><rect x="521.77" y="78.79" width="1.35" height="1.35"/><rect x="519.64" y="75.81" width="1.35" height="1.35"/><rect x="467.86" y="55.95" width="1.35" height="1.35"/><rect x="524.31" y="70.41" width="1.35" height="1.35"/></g><g fill="#ff1a1a"><rect x="396.14" y="95.52" width="1.35" height="1.35"/><rect x="410.39" y="94.37" width="1.35" height="1.35"/><rect x="388.09" y="100.68" width="1.35" height="1.35"/><rect x="407.91" y="92.15" width="1.35" height="1.35"/><rect x="383.72" y="83.32" width="1.35" height="1.35"/><rect x="403.66" y="87.96" width="1.35" height="1.35"/><rect x="394.82" y="98.08" width="1.35" height="1.35"/><rect x="408.15" y="101.42" width="1.35" height="1.35"/><rect x="410.17" y="105.18" width="1.35" height="1.35"/><rect x="396.01" y="91.89" width="1.35" height="1.35"/><rect x="419.44" y="105.53" width="1.35" height="1.35"/><rect x="398.25" y="93.76" width="1.35" height="1.35"/><rect x="389.78" y="76.86" width="1.35" height="1.35"/><rect x="379.46" y="86.75" width="1.35" height="1.35"/><rect x="416.30" y="109.13" width="1.35" height="1.35"/><rect x="404.40" y="94.38" width="1.35" height="1.35"/><rect x="398.20" y="92.68" width="1.35" height="1.35"/><rect x="396.47" y="93.38" width="1.35" height="1.35"/><rect x="390.04" y="96.56" width="1.35" height="1.35"/><rect x="415.77" y="106.09" width="1.35" height="1.35"/><rect x="403.33" y="96.18" width="1.35" height="1.35"/><rect x="422.24" y="104.79" width="1.35" height="1.35"/><rect x="406.16" y="89.21" width="1.35" height="1.35"/><rect x="383.75" y="80.44" width="1.35" height="1.35"/><rect x="411.93" y="101.68" width="1.35" height="1.35"/><rect x="401.41" y="93.34" width="1.35" height="1.35"/><rect x="401.81" y="95.43" width="1.35" height="1.35"/><rect x="416.98" y="108.63" width="1.35" height="1.35"/><rect x="400.65" y="96.75" width="1.35" height="1.35"/><rect x="414.38" y="104.36" width="1.35" height="1.35"/><rect x="402.51" y="99.15" width="1.35" height="1.35"/><rect x="396.71" y="92.91" width="1.35" height="1.35"/><rect x="409.03" y="99.32" width="1.35" height="1.35"/><rect x="397.41" y="94.94" width="1.35" height="1.35"/><rect x="420.06" y="96.58" width="1.35" height="1.35"/><rect x="410.01" y="107.19" width="1.35" height="1.35"/><rect x="408.06" y="91.62" width="1.35" height="1.35"/><rect x="407.79" y="103.46" width="1.35" height="1.35"/><rect x="409.45" y="99.84" width="1.35" height="1.35"/><rect x="398.83" y="99.44" width="1.35" height="1.35"/><rect x="412.48" y="101.85" width="1.35" height="1.35"/><rect x="404.47" y="91.35" width="1.35" height="1.35"/><rect x="407.25" y="104.47" width="1.35" height="1.35"/><rect x="394.85" y="91.77" width="1.35" height="1.35"/><rect x="404.86" y="97.60" width="1.35" height="1.35"/><rect x="407.89" y="99.27" width="1.35" height="1.35"/><rect x="394.30" y="96.04" width="1.35" height="1.35"/><rect x="398.26" y="97.46" width="1.35" height="1.35"/><rect x="398.65" y="94.39" width="1.35" height="1.35"/><rect x="414.95" y="94.44" width="1.35" height="1.35"/><rect x="398.52" y="90.73" width="1.35" height="1.35"/><rect x="408.06" y="99.53" width="1.35" height="1.35"/><rect x="413.95" y="112.72" width="1.35" height="1.35"/><rect x="406.60" y="100.20" width="1.35" height="1.35"/><rect x="389.40" y="86.85" width="1.35" height="1.35"/><rect x="402.39" y="102.18" width="1.35" height="1.35"/><rect x="414.26" y="102.15" width="1.35" height="1.35"/><rect x="401.64" y="94.80" width="1.35" height="1.35"/><rect x="414.22" y="103.65" width="1.35" height="1.35"/><rect x="413.82" y="94.05" width="1.35" height="1.35"/><rect x="405.77" y="102.93" width="1.35" height="1.35"/><rect x="400.74" y="96.81" width="1.35" height="1.35"/><rect x="400.19" y="92.47" width="1.35" height="1.35"/><rect x="404.76" y="90.45" width="1.35" height="1.35"/><rect x="404.31" y="97.83" width="1.35" height="1.35"/><rect x="405.62" y="105.34" width="1.35" height="1.35"/><rect x="409.83" y="96.42" width="1.35" height="1.35"/><rect x="404.15" y="90.53" width="1.35" height="1.35"/><rect x="403.83" y="98.70" width="1.35" height="1.35"/><rect x="411.95" y="92.35" width="1.35" height="1.35"/><rect x="394.71" y="78.13" width="1.35" height="1.35"/><rect x="398.23" y="90.35" width="1.35" height="1.35"/><rect x="398.57" y="89.17" width="1.35" height="1.35"/><rect x="403.09" y="94.31" width="1.35" height="1.35"/><rect x="403.12" y="92.78" width="1.35" height="1.35"/><rect x="401.05" y="96.49" width="1.35" height="1.35"/><rect x="396.70" y="90.67" width="1.35" height="1.35"/><rect x="412.11" y="98.09" width="1.35" height="1.35"/><rect x="408.06" y="96.38" width="1.35" height="1.35"/><rect x="387.36" y="89.69" width="1.35" height="1.35"/><rect x="402.01" y="100.63" width="1.35" height="1.35"/><rect x="391.50" y="93.80" width="1.35" height="1.35"/><rect x="418.47" y="109.36" width="1.35" height="1.35"/><rect x="408.40" y="80.55" width="1.35" height="1.35"/><rect x="403.17" y="90.28" width="1.35" height="1.35"/><rect x="405.90" y="95.85" width="1.35" height="1.35"/><rect x="401.93" y="96.33" width="1.35" height="1.35"/><rect x="407.87" y="89.72" width="1.35" height="1.35"/><rect x="415.20" y="111.43" width="1.35" height="1.35"/><rect x="405.67" y="99.21" width="1.35" height="1.35"/><rect x="413.71" y="98.97" width="1.35" height="1.35"/><rect x="414.46" y="103.86" width="1.35" height="1.35"/><rect x="396.10" y="89.60" width="1.35" height="1.35"/><rect x="422.05" y="103.36" width="1.35" height="1.35"/><rect x="409.49" y="102.72" width="1.35" height="1.35"/><rect x="414.43" y="100.37" width="1.35" height="1.35"/><rect x="399.83" y="85.91" width="1.35" height="1.35"/><rect x="413.58" y="98.82" width="1.35" height="1.35"/><rect x="408.49" y="98.60" width="1.35" height="1.35"/><rect x="402.05" y="89.16" width="1.35" height="1.35"/><rect x="422.49" y="115.05" width="1.35" height="1.35"/><rect x="412.39" y="95.52" width="1.35" height="1.35"/><rect x="397.66" y="102.46" width="1.35" height="1.35"/><rect x="403.89" y="101.46" width="1.35" height="1.35"/><rect x="415.23" y="98.12" width="1.35" height="1.35"/><rect x="414.58" y="103.77" width="1.35" height="1.35"/><rect x="406.79" y="104.88" width="1.35" height="1.35"/><rect x="416.21" y="102.97" width="1.35" height="1.35"/><rect x="421.11" y="100.35" width="1.35" height="1.35"/><rect x="392.52" y="89.99" width="1.35" height="1.35"/><rect x="394.77" y="102.00" width="1.35" height="1.35"/><rect x="399.33" y="85.17" width="1.35" height="1.35"/><rect x="403.85" y="99.53" width="1.35" height="1.35"/><rect x="417.81" y="105.11" width="1.35" height="1.35"/><rect x="410.75" y="100.01" width="1.35" height="1.35"/><rect x="395.55" y="89.06" width="1.35" height="1.35"/><rect x="402.41" y="93.70" width="1.35" height="1.35"/><rect x="411.33" y="106.91" width="1.35" height="1.35"/><rect x="397.86" y="96.07" width="1.35" height="1.35"/><rect x="405.96" y="92.09" width="1.35" height="1.35"/><rect x="403.25" y="104.84" width="1.35" height="1.35"/><rect x="390.59" y="80.87" width="1.35" height="1.35"/><rect x="409.95" y="103.94" width="1.35" height="1.35"/><rect x="407.07" y="99.45" width="1.35" height="1.35"/><rect x="406.62" y="104.91" width="1.35" height="1.35"/><rect x="394.29" y="92.50" width="1.35" height="1.35"/><rect x="394.49" y="96.58" width="1.35" height="1.35"/><rect x="398.82" y="93.17" width="1.35" height="1.35"/><rect x="404.22" y="102.15" width="1.35" height="1.35"/><rect x="404.12" y="98.54" width="1.35" height="1.35"/><rect x="400.09" y="106.24" width="1.35" height="1.35"/><rect x="422.84" y="104.28" width="1.35" height="1.35"/><rect x="413.52" y="109.17" width="1.35" height="1.35"/><rect x="396.43" y="94.46" width="1.35" height="1.35"/><rect x="397.77" y="93.67" width="1.35" height="1.35"/><rect x="421.80" y="104.37" width="1.35" height="1.35"/><rect x="400.23" y="96.72" width="1.35" height="1.35"/><rect x="420.95" y="98.72" width="1.35" height="1.35"/><rect x="422.74" y="100.42" width="1.35" height="1.35"/><rect x="397.46" y="96.50" width="1.35" height="1.35"/><rect x="405.74" y="88.83" width="1.35" height="1.35"/><rect x="401.47" y="103.08" width="1.35" height="1.35"/><rect x="396.95" y="90.61" width="1.35" height="1.35"/><rect x="394.55" y="92.09" width="1.35" height="1.35"/><rect x="400.38" y="94.72" width="1.35" height="1.35"/><rect x="411.23" y="103.40" width="1.35" height="1.35"/><rect x="400.84" y="93.01" width="1.35" height="1.35"/><rect x="403.32" y="94.05" width="1.35" height="1.35"/><rect x="400.29" y="93.54" width="1.35" height="1.35"/><rect x="388.91" y="93.12" width="1.35" height="1.35"/><rect x="415.33" y="109.97" width="1.35" height="1.35"/><rect x="379.20" y="88.37" width="1.35" height="1.35"/><rect x="397.28" y="94.45" width="1.35" height="1.35"/><rect x="410.05" y="99.17" width="1.35" height="1.35"/><rect x="395.52" y="81.81" width="1.35" height="1.35"/><rect x="408.35" y="102.88" width="1.35" height="1.35"/><rect x="413.90" y="107.44" width="1.35" height="1.35"/><rect x="397.30" y="90.12" width="1.35" height="1.35"/><rect x="404.23" y="101.25" width="1.35" height="1.35"/><rect x="390.68" y="95.57" width="1.35" height="1.35"/><rect x="408.82" y="100.07" width="1.35" height="1.35"/><rect x="402.47" y="101.57" width="1.35" height="1.35"/><rect x="405.55" y="99.25" width="1.35" height="1.35"/><rect x="421.47" y="97.59" width="1.35" height="1.35"/><rect x="409.91" y="97.55" width="1.35" height="1.35"/><rect x="417.93" y="102.88" width="1.35" height="1.35"/><rect x="408.90" y="102.59" width="1.35" height="1.35"/><rect x="395.28" y="86.27" width="1.35" height="1.35"/><rect x="407.87" y="96.48" width="1.35" height="1.35"/><rect x="411.32" y="95.66" width="1.35" height="1.35"/><rect x="390.89" y="88.21" width="1.35" height="1.35"/><rect x="416.60" y="104.76" width="1.35" height="1.35"/><rect x="402.48" y="101.12" width="1.35" height="1.35"/><rect x="405.74" y="102.14" width="1.35" height="1.35"/><rect x="395.51" y="92.23" width="1.35" height="1.35"/><rect x="404.38" y="98.16" width="1.35" height="1.35"/><rect x="406.84" y="98.93" width="1.35" height="1.35"/><rect x="400.98" y="95.32" width="1.35" height="1.35"/><rect x="401.15" y="103.53" width="1.35" height="1.35"/><rect x="390.78" y="74.32" width="1.35" height="1.35"/><rect x="417.49" y="103.93" width="1.35" height="1.35"/><rect x="393.10" y="91.57" width="1.35" height="1.35"/><rect x="381.05" y="88.71" width="1.35" height="1.35"/><rect x="398.10" y="86.72" width="1.35" height="1.35"/><rect x="395.62" y="93.33" width="1.35" height="1.35"/><rect x="407.21" y="103.42" width="1.35" height="1.35"/><rect x="396.89" y="89.63" width="1.35" height="1.35"/><rect x="411.79" y="90.61" width="1.35" height="1.35"/><rect x="396.24" y="89.72" width="1.35" height="1.35"/><rect x="427.97" y="104.64" width="1.35" height="1.35"/><rect x="407.75" y="102.56" width="1.35" height="1.35"/><rect x="424.74" y="104.61" width="1.35" height="1.35"/><rect x="390.31" y="98.13" width="1.35" height="1.35"/><rect x="410.15" y="101.17" width="1.35" height="1.35"/><rect x="397.40" y="87.92" width="1.35" height="1.35"/><rect x="410.98" y="98.04" width="1.35" height="1.35"/><rect x="413.40" y="96.22" width="1.35" height="1.35"/><rect x="388.40" y="89.09" width="1.35" height="1.35"/><rect x="389.89" y="96.24" width="1.35" height="1.35"/><rect x="393.93" y="89.10" width="1.35" height="1.35"/><rect x="387.89" y="91.79" width="1.35" height="1.35"/><rect x="399.83" y="88.65" width="1.35" height="1.35"/><rect x="394.52" y="92.42" width="1.35" height="1.35"/><rect x="384.94" y="97.75" width="1.35" height="1.35"/><rect x="408.74" y="91.56" width="1.35" height="1.35"/><rect x="406.26" y="104.92" width="1.35" height="1.35"/><rect x="389.01" y="93.89" width="1.35" height="1.35"/><rect x="403.81" y="85.83" width="1.35" height="1.35"/><rect x="407.97" y="90.92" width="1.35" height="1.35"/><rect x="404.56" y="91.39" width="1.35" height="1.35"/><rect x="395.26" y="96.61" width="1.35" height="1.35"/><rect x="412.92" y="99.66" width="1.35" height="1.35"/><rect x="412.59" y="100.94" width="1.35" height="1.35"/><rect x="408.82" y="103.54" width="1.35" height="1.35"/><rect x="402.00" y="95.98" width="1.35" height="1.35"/><rect x="422.25" y="109.14" width="1.35" height="1.35"/><rect x="421.33" y="105.49" width="1.35" height="1.35"/><rect x="397.64" y="98.96" width="1.35" height="1.35"/><rect x="405.09" y="92.83" width="1.35" height="1.35"/><rect x="411.11" y="110.42" width="1.35" height="1.35"/><rect x="397.62" y="90.69" width="1.35" height="1.35"/><rect x="409.98" y="95.76" width="1.35" height="1.35"/><rect x="403.03" y="99.60" width="1.35" height="1.35"/><rect x="396.52" y="94.46" width="1.35" height="1.35"/><rect x="407.08" y="87.27" width="1.35" height="1.35"/><rect x="388.98" y="88.49" width="1.35" height="1.35"/><rect x="402.57" y="88.04" width="1.35" height="1.35"/><rect x="387.67" y="81.74" width="1.35" height="1.35"/><rect x="423.55" y="113.11" width="1.35" height="1.35"/><rect x="420.48" y="101.89" width="1.35" height="1.35"/><rect x="414.81" y="105.25" width="1.35" height="1.35"/><rect x="408.01" y="96.88" width="1.35" height="1.35"/><rect x="408.67" y="110.35" width="1.35" height="1.35"/><rect x="416.36" y="103.66" width="1.35" height="1.35"/><rect x="416.69" y="97.76" width="1.35" height="1.35"/><rect x="415.60" y="97.48" width="1.35" height="1.35"/><rect x="397.98" y="87.68" width="1.35" height="1.35"/><rect x="407.90" y="99.66" width="1.35" height="1.35"/><rect x="399.22" y="93.54" width="1.35" height="1.35"/><rect x="390.72" y="93.76" width="1.35" height="1.35"/><rect x="393.11" y="90.71" width="1.35" height="1.35"/><rect x="407.88" y="99.65" width="1.35" height="1.35"/><rect x="413.23" y="104.06" width="1.35" height="1.35"/><rect x="391.74" y="88.18" width="1.35" height="1.35"/><rect x="419.78" y="107.94" width="1.35" height="1.35"/><rect x="415.96" y="108.34" width="1.35" height="1.35"/><rect x="398.66" y="97.61" width="1.35" height="1.35"/><rect x="401.25" y="91.71" width="1.35" height="1.35"/><rect x="407.98" y="88.98" width="1.35" height="1.35"/><rect x="415.41" y="99.01" width="1.35" height="1.35"/><rect x="399.90" y="95.54" width="1.35" height="1.35"/><rect x="400.14" y="80.04" width="1.35" height="1.35"/><rect x="408.60" y="96.65" width="1.35" height="1.35"/><rect x="383.74" y="86.46" width="1.35" height="1.35"/><rect x="406.93" y="95.11" width="1.35" height="1.35"/><rect x="417.85" y="98.75" width="1.35" height="1.35"/><rect x="402.60" y="105.51" width="1.35" height="1.35"/><rect x="407.97" y="106.76" width="1.35" height="1.35"/><rect x="409.45" y="98.39" width="1.35" height="1.35"/><rect x="407.64" y="106.19" width="1.35" height="1.35"/><rect x="402.25" y="102.72" width="1.35" height="1.35"/><rect x="399.28" y="87.16" width="1.35" height="1.35"/><rect x="395.30" y="106.20" width="1.35" height="1.35"/><rect x="405.86" y="92.32" width="1.35" height="1.35"/><rect x="416.61" y="102.79" width="1.35" height="1.35"/><rect x="422.15" y="101.52" width="1.35" height="1.35"/><rect x="407.91" y="99.32" width="1.35" height="1.35"/><rect x="400.47" y="86.83" width="1.35" height="1.35"/><rect x="397.38" y="92.30" width="1.35" height="1.35"/><rect x="399.69" y="99.89" width="1.35" height="1.35"/><rect x="416.63" y="105.48" width="1.35" height="1.35"/><rect x="407.98" y="97.41" width="1.35" height="1.35"/><rect x="399.76" y="102.54" width="1.35" height="1.35"/><rect x="399.30" y="88.46" width="1.35" height="1.35"/><rect x="409.99" y="105.61" width="1.35" height="1.35"/><rect x="407.66" y="96.99" width="1.35" height="1.35"/><rect x="403.17" y="97.13" width="1.35" height="1.35"/><rect x="405.08" y="97.27" width="1.35" height="1.35"/><rect x="419.64" y="106.84" width="1.35" height="1.35"/><rect x="402.83" y="95.39" width="1.35" height="1.35"/><rect x="421.96" y="103.13" width="1.35" height="1.35"/><rect x="417.25" y="101.41" width="1.35" height="1.35"/><rect x="403.57" y="98.63" width="1.35" height="1.35"/><rect x="412.74" y="101.21" width="1.35" height="1.35"/><rect x="405.99" y="91.06" width="1.35" height="1.35"/><rect x="398.24" y="88.84" width="1.35" height="1.35"/><rect x="403.45" y="92.14" width="1.35" height="1.35"/><rect x="395.86" y="91.03" width="1.35" height="1.35"/><rect x="408.54" y="100.20" width="1.35" height="1.35"/><rect x="404.12" y="96.97" width="1.35" height="1.35"/><rect x="411.18" y="97.13" width="1.35" height="1.35"/><rect x="411.90" y="101.37" width="1.35" height="1.35"/><rect x="378.51" y="72.83" width="1.35" height="1.35"/><rect x="414.42" y="86.54" width="1.35" height="1.35"/><rect x="387.52" y="85.83" width="1.35" height="1.35"/><rect x="409.96" y="90.71" width="1.35" height="1.35"/><rect x="398.42" y="87.54" width="1.35" height="1.35"/><rect x="408.25" y="92.17" width="1.35" height="1.35"/><rect x="415.41" y="106.96" width="1.35" height="1.35"/><rect x="391.33" y="81.64" width="1.35" height="1.35"/><rect x="405.32" y="98.70" width="1.35" height="1.35"/><rect x="404.74" y="94.02" width="1.35" height="1.35"/><rect x="389.68" y="80.45" width="1.35" height="1.35"/><rect x="414.29" y="93.79" width="1.35" height="1.35"/><rect x="403.40" y="98.53" width="1.35" height="1.35"/><rect x="398.52" y="95.07" width="1.35" height="1.35"/><rect x="395.55" y="95.41" width="1.35" height="1.35"/><rect x="429.66" y="122.53" width="1.35" height="1.35"/><rect x="399.89" y="95.26" width="1.35" height="1.35"/><rect x="386.72" y="87.14" width="1.35" height="1.35"/><rect x="395.87" y="90.52" width="1.35" height="1.35"/><rect x="400.57" y="94.72" width="1.35" height="1.35"/><rect x="401.56" y="92.76" width="1.35" height="1.35"/><rect x="405.80" y="92.31" width="1.35" height="1.35"/><rect x="389.44" y="98.47" width="1.35" height="1.35"/><rect x="414.05" y="91.95" width="1.35" height="1.35"/><rect x="399.11" y="94.63" width="1.35" height="1.35"/><rect x="390.44" y="90.31" width="1.35" height="1.35"/><rect x="396.28" y="92.28" width="1.35" height="1.35"/><rect x="403.12" y="90.24" width="1.35" height="1.35"/><rect x="412.71" y="100.52" width="1.35" height="1.35"/><rect x="409.99" y="97.31" width="1.35" height="1.35"/><rect x="403.85" y="90.03" width="1.35" height="1.35"/><rect x="404.60" y="96.30" width="1.35" height="1.35"/><rect x="407.34" y="95.95" width="1.35" height="1.35"/><rect x="424.76" y="105.93" width="1.35" height="1.35"/><rect x="396.80" y="95.56" width="1.35" height="1.35"/><rect x="411.35" y="94.74" width="1.35" height="1.35"/><rect x="409.99" y="102.35" width="1.35" height="1.35"/><rect x="396.95" y="88.33" width="1.35" height="1.35"/><rect x="405.01" y="99.18" width="1.35" height="1.35"/><rect x="405.67" y="97.57" width="1.35" height="1.35"/><rect x="399.32" y="94.59" width="1.35" height="1.35"/><rect x="412.11" y="95.62" width="1.35" height="1.35"/><rect x="415.90" y="99.13" width="1.35" height="1.35"/><rect x="417.06" y="99.38" width="1.35" height="1.35"/><rect x="402.10" y="95.91" width="1.35" height="1.35"/><rect x="404.22" y="100.46" width="1.35" height="1.35"/><rect x="423.58" y="114.34" width="1.35" height="1.35"/><rect x="395.28" y="87.87" width="1.35" height="1.35"/><rect x="406.20" y="97.94" width="1.35" height="1.35"/><rect x="416.74" y="94.87" width="1.35" height="1.35"/><rect x="411.34" y="88.14" width="1.35" height="1.35"/><rect x="412.66" y="96.57" width="1.35" height="1.35"/><rect x="407.64" y="94.59" width="1.35" height="1.35"/><rect x="415.31" y="94.34" width="1.35" height="1.35"/><rect x="420.83" y="96.48" width="1.35" height="1.35"/><rect x="400.93" y="97.18" width="1.35" height="1.35"/><rect x="408.22" y="94.16" width="1.35" height="1.35"/><rect x="408.08" y="89.12" width="1.35" height="1.35"/><rect x="394.72" y="103.39" width="1.35" height="1.35"/><rect x="403.74" y="96.86" width="1.35" height="1.35"/><rect x="394.58" y="88.42" width="1.35" height="1.35"/><rect x="409.61" y="103.34" width="1.35" height="1.35"/><rect x="422.20" y="103.04" width="1.35" height="1.35"/><rect x="416.30" y="112.60" width="1.35" height="1.35"/><rect x="420.18" y="97.39" width="1.35" height="1.35"/><rect x="398.65" y="85.34" width="1.35" height="1.35"/><rect x="418.93" y="104.50" width="1.35" height="1.35"/><rect x="399.62" y="88.98" width="1.35" height="1.35"/><rect x="400.33" y="101.67" width="1.35" height="1.35"/><rect x="425.68" y="100.42" width="1.35" height="1.35"/><rect x="396.21" y="87.04" width="1.35" height="1.35"/><rect x="411.65" y="102.07" width="1.35" height="1.35"/><rect x="405.60" y="100.14" width="1.35" height="1.35"/><rect x="400.44" y="99.41" width="1.35" height="1.35"/><rect x="395.34" y="92.53" width="1.35" height="1.35"/><rect x="402.79" y="107.62" width="1.35" height="1.35"/><rect x="401.26" y="91.59" width="1.35" height="1.35"/><rect x="413.73" y="102.98" width="1.35" height="1.35"/><rect x="413.69" y="106.78" width="1.35" height="1.35"/><rect x="392.31" y="86.92" width="1.35" height="1.35"/><rect x="400.42" y="92.07" width="1.35" height="1.35"/><rect x="402.59" y="92.45" width="1.35" height="1.35"/><rect x="394.99" y="86.72" width="1.35" height="1.35"/><rect x="396.81" y="85.11" width="1.35" height="1.35"/><rect x="406.64" y="94.44" width="1.35" height="1.35"/><rect x="406.38" y="88.67" width="1.35" height="1.35"/><rect x="388.02" y="88.14" width="1.35" height="1.35"/><rect x="403.40" y="86.58" width="1.35" height="1.35"/><rect x="404.07" y="107.57" width="1.35" height="1.35"/><rect x="388.86" y="96.08" width="1.35" height="1.35"/><rect x="393.01" y="95.30" width="1.35" height="1.35"/><rect x="419.80" y="104.50" width="1.35" height="1.35"/><rect x="418.22" y="101.41" width="1.35" height="1.35"/><rect x="386.19" y="91.73" width="1.35" height="1.35"/><rect x="391.35" y="89.06" width="1.35" height="1.35"/><rect x="406.55" y="100.61" width="1.35" height="1.35"/><rect x="395.11" y="86.31" width="1.35" height="1.35"/><rect x="399.39" y="99.01" width="1.35" height="1.35"/><rect x="402.23" y="90.28" width="1.35" height="1.35"/><rect x="409.41" y="99.82" width="1.35" height="1.35"/><rect x="385.16" y="74.45" width="1.35" height="1.35"/><rect x="385.50" y="80.71" width="1.35" height="1.35"/><rect x="391.72" y="91.06" width="1.35" height="1.35"/><rect x="415.06" y="100.18" width="1.35" height="1.35"/><rect x="404.13" y="93.42" width="1.35" height="1.35"/><rect x="386.49" y="89.43" width="1.35" height="1.35"/><rect x="409.24" y="98.69" width="1.35" height="1.35"/><rect x="407.94" y="105.27" width="1.35" height="1.35"/><rect x="408.24" y="84.88" width="1.35" height="1.35"/><rect x="399.93" y="96.52" width="1.35" height="1.35"/><rect x="407.27" y="100.72" width="1.35" height="1.35"/><rect x="419.65" y="96.86" width="1.35" height="1.35"/><rect x="409.15" y="91.73" width="1.35" height="1.35"/><rect x="407.23" y="102.78" width="1.35" height="1.35"/><rect x="406.69" y="91.50" width="1.35" height="1.35"/><rect x="402.49" y="91.32" width="1.35" height="1.35"/><rect x="394.39" y="93.24" width="1.35" height="1.35"/><rect x="407.69" y="96.25" width="1.35" height="1.35"/><rect x="400.45" y="96.31" width="1.35" height="1.35"/><rect x="404.37" y="91.17" width="1.35" height="1.35"/><rect x="412.40" y="102.71" width="1.35" height="1.35"/><rect x="406.29" y="103.34" width="1.35" height="1.35"/><rect x="411.77" y="102.48" width="1.35" height="1.35"/><rect x="395.26" y="78.06" width="1.35" height="1.35"/><rect x="408.04" y="101.99" width="1.35" height="1.35"/><rect x="398.80" y="92.93" width="1.35" height="1.35"/><rect x="399.18" y="87.74" width="1.35" height="1.35"/><rect x="392.98" y="96.83" width="1.35" height="1.35"/><rect x="420.18" y="96.05" width="1.35" height="1.35"/><rect x="407.48" y="108.52" width="1.35" height="1.35"/><rect x="399.35" y="89.38" width="1.35" height="1.35"/><rect x="389.86" y="95.91" width="1.35" height="1.35"/><rect x="404.70" y="96.01" width="1.35" height="1.35"/><rect x="403.51" y="88.04" width="1.35" height="1.35"/><rect x="419.74" y="106.11" width="1.35" height="1.35"/><rect x="389.96" y="88.98" width="1.35" height="1.35"/><rect x="385.99" y="87.70" width="1.35" height="1.35"/><rect x="399.40" y="98.93" width="1.35" height="1.35"/><rect x="406.82" y="92.52" width="1.35" height="1.35"/><rect x="404.46" y="98.87" width="1.35" height="1.35"/><rect x="409.65" y="103.46" width="1.35" height="1.35"/><rect x="424.53" y="107.02" width="1.35" height="1.35"/><rect x="403.62" y="90.32" width="1.35" height="1.35"/><rect x="401.78" y="89.06" width="1.35" height="1.35"/><rect x="386.13" y="88.95" width="1.35" height="1.35"/><rect x="404.73" y="100.76" width="1.35" height="1.35"/><rect x="414.53" y="97.68" width="1.35" height="1.35"/><rect x="405.40" y="89.15" width="1.35" height="1.35"/><rect x="412.38" y="107.98" width="1.35" height="1.35"/><rect x="408.66" y="89.97" width="1.35" height="1.35"/><rect x="418.22" y="105.53" width="1.35" height="1.35"/><rect x="409.61" y="94.76" width="1.35" height="1.35"/><rect x="399.00" y="82.84" width="1.35" height="1.35"/><rect x="398.20" y="92.91" width="1.35" height="1.35"/><rect x="390.61" y="86.44" width="1.35" height="1.35"/><rect x="384.60" y="91.88" width="1.35" height="1.35"/><rect x="401.24" y="106.87" width="1.35" height="1.35"/><rect x="413.07" y="100.37" width="1.35" height="1.35"/><rect x="420.15" y="111.59" width="1.35" height="1.35"/><rect x="401.32" y="100.02" width="1.35" height="1.35"/><rect x="403.57" y="92.60" width="1.35" height="1.35"/><rect x="396.28" y="86.15" width="1.35" height="1.35"/><rect x="409.64" y="108.36" width="1.35" height="1.35"/><rect x="409.02" y="96.87" width="1.35" height="1.35"/><rect x="398.97" y="92.54" width="1.35" height="1.35"/><rect x="411.64" y="98.91" width="1.35" height="1.35"/><rect x="410.05" y="98.81" width="1.35" height="1.35"/><rect x="388.50" y="82.81" width="1.35" height="1.35"/><rect x="409.53" y="103.44" width="1.35" height="1.35"/><rect x="402.58" y="101.98" width="1.35" height="1.35"/><rect x="401.75" y="92.31" width="1.35" height="1.35"/><rect x="404.04" y="88.08" width="1.35" height="1.35"/><rect x="420.68" y="106.44" width="1.35" height="1.35"/><rect x="422.57" y="98.96" width="1.35" height="1.35"/><rect x="423.15" y="104.08" width="1.35" height="1.35"/><rect x="390.63" y="94.43" width="1.35" height="1.35"/><rect x="392.51" y="101.73" width="1.35" height="1.35"/><rect x="411.99" y="102.87" width="1.35" height="1.35"/><rect x="395.85" y="84.77" width="1.35" height="1.35"/><rect x="395.77" y="95.09" width="1.35" height="1.35"/><rect x="393.25" y="76.52" width="1.35" height="1.35"/><rect x="423.54" y="104.02" width="1.35" height="1.35"/><rect x="410.57" y="108.44" width="1.35" height="1.35"/><rect x="406.88" y="101.78" width="1.35" height="1.35"/><rect x="409.99" y="91.76" width="1.35" height="1.35"/><rect x="404.75" y="86.93" width="1.35" height="1.35"/><rect x="398.59" y="97.26" width="1.35" height="1.35"/><rect x="410.34" y="99.47" width="1.35" height="1.35"/><rect x="399.31" y="89.56" width="1.35" height="1.35"/><rect x="414.90" y="104.88" width="1.35" height="1.35"/><rect x="401.31" y="90.91" width="1.35" height="1.35"/><rect x="401.14" y="83.23" width="1.35" height="1.35"/><rect x="414.57" y="106.90" width="1.35" height="1.35"/><rect x="404.75" y="92.63" width="1.35" height="1.35"/><rect x="412.18" y="95.24" width="1.35" height="1.35"/><rect x="403.94" y="88.28" width="1.35" height="1.35"/><rect x="382.80" y="84.07" width="1.35" height="1.35"/><rect x="411.61" y="96.00" width="1.35" height="1.35"/><rect x="390.31" y="90.82" width="1.35" height="1.35"/><rect x="415.26" y="101.28" width="1.35" height="1.35"/><rect x="387.25" y="91.49" width="1.35" height="1.35"/><rect x="388.00" y="83.72" width="1.35" height="1.35"/><rect x="408.99" y="95.23" width="1.35" height="1.35"/><rect x="413.40" y="90.57" width="1.35" height="1.35"/><rect x="408.23" y="92.26" width="1.35" height="1.35"/><rect x="391.31" y="91.99" width="1.35" height="1.35"/><rect x="405.08" y="113.65" width="1.35" height="1.35"/><rect x="393.92" y="82.53" width="1.35" height="1.35"/><rect x="402.74" y="89.19" width="1.35" height="1.35"/><rect x="396.25" y="92.90" width="1.35" height="1.35"/><rect x="399.73" y="95.85" width="1.35" height="1.35"/><rect x="414.14" y="98.29" width="1.35" height="1.35"/><rect x="398.34" y="92.74" width="1.35" height="1.35"/><rect x="413.79" y="92.84" width="1.35" height="1.35"/><rect x="411.70" y="98.91" width="1.35" height="1.35"/><rect x="386.20" y="89.84" width="1.35" height="1.35"/><rect x="389.45" y="95.97" width="1.35" height="1.35"/><rect x="401.30" y="93.20" width="1.35" height="1.35"/><rect x="399.58" y="91.62" width="1.35" height="1.35"/><rect x="406.20" y="99.72" width="1.35" height="1.35"/><rect x="383.62" y="89.40" width="1.35" height="1.35"/><rect x="409.97" y="102.26" width="1.35" height="1.35"/><rect x="413.31" y="97.37" width="1.35" height="1.35"/><rect x="401.99" y="96.57" width="1.35" height="1.35"/><rect x="389.10" y="92.01" width="1.35" height="1.35"/><rect x="406.31" y="93.24" width="1.35" height="1.35"/><rect x="402.80" y="87.56" width="1.35" height="1.35"/><rect x="408.48" y="101.45" width="1.35" height="1.35"/><rect x="402.74" y="97.09" width="1.35" height="1.35"/><rect x="408.84" y="104.25" width="1.35" height="1.35"/><rect x="400.19" y="93.95" width="1.35" height="1.35"/><rect x="419.57" y="101.85" width="1.35" height="1.35"/><rect x="384.01" y="80.97" width="1.35" height="1.35"/><rect x="397.55" y="86.04" width="1.35" height="1.35"/><rect x="411.43" y="95.11" width="1.35" height="1.35"/><rect x="391.75" y="85.07" width="1.35" height="1.35"/><rect x="412.56" y="98.41" width="1.35" height="1.35"/><rect x="390.28" y="93.58" width="1.35" height="1.35"/><rect x="408.42" y="91.67" width="1.35" height="1.35"/><rect x="396.02" y="90.62" width="1.35" height="1.35"/><rect x="401.81" y="91.17" width="1.35" height="1.35"/><rect x="402.34" y="103.17" width="1.35" height="1.35"/><rect x="402.82" y="96.57" width="1.35" height="1.35"/><rect x="401.83" y="92.39" width="1.35" height="1.35"/><rect x="422.53" y="111.91" width="1.35" height="1.35"/><rect x="404.36" y="96.44" width="1.35" height="1.35"/><rect x="396.58" y="88.57" width="1.35" height="1.35"/><rect x="409.26" y="107.73" width="1.35" height="1.35"/><rect x="410.33" y="103.76" width="1.35" height="1.35"/><rect x="411.53" y="110.23" width="1.35" height="1.35"/><rect x="418.25" y="111.18" width="1.35" height="1.35"/><rect x="393.72" y="93.83" width="1.35" height="1.35"/><rect x="414.02" y="102.81" width="1.35" height="1.35"/><rect x="417.83" y="98.34" width="1.35" height="1.35"/><rect x="402.66" y="99.01" width="1.35" height="1.35"/><rect x="406.55" y="97.85" width="1.35" height="1.35"/><rect x="374.67" y="81.47" width="1.35" height="1.35"/><rect x="399.10" y="92.78" width="1.35" height="1.35"/><rect x="422.89" y="103.70" width="1.35" height="1.35"/><rect x="390.27" y="81.70" width="1.35" height="1.35"/><rect x="397.67" y="95.87" width="1.35" height="1.35"/><rect x="403.88" y="103.05" width="1.35" height="1.35"/><rect x="410.54" y="98.31" width="1.35" height="1.35"/><rect x="418.55" y="107.44" width="1.35" height="1.35"/><rect x="384.48" y="91.54" width="1.35" height="1.35"/><rect x="406.93" y="93.01" width="1.35" height="1.35"/><rect x="413.33" y="99.75" width="1.35" height="1.35"/><rect x="394.97" y="83.99" width="1.35" height="1.35"/><rect x="401.10" y="100.70" width="1.35" height="1.35"/><rect x="421.40" y="108.14" width="1.35" height="1.35"/><rect x="417.90" y="101.91" width="1.35" height="1.35"/><rect x="413.64" y="92.57" width="1.35" height="1.35"/><rect x="380.44" y="80.27" width="1.35" height="1.35"/><rect x="400.71" y="99.44" width="1.35" height="1.35"/><rect x="408.79" y="97.20" width="1.35" height="1.35"/><rect x="402.61" y="92.65" width="1.35" height="1.35"/><rect x="402.21" y="98.38" width="1.35" height="1.35"/><rect x="436.35" y="109.03" width="1.35" height="1.35"/><rect x="402.29" y="95.13" width="1.35" height="1.35"/><rect x="393.86" y="92.96" width="1.35" height="1.35"/><rect x="408.66" y="94.41" width="1.35" height="1.35"/><rect x="403.56" y="90.97" width="1.35" height="1.35"/><rect x="400.91" y="95.37" width="1.35" height="1.35"/><rect x="403.86" y="95.26" width="1.35" height="1.35"/><rect x="412.25" y="99.70" width="1.35" height="1.35"/><rect x="406.12" y="98.38" width="1.35" height="1.35"/><rect x="392.63" y="90.10" width="1.35" height="1.35"/><rect x="405.51" y="91.65" width="1.35" height="1.35"/><rect x="410.53" y="96.22" width="1.35" height="1.35"/><rect x="398.92" y="95.28" width="1.35" height="1.35"/><rect x="412.35" y="107.37" width="1.35" height="1.35"/><rect x="408.29" y="106.16" width="1.35" height="1.35"/><rect x="397.28" y="87.00" width="1.35" height="1.35"/><rect x="404.66" y="102.46" width="1.35" height="1.35"/><rect x="421.06" y="110.74" width="1.35" height="1.35"/><rect x="419.08" y="105.10" width="1.35" height="1.35"/><rect x="402.67" y="97.83" width="1.35" height="1.35"/><rect x="410.73" y="104.74" width="1.35" height="1.35"/><rect x="393.63" y="99.51" width="1.35" height="1.35"/><rect x="393.52" y="83.52" width="1.35" height="1.35"/><rect x="408.09" y="101.83" width="1.35" height="1.35"/><rect x="407.07" y="97.05" width="1.35" height="1.35"/><rect x="409.74" y="98.33" width="1.35" height="1.35"/><rect x="401.30" y="100.68" width="1.35" height="1.35"/><rect x="405.41" y="101.39" width="1.35" height="1.35"/><rect x="402.16" y="89.11" width="1.35" height="1.35"/><rect x="409.54" y="97.79" width="1.35" height="1.35"/><rect x="411.63" y="101.94" width="1.35" height="1.35"/><rect x="407.40" y="90.14" width="1.35" height="1.35"/><rect x="409.85" y="104.40" width="1.35" height="1.35"/><rect x="388.04" y="85.62" width="1.35" height="1.35"/><rect x="396.65" y="92.29" width="1.35" height="1.35"/><rect x="417.07" y="105.92" width="1.35" height="1.35"/><rect x="416.35" y="113.71" width="1.35" height="1.35"/><rect x="406.66" y="97.80" width="1.35" height="1.35"/><rect x="404.33" y="94.15" width="1.35" height="1.35"/><rect x="388.19" y="95.87" width="1.35" height="1.35"/><rect x="409.06" y="96.28" width="1.35" height="1.35"/><rect x="413.00" y="98.59" width="1.35" height="1.35"/><rect x="394.02" y="82.01" width="1.35" height="1.35"/><rect x="406.92" y="103.80" width="1.35" height="1.35"/><rect x="408.31" y="100.14" width="1.35" height="1.35"/><rect x="407.34" y="100.66" width="1.35" height="1.35"/><rect x="393.45" y="90.34" width="1.35" height="1.35"/><rect x="409.81" y="98.80" width="1.35" height="1.35"/><rect x="392.36" y="84.35" width="1.35" height="1.35"/><rect x="420.27" y="101.68" width="1.35" height="1.35"/><rect x="404.58" y="98.73" width="1.35" height="1.35"/><rect x="393.21" y="89.96" width="1.35" height="1.35"/><rect x="412.89" y="110.59" width="1.35" height="1.35"/><rect x="417.09" y="99.83" width="1.35" height="1.35"/><rect x="399.54" y="90.47" width="1.35" height="1.35"/><rect x="427.56" y="104.86" width="1.35" height="1.35"/><rect x="391.56" y="95.95" width="1.35" height="1.35"/><rect x="410.41" y="93.05" width="1.35" height="1.35"/><rect x="413.52" y="106.18" width="1.35" height="1.35"/><rect x="379.57" y="88.85" width="1.35" height="1.35"/><rect x="414.11" y="101.45" width="1.35" height="1.35"/><rect x="401.98" y="98.76" width="1.35" height="1.35"/><rect x="409.57" y="87.54" width="1.35" height="1.35"/><rect x="395.29" y="88.41" width="1.35" height="1.35"/><rect x="411.64" y="91.44" width="1.35" height="1.35"/><rect x="393.59" y="90.47" width="1.35" height="1.35"/><rect x="395.32" y="90.64" width="1.35" height="1.35"/><rect x="402.13" y="90.52" width="1.35" height="1.35"/><rect x="390.56" y="92.91" width="1.35" height="1.35"/><rect x="418.21" y="106.77" width="1.35" height="1.35"/><rect x="393.28" y="86.40" width="1.35" height="1.35"/><rect x="398.62" y="89.77" width="1.35" height="1.35"/><rect x="405.11" y="88.45" width="1.35" height="1.35"/><rect x="404.89" y="95.49" width="1.35" height="1.35"/><rect x="406.50" y="109.36" width="1.35" height="1.35"/><rect x="413.82" y="98.09" width="1.35" height="1.35"/><rect x="400.51" y="96.16" width="1.35" height="1.35"/><rect x="402.17" y="91.78" width="1.35" height="1.35"/><rect x="402.71" y="99.66" width="1.35" height="1.35"/><rect x="410.98" y="102.76" width="1.35" height="1.35"/><rect x="411.49" y="99.32" width="1.35" height="1.35"/><rect x="404.02" y="86.04" width="1.35" height="1.35"/><rect x="386.42" y="82.21" width="1.35" height="1.35"/><rect x="421.42" y="113.48" width="1.35" height="1.35"/><rect x="413.89" y="100.75" width="1.35" height="1.35"/><rect x="405.28" y="100.28" width="1.35" height="1.35"/><rect x="408.77" y="96.26" width="1.35" height="1.35"/><rect x="404.18" y="85.67" width="1.35" height="1.35"/><rect x="393.96" y="92.14" width="1.35" height="1.35"/><rect x="400.48" y="95.59" width="1.35" height="1.35"/><rect x="403.75" y="92.60" width="1.35" height="1.35"/><rect x="399.47" y="91.11" width="1.35" height="1.35"/><rect x="390.04" y="88.95" width="1.35" height="1.35"/><rect x="402.95" y="92.02" width="1.35" height="1.35"/><rect x="408.91" y="100.96" width="1.35" height="1.35"/><rect x="400.27" y="92.54" width="1.35" height="1.35"/><rect x="410.49" y="86.85" width="1.35" height="1.35"/><rect x="385.39" y="83.64" width="1.35" height="1.35"/><rect x="403.94" y="92.62" width="1.35" height="1.35"/><rect x="405.34" y="92.15" width="1.35" height="1.35"/><rect x="391.92" y="90.74" width="1.35" height="1.35"/><rect x="389.44" y="84.23" width="1.35" height="1.35"/><rect x="406.89" y="100.79" width="1.35" height="1.35"/><rect x="394.08" y="95.95" width="1.35" height="1.35"/><rect x="408.59" y="99.64" width="1.35" height="1.35"/><rect x="404.33" y="87.55" width="1.35" height="1.35"/><rect x="412.04" y="96.89" width="1.35" height="1.35"/><rect x="398.93" y="97.95" width="1.35" height="1.35"/><rect x="390.94" y="86.46" width="1.35" height="1.35"/><rect x="405.59" y="92.48" width="1.35" height="1.35"/><rect x="401.54" y="93.97" width="1.35" height="1.35"/><rect x="409.27" y="102.07" width="1.35" height="1.35"/><rect x="399.52" y="94.67" width="1.35" height="1.35"/><rect x="399.09" y="96.56" width="1.35" height="1.35"/><rect x="414.48" y="97.90" width="1.35" height="1.35"/><rect x="415.97" y="101.89" width="1.35" height="1.35"/><rect x="412.11" y="99.62" width="1.35" height="1.35"/><rect x="414.14" y="102.17" width="1.35" height="1.35"/><rect x="413.86" y="90.42" width="1.35" height="1.35"/><rect x="412.17" y="99.75" width="1.35" height="1.35"/><rect x="415.94" y="95.92" width="1.35" height="1.35"/><rect x="404.68" y="104.19" width="1.35" height="1.35"/><rect x="401.07" y="102.88" width="1.35" height="1.35"/><rect x="401.50" y="103.84" width="1.35" height="1.35"/><rect x="424.83" y="113.45" width="1.35" height="1.35"/><rect x="405.72" y="94.36" width="1.35" height="1.35"/><rect x="399.76" y="98.74" width="1.35" height="1.35"/><rect x="401.47" y="93.32" width="1.35" height="1.35"/><rect x="402.53" y="98.52" width="1.35" height="1.35"/><rect x="408.91" y="94.02" width="1.35" height="1.35"/><rect x="395.27" y="87.32" width="1.35" height="1.35"/><rect x="384.69" y="86.64" width="1.35" height="1.35"/><rect x="402.70" y="105.11" width="1.35" height="1.35"/><rect x="389.42" y="86.84" width="1.35" height="1.35"/><rect x="401.15" y="106.84" width="1.35" height="1.35"/><rect x="398.79" y="108.18" width="1.35" height="1.35"/><rect x="418.35" y="97.76" width="1.35" height="1.35"/><rect x="420.05" y="105.82" width="1.35" height="1.35"/><rect x="410.19" y="94.55" width="1.35" height="1.35"/><rect x="399.54" y="92.48" width="1.35" height="1.35"/><rect x="394.72" y="87.29" width="1.35" height="1.35"/><rect x="397.13" y="91.40" width="1.35" height="1.35"/><rect x="402.33" y="100.38" width="1.35" height="1.35"/><rect x="382.67" y="88.05" width="1.35" height="1.35"/><rect x="404.42" y="97.74" width="1.35" height="1.35"/><rect x="404.25" y="96.20" width="1.35" height="1.35"/><rect x="410.09" y="100.47" width="1.35" height="1.35"/><rect x="400.92" y="94.83" width="1.35" height="1.35"/><rect x="403.88" y="99.17" width="1.35" height="1.35"/><rect x="397.47" y="92.01" width="1.35" height="1.35"/><rect x="398.77" y="95.60" width="1.35" height="1.35"/><rect x="391.06" y="80.70" width="1.35" height="1.35"/><rect x="403.54" y="100.18" width="1.35" height="1.35"/><rect x="414.47" y="112.29" width="1.35" height="1.35"/><rect x="405.42" y="97.95" width="1.35" height="1.35"/><rect x="411.32" y="92.68" width="1.35" height="1.35"/><rect x="391.81" y="96.02" width="1.35" height="1.35"/><rect x="418.57" y="103.23" width="1.35" height="1.35"/><rect x="404.67" y="79.76" width="1.35" height="1.35"/><rect x="412.40" y="100.03" width="1.35" height="1.35"/><rect x="403.85" y="99.33" width="1.35" height="1.35"/><rect x="394.43" y="92.26" width="1.35" height="1.35"/><rect x="410.86" y="107.23" width="1.35" height="1.35"/><rect x="402.95" y="98.86" width="1.35" height="1.35"/><rect x="405.72" y="97.81" width="1.35" height="1.35"/><rect x="413.53" y="90.92" width="1.35" height="1.35"/><rect x="406.95" y="91.65" width="1.35" height="1.35"/><rect x="400.37" y="94.80" width="1.35" height="1.35"/><rect x="407.02" y="101.71" width="1.35" height="1.35"/><rect x="403.14" y="89.78" width="1.35" height="1.35"/><rect x="406.50" y="94.18" width="1.35" height="1.35"/><rect x="396.94" y="94.30" width="1.35" height="1.35"/><rect x="395.21" y="79.93" width="1.35" height="1.35"/><rect x="402.94" y="84.51" width="1.35" height="1.35"/><rect x="400.30" y="92.47" width="1.35" height="1.35"/><rect x="403.87" y="97.38" width="1.35" height="1.35"/><rect x="416.63" y="101.20" width="1.35" height="1.35"/><rect x="394.30" y="77.22" width="1.35" height="1.35"/><rect x="405.50" y="97.11" width="1.35" height="1.35"/><rect x="387.00" y="78.09" width="1.35" height="1.35"/><rect x="392.94" y="92.85" width="1.35" height="1.35"/><rect x="399.87" y="92.93" width="1.35" height="1.35"/><rect x="382.63" y="84.28" width="1.35" height="1.35"/><rect x="385.38" y="88.10" width="1.35" height="1.35"/><rect x="407.11" y="95.04" width="1.35" height="1.35"/><rect x="403.01" y="100.06" width="1.35" height="1.35"/><rect x="400.18" y="100.63" width="1.35" height="1.35"/><rect x="395.85" y="93.22" width="1.35" height="1.35"/><rect x="421.17" y="114.13" width="1.35" height="1.35"/><rect x="404.42" y="92.81" width="1.35" height="1.35"/><rect x="394.00" y="94.98" width="1.35" height="1.35"/><rect x="419.37" y="107.09" width="1.35" height="1.35"/><rect x="412.57" y="95.85" width="1.35" height="1.35"/><rect x="401.08" y="93.81" width="1.35" height="1.35"/><rect x="416.83" y="101.05" width="1.35" height="1.35"/><rect x="407.20" y="94.95" width="1.35" height="1.35"/><rect x="410.15" y="100.35" width="1.35" height="1.35"/><rect x="403.89" y="101.93" width="1.35" height="1.35"/><rect x="395.53" y="89.03" width="1.35" height="1.35"/><rect x="413.12" y="102.41" width="1.35" height="1.35"/><rect x="409.53" y="91.28" width="1.35" height="1.35"/><rect x="394.65" y="90.86" width="1.35" height="1.35"/><rect x="394.33" y="96.52" width="1.35" height="1.35"/><rect x="411.26" y="105.09" width="1.35" height="1.35"/><rect x="399.71" y="96.05" width="1.35" height="1.35"/><rect x="406.11" y="94.42" width="1.35" height="1.35"/><rect x="412.91" y="96.14" width="1.35" height="1.35"/><rect x="405.79" y="96.64" width="1.35" height="1.35"/><rect x="393.43" y="82.03" width="1.35" height="1.35"/><rect x="413.40" y="94.99" width="1.35" height="1.35"/><rect x="410.77" y="105.52" width="1.35" height="1.35"/><rect x="414.75" y="97.60" width="1.35" height="1.35"/><rect x="414.97" y="112.90" width="1.35" height="1.35"/><rect x="411.34" y="92.62" width="1.35" height="1.35"/><rect x="410.54" y="102.52" width="1.35" height="1.35"/><rect x="422.15" y="100.76" width="1.35" height="1.35"/><rect x="401.20" y="95.30" width="1.35" height="1.35"/><rect x="423.19" y="102.14" width="1.35" height="1.35"/><rect x="420.47" y="106.50" width="1.35" height="1.35"/><rect x="412.07" y="100.19" width="1.35" height="1.35"/><rect x="422.68" y="105.12" width="1.35" height="1.35"/><rect x="411.04" y="103.28" width="1.35" height="1.35"/><rect x="392.34" y="97.27" width="1.35" height="1.35"/><rect x="416.47" y="100.48" width="1.35" height="1.35"/><rect x="405.19" y="101.74" width="1.35" height="1.35"/><rect x="408.01" y="99.02" width="1.35" height="1.35"/><rect x="405.87" y="97.05" width="1.35" height="1.35"/><rect x="411.57" y="113.02" width="1.35" height="1.35"/><rect x="414.96" y="90.71" width="1.35" height="1.35"/><rect x="399.55" y="89.49" width="1.35" height="1.35"/><rect x="413.43" y="91.78" width="1.35" height="1.35"/><rect x="411.96" y="99.24" width="1.35" height="1.35"/><rect x="398.14" y="91.15" width="1.35" height="1.35"/><rect x="390.75" y="109.16" width="1.35" height="1.35"/><rect x="399.91" y="95.46" width="1.35" height="1.35"/><rect x="394.18" y="100.01" width="1.35" height="1.35"/><rect x="404.36" y="103.55" width="1.35" height="1.35"/><rect x="414.97" y="100.40" width="1.35" height="1.35"/><rect x="420.85" y="109.18" width="1.35" height="1.35"/><rect x="411.34" y="109.95" width="1.35" height="1.35"/><rect x="413.48" y="102.90" width="1.35" height="1.35"/><rect x="414.52" y="103.75" width="1.35" height="1.35"/><rect x="415.58" y="106.05" width="1.35" height="1.35"/><rect x="404.60" y="88.01" width="1.35" height="1.35"/><rect x="412.87" y="97.01" width="1.35" height="1.35"/><rect x="406.52" y="99.51" width="1.35" height="1.35"/><rect x="401.78" y="97.73" width="1.35" height="1.35"/><rect x="402.40" y="89.93" width="1.35" height="1.35"/><rect x="400.44" y="92.04" width="1.35" height="1.35"/><rect x="402.16" y="94.23" width="1.35" height="1.35"/><rect x="393.19" y="88.51" width="1.35" height="1.35"/><rect x="407.50" y="102.10" width="1.35" height="1.35"/><rect x="403.89" y="96.58" width="1.35" height="1.35"/><rect x="404.93" y="97.56" width="1.35" height="1.35"/><rect x="411.07" y="92.52" width="1.35" height="1.35"/><rect x="413.78" y="96.22" width="1.35" height="1.35"/><rect x="398.02" y="94.14" width="1.35" height="1.35"/><rect x="407.36" y="89.21" width="1.35" height="1.35"/><rect x="388.65" y="88.04" width="1.35" height="1.35"/><rect x="385.26" y="80.73" width="1.35" height="1.35"/><rect x="388.26" y="81.74" width="1.35" height="1.35"/><rect x="417.10" y="107.79" width="1.35" height="1.35"/><rect x="388.98" y="82.94" width="1.35" height="1.35"/><rect x="410.93" y="95.53" width="1.35" height="1.35"/><rect x="419.87" y="102.09" width="1.35" height="1.35"/><rect x="399.94" y="93.84" width="1.35" height="1.35"/><rect x="412.71" y="116.82" width="1.35" height="1.35"/><rect x="426.95" y="98.39" width="1.35" height="1.35"/><rect x="413.25" y="101.66" width="1.35" height="1.35"/><rect x="427.16" y="109.03" width="1.35" height="1.35"/><rect x="407.80" y="103.72" width="1.35" height="1.35"/><rect x="398.49" y="90.53" width="1.35" height="1.35"/><rect x="415.47" y="89.28" width="1.35" height="1.35"/><rect x="396.92" y="99.06" width="1.35" height="1.35"/><rect x="394.96" y="84.30" width="1.35" height="1.35"/><rect x="392.63" y="88.63" width="1.35" height="1.35"/><rect x="429.46" y="104.13" width="1.35" height="1.35"/><rect x="402.11" y="88.70" width="1.35" height="1.35"/><rect x="405.45" y="94.12" width="1.35" height="1.35"/><rect x="396.08" y="95.90" width="1.35" height="1.35"/><rect x="403.62" y="100.49" width="1.35" height="1.35"/><rect x="403.73" y="92.48" width="1.35" height="1.35"/><rect x="399.37" y="95.94" width="1.35" height="1.35"/><rect x="394.08" y="87.76" width="1.35" height="1.35"/><rect x="390.99" y="88.55" width="1.35" height="1.35"/><rect x="397.14" y="92.61" width="1.35" height="1.35"/><rect x="405.67" y="100.50" width="1.35" height="1.35"/><rect x="425.46" y="105.84" width="1.35" height="1.35"/><rect x="414.69" y="101.87" width="1.35" height="1.35"/><rect x="421.01" y="107.75" width="1.35" height="1.35"/><rect x="408.83" y="99.48" width="1.35" height="1.35"/><rect x="405.72" y="92.57" width="1.35" height="1.35"/><rect x="387.82" y="95.61" width="1.35" height="1.35"/><rect x="405.72" y="94.45" width="1.35" height="1.35"/><rect x="382.59" y="86.95" width="1.35" height="1.35"/><rect x="401.23" y="95.40" width="1.35" height="1.35"/><rect x="416.71" y="110.70" width="1.35" height="1.35"/><rect x="413.12" y="89.37" width="1.35" height="1.35"/><rect x="409.96" y="111.17" width="1.35" height="1.35"/><rect x="401.54" y="93.24" width="1.35" height="1.35"/><rect x="394.81" y="83.35" width="1.35" height="1.35"/><rect x="399.78" y="94.07" width="1.35" height="1.35"/><rect x="395.21" y="103.18" width="1.35" height="1.35"/><rect x="414.59" y="105.37" width="1.35" height="1.35"/><rect x="426.16" y="102.79" width="1.35" height="1.35"/><rect x="398.84" y="90.17" width="1.35" height="1.35"/><rect x="397.89" y="99.67" width="1.35" height="1.35"/><rect x="406.78" y="89.80" width="1.35" height="1.35"/><rect x="401.81" y="93.59" width="1.35" height="1.35"/><rect x="393.73" y="87.94" width="1.35" height="1.35"/><rect x="400.05" y="105.67" width="1.35" height="1.35"/><rect x="408.74" y="97.26" width="1.35" height="1.35"/><rect x="404.94" y="103.91" width="1.35" height="1.35"/><rect x="395.06" y="86.61" width="1.35" height="1.35"/><rect x="405.59" y="92.43" width="1.35" height="1.35"/><rect x="385.85" y="90.34" width="1.35" height="1.35"/><rect x="411.62" y="104.17" width="1.35" height="1.35"/><rect x="399.46" y="83.44" width="1.35" height="1.35"/><rect x="400.48" y="97.36" width="1.35" height="1.35"/><rect x="398.84" y="96.36" width="1.35" height="1.35"/><rect x="400.75" y="90.49" width="1.35" height="1.35"/><rect x="394.21" y="91.11" width="1.35" height="1.35"/><rect x="387.46" y="87.21" width="1.35" height="1.35"/><rect x="422.09" y="104.44" width="1.35" height="1.35"/><rect x="408.53" y="95.48" width="1.35" height="1.35"/><rect x="408.84" y="95.18" width="1.35" height="1.35"/><rect x="424.98" y="107.43" width="1.35" height="1.35"/><rect x="407.08" y="90.40" width="1.35" height="1.35"/><rect x="409.96" y="99.40" width="1.35" height="1.35"/><rect x="408.64" y="90.43" width="1.35" height="1.35"/><rect x="415.60" y="103.55" width="1.35" height="1.35"/><rect x="409.60" y="98.94" width="1.35" height="1.35"/><rect x="410.24" y="94.00" width="1.35" height="1.35"/><rect x="400.17" y="98.35" width="1.35" height="1.35"/><rect x="402.45" y="105.84" width="1.35" height="1.35"/><rect x="412.25" y="108.49" width="1.35" height="1.35"/><rect x="388.72" y="78.80" width="1.35" height="1.35"/><rect x="400.30" y="100.78" width="1.35" height="1.35"/><rect x="400.25" y="94.84" width="1.35" height="1.35"/><rect x="402.03" y="94.42" width="1.35" height="1.35"/><rect x="387.73" y="82.51" width="1.35" height="1.35"/><rect x="411.56" y="100.59" width="1.35" height="1.35"/><rect x="393.32" y="97.10" width="1.35" height="1.35"/><rect x="401.22" y="97.27" width="1.35" height="1.35"/><rect x="401.04" y="91.78" width="1.35" height="1.35"/><rect x="390.78" y="83.98" width="1.35" height="1.35"/><rect x="401.59" y="92.10" width="1.35" height="1.35"/><rect x="386.02" y="88.08" width="1.35" height="1.35"/><rect x="391.22" y="98.47" width="1.35" height="1.35"/><rect x="404.43" y="90.27" width="1.35" height="1.35"/><rect x="404.68" y="96.34" width="1.35" height="1.35"/><rect x="406.20" y="95.14" width="1.35" height="1.35"/><rect x="405.32" y="92.53" width="1.35" height="1.35"/><rect x="423.71" y="110.38" width="1.35" height="1.35"/><rect x="407.41" y="101.13" width="1.35" height="1.35"/><rect x="396.86" y="83.56" width="1.35" height="1.35"/><rect x="401.60" y="88.64" width="1.35" height="1.35"/><rect x="395.58" y="97.40" width="1.35" height="1.35"/><rect x="402.27" y="96.63" width="1.35" height="1.35"/><rect x="397.77" y="94.99" width="1.35" height="1.35"/><rect x="397.98" y="89.39" width="1.35" height="1.35"/><rect x="421.09" y="104.40" width="1.35" height="1.35"/><rect x="403.98" y="98.49" width="1.35" height="1.35"/><rect x="402.82" y="92.41" width="1.35" height="1.35"/><rect x="405.15" y="90.43" width="1.35" height="1.35"/><rect x="402.70" y="95.12" width="1.35" height="1.35"/><rect x="415.48" y="108.11" width="1.35" height="1.35"/><rect x="411.78" y="94.99" width="1.35" height="1.35"/><rect x="412.58" y="107.16" width="1.35" height="1.35"/><rect x="373.82" y="81.14" width="1.35" height="1.35"/><rect x="409.94" y="94.78" width="1.35" height="1.35"/><rect x="414.62" y="102.55" width="1.35" height="1.35"/><rect x="423.29" y="107.65" width="1.35" height="1.35"/><rect x="403.42" y="99.12" width="1.35" height="1.35"/><rect x="387.01" y="89.13" width="1.35" height="1.35"/><rect x="413.51" y="94.54" width="1.35" height="1.35"/><rect x="402.51" y="87.47" width="1.35" height="1.35"/><rect x="385.41" y="90.16" width="1.35" height="1.35"/><rect x="398.67" y="93.26" width="1.35" height="1.35"/><rect x="413.57" y="104.20" width="1.35" height="1.35"/><rect x="415.14" y="104.71" width="1.35" height="1.35"/><rect x="406.33" y="90.88" width="1.35" height="1.35"/><rect x="377.20" y="98.26" width="1.35" height="1.35"/><rect x="398.14" y="109.53" width="1.35" height="1.35"/><rect x="381.82" y="94.76" width="1.35" height="1.35"/><rect x="395.81" y="102.87" width="1.35" height="1.35"/><rect x="403.72" y="94.28" width="1.35" height="1.35"/><rect x="374.64" y="102.20" width="1.35" height="1.35"/><rect x="394.22" y="94.42" width="1.35" height="1.35"/><rect x="387.78" y="92.31" width="1.35" height="1.35"/><rect x="386.57" y="97.68" width="1.35" height="1.35"/><rect x="386.71" y="113.84" width="1.35" height="1.35"/><rect x="379.53" y="94.51" width="1.35" height="1.35"/><rect x="381.14" y="90.92" width="1.35" height="1.35"/><rect x="394.87" y="104.02" width="1.35" height="1.35"/><rect x="396.96" y="103.04" width="1.35" height="1.35"/><rect x="381.61" y="108.54" width="1.35" height="1.35"/><rect x="376.38" y="89.94" width="1.35" height="1.35"/><rect x="413.33" y="95.37" width="1.35" height="1.35"/><rect x="400.05" y="100.39" width="1.35" height="1.35"/><rect x="392.08" y="102.96" width="1.35" height="1.35"/><rect x="378.63" y="100.14" width="1.35" height="1.35"/><rect x="382.13" y="105.21" width="1.35" height="1.35"/><rect x="393.10" y="91.93" width="1.35" height="1.35"/><rect x="380.67" y="93.46" width="1.35" height="1.35"/><rect x="404.71" y="102.43" width="1.35" height="1.35"/><rect x="389.38" y="105.19" width="1.35" height="1.35"/><rect x="392.28" y="103.59" width="1.35" height="1.35"/><rect x="379.54" y="95.65" width="1.35" height="1.35"/><rect x="381.42" y="92.43" width="1.35" height="1.35"/><rect x="380.37" y="103.64" width="1.35" height="1.35"/><rect x="390.61" y="106.09" width="1.35" height="1.35"/><rect x="383.33" y="115.22" width="1.35" height="1.35"/><rect x="386.43" y="98.50" width="1.35" height="1.35"/><rect x="390.20" y="110.06" width="1.35" height="1.35"/><rect x="392.60" y="93.54" width="1.35" height="1.35"/><rect x="404.00" y="99.82" width="1.35" height="1.35"/><rect x="387.90" y="95.80" width="1.35" height="1.35"/><rect x="379.77" y="95.45" width="1.35" height="1.35"/><rect x="389.92" y="95.01" width="1.35" height="1.35"/><rect x="403.80" y="99.78" width="1.35" height="1.35"/><rect x="383.74" y="98.70" width="1.35" height="1.35"/><rect x="390.02" y="97.58" width="1.35" height="1.35"/><rect x="384.81" y="103.20" width="1.35" height="1.35"/><rect x="393.04" y="100.38" width="1.35" height="1.35"/><rect x="391.51" y="100.57" width="1.35" height="1.35"/><rect x="379.50" y="107.01" width="1.35" height="1.35"/><rect x="386.46" y="101.46" width="1.35" height="1.35"/><rect x="397.94" y="102.79" width="1.35" height="1.35"/><rect x="399.62" y="102.09" width="1.35" height="1.35"/><rect x="397.86" y="102.23" width="1.35" height="1.35"/><rect x="396.70" y="105.06" width="1.35" height="1.35"/><rect x="386.74" y="94.82" width="1.35" height="1.35"/><rect x="384.20" y="105.98" width="1.35" height="1.35"/><rect x="396.19" y="110.94" width="1.35" height="1.35"/><rect x="376.39" y="104.48" width="1.35" height="1.35"/><rect x="389.04" y="97.14" width="1.35" height="1.35"/><rect x="372.96" y="87.32" width="1.35" height="1.35"/><rect x="385.88" y="96.84" width="1.35" height="1.35"/><rect x="382.05" y="99.61" width="1.35" height="1.35"/><rect x="376.46" y="102.54" width="1.35" height="1.35"/><rect x="394.83" y="100.15" width="1.35" height="1.35"/><rect x="382.29" y="96.92" width="1.35" height="1.35"/><rect x="383.74" y="108.15" width="1.35" height="1.35"/><rect x="387.32" y="95.73" width="1.35" height="1.35"/><rect x="380.71" y="104.81" width="1.35" height="1.35"/><rect x="401.70" y="108.05" width="1.35" height="1.35"/><rect x="385.81" y="91.47" width="1.35" height="1.35"/><rect x="390.61" y="102.07" width="1.35" height="1.35"/><rect x="377.10" y="94.36" width="1.35" height="1.35"/><rect x="385.57" y="93.71" width="1.35" height="1.35"/><rect x="388.05" y="88.80" width="1.35" height="1.35"/><rect x="387.89" y="90.47" width="1.35" height="1.35"/><rect x="382.93" y="101.35" width="1.35" height="1.35"/><rect x="390.87" y="98.13" width="1.35" height="1.35"/><rect x="403.74" y="104.67" width="1.35" height="1.35"/><rect x="388.99" y="93.71" width="1.35" height="1.35"/><rect x="388.07" y="97.97" width="1.35" height="1.35"/><rect x="385.60" y="97.77" width="1.35" height="1.35"/><rect x="415.25" y="96.07" width="1.35" height="1.35"/><rect x="406.50" y="93.62" width="1.35" height="1.35"/><rect x="393.90" y="103.70" width="1.35" height="1.35"/><rect x="395.66" y="102.30" width="1.35" height="1.35"/><rect x="383.28" y="93.35" width="1.35" height="1.35"/><rect x="387.69" y="99.21" width="1.35" height="1.35"/><rect x="390.31" y="104.32" width="1.35" height="1.35"/><rect x="388.09" y="110.88" width="1.35" height="1.35"/><rect x="381.83" y="93.33" width="1.35" height="1.35"/><rect x="380.83" y="102.15" width="1.35" height="1.35"/><rect x="391.57" y="113.29" width="1.35" height="1.35"/><rect x="391.98" y="101.07" width="1.35" height="1.35"/><rect x="447.03" y="112.44" width="1.35" height="1.35"/><rect x="400.56" y="101.53" width="1.35" height="1.35"/><rect x="446.29" y="114.18" width="1.35" height="1.35"/><rect x="427.28" y="117.84" width="1.35" height="1.35"/><rect x="408.01" y="105.71" width="1.35" height="1.35"/><rect x="440.65" y="105.58" width="1.35" height="1.35"/><rect x="440.47" y="117.24" width="1.35" height="1.35"/><rect x="445.55" y="106.81" width="1.35" height="1.35"/><rect x="443.43" y="113.52" width="1.35" height="1.35"/><rect x="431.47" y="103.06" width="1.35" height="1.35"/><rect x="422.79" y="102.61" width="1.35" height="1.35"/><rect x="422.98" y="113.72" width="1.35" height="1.35"/><rect x="430.44" y="106.30" width="1.35" height="1.35"/><rect x="435.53" y="107.38" width="1.35" height="1.35"/><rect x="425.42" y="104.77" width="1.35" height="1.35"/><rect x="431.03" y="107.74" width="1.35" height="1.35"/><rect x="437.88" y="118.84" width="1.35" height="1.35"/><rect x="435.38" y="104.57" width="1.35" height="1.35"/><rect x="457.65" y="110.95" width="1.35" height="1.35"/><rect x="453.53" y="119.08" width="1.35" height="1.35"/><rect x="419.37" y="97.62" width="1.35" height="1.35"/><rect x="424.16" y="105.39" width="1.35" height="1.35"/><rect x="413.68" y="109.97" width="1.35" height="1.35"/><rect x="416.91" y="105.11" width="1.35" height="1.35"/><rect x="436.88" y="108.62" width="1.35" height="1.35"/><rect x="419.86" y="102.32" width="1.35" height="1.35"/><rect x="419.54" y="101.16" width="1.35" height="1.35"/><rect x="427.84" y="105.32" width="1.35" height="1.35"/><rect x="438.88" y="112.38" width="1.35" height="1.35"/><rect x="424.28" y="113.71" width="1.35" height="1.35"/><rect x="424.65" y="112.39" width="1.35" height="1.35"/><rect x="441.21" y="109.46" width="1.35" height="1.35"/><rect x="436.41" y="107.16" width="1.35" height="1.35"/><rect x="434.21" y="113.85" width="1.35" height="1.35"/><rect x="443.33" y="103.63" width="1.35" height="1.35"/><rect x="419.25" y="103.51" width="1.35" height="1.35"/><rect x="432.95" y="108.20" width="1.35" height="1.35"/><rect x="424.48" y="101.60" width="1.35" height="1.35"/><rect x="443.06" y="107.77" width="1.35" height="1.35"/><rect x="438.77" y="113.41" width="1.35" height="1.35"/><rect x="420.62" y="97.63" width="1.35" height="1.35"/><rect x="446.46" y="109.20" width="1.35" height="1.35"/><rect x="417.79" y="101.96" width="1.35" height="1.35"/><rect x="443.16" y="113.33" width="1.35" height="1.35"/><rect x="434.32" y="103.19" width="1.35" height="1.35"/><rect x="418.68" y="111.16" width="1.35" height="1.35"/><rect x="417.87" y="103.72" width="1.35" height="1.35"/><rect x="427.00" y="106.70" width="1.35" height="1.35"/><rect x="430.31" y="107.16" width="1.35" height="1.35"/><rect x="423.00" y="103.36" width="1.35" height="1.35"/><rect x="437.82" y="106.22" width="1.35" height="1.35"/><rect x="412.61" y="109.63" width="1.35" height="1.35"/><rect x="429.70" y="109.88" width="1.35" height="1.35"/><rect x="430.24" y="108.42" width="1.35" height="1.35"/><rect x="407.51" y="107.29" width="1.35" height="1.35"/><rect x="434.58" y="106.62" width="1.35" height="1.35"/><rect x="414.90" y="107.62" width="1.35" height="1.35"/><rect x="401.80" y="100.56" width="1.35" height="1.35"/><rect x="424.40" y="102.63" width="1.35" height="1.35"/><rect x="426.41" y="111.73" width="1.35" height="1.35"/><rect x="442.42" y="104.92" width="1.35" height="1.35"/><rect x="423.65" y="110.33" width="1.35" height="1.35"/><rect x="448.00" y="109.73" width="1.35" height="1.35"/><rect x="445.78" y="115.71" width="1.35" height="1.35"/><rect x="440.49" y="119.13" width="1.35" height="1.35"/><rect x="444.25" y="116.07" width="1.35" height="1.35"/><rect x="434.90" y="107.24" width="1.35" height="1.35"/><rect x="423.82" y="106.86" width="1.35" height="1.35"/><rect x="437.94" y="109.35" width="1.35" height="1.35"/><rect x="442.70" y="106.63" width="1.35" height="1.35"/><rect x="434.36" y="104.46" width="1.35" height="1.35"/><rect x="427.25" y="108.24" width="1.35" height="1.35"/><rect x="411.57" y="106.07" width="1.35" height="1.35"/><rect x="440.24" y="102.84" width="1.35" height="1.35"/><rect x="434.17" y="109.71" width="1.35" height="1.35"/><rect x="414.63" y="106.82" width="1.35" height="1.35"/><rect x="431.06" y="109.70" width="1.35" height="1.35"/><rect x="439.70" y="106.57" width="1.35" height="1.35"/><rect x="427.39" y="113.35" width="1.35" height="1.35"/><rect x="440.69" y="105.77" width="1.35" height="1.35"/><rect x="437.73" y="114.45" width="1.35" height="1.35"/><rect x="411.10" y="111.35" width="1.35" height="1.35"/><rect x="429.57" y="98.19" width="1.35" height="1.35"/><rect x="435.23" y="111.68" width="1.35" height="1.35"/><rect x="440.05" y="113.41" width="1.35" height="1.35"/><rect x="445.76" y="114.68" width="1.35" height="1.35"/><rect x="409.44" y="98.67" width="1.35" height="1.35"/><rect x="429.79" y="107.11" width="1.35" height="1.35"/><rect x="440.19" y="104.66" width="1.35" height="1.35"/><rect x="443.80" y="113.59" width="1.35" height="1.35"/><rect x="448.48" y="117.07" width="1.35" height="1.35"/><rect x="420.44" y="102.48" width="1.35" height="1.35"/><rect x="427.18" y="103.17" width="1.35" height="1.35"/><rect x="418.82" y="102.98" width="1.35" height="1.35"/><rect x="439.40" y="111.53" width="1.35" height="1.35"/><rect x="415.00" y="104.57" width="1.35" height="1.35"/><rect x="443.69" y="112.33" width="1.35" height="1.35"/><rect x="440.64" y="112.29" width="1.35" height="1.35"/><rect x="437.49" y="104.27" width="1.35" height="1.35"/><rect x="409.32" y="88.55" width="1.35" height="1.35"/><rect x="421.55" y="109.37" width="1.35" height="1.35"/><rect x="436.60" y="118.01" width="1.35" height="1.35"/><rect x="416.02" y="97.29" width="1.35" height="1.35"/><rect x="428.33" y="104.82" width="1.35" height="1.35"/><rect x="428.50" y="109.82" width="1.35" height="1.35"/><rect x="438.87" y="116.28" width="1.35" height="1.35"/><rect x="432.40" y="112.78" width="1.35" height="1.35"/><rect x="431.42" y="115.71" width="1.35" height="1.35"/><rect x="425.19" y="107.01" width="1.35" height="1.35"/><rect x="429.59" y="110.73" width="1.35" height="1.35"/><rect x="428.00" y="110.24" width="1.35" height="1.35"/><rect x="438.98" y="109.21" width="1.35" height="1.35"/><rect x="426.38" y="113.79" width="1.35" height="1.35"/><rect x="440.96" y="115.21" width="1.35" height="1.35"/><rect x="409.45" y="107.57" width="1.35" height="1.35"/><rect x="444.29" y="111.01" width="1.35" height="1.35"/><rect x="426.72" y="113.01" width="1.35" height="1.35"/><rect x="444.40" y="107.65" width="1.35" height="1.35"/><rect x="430.50" y="110.88" width="1.35" height="1.35"/><rect x="443.49" y="99.39" width="1.35" height="1.35"/><rect x="448.49" y="109.10" width="1.35" height="1.35"/><rect x="422.78" y="110.32" width="1.35" height="1.35"/><rect x="431.65" y="106.90" width="1.35" height="1.35"/><rect x="427.93" y="108.98" width="1.35" height="1.35"/><rect x="434.75" y="101.84" width="1.35" height="1.35"/><rect x="409.53" y="110.49" width="1.35" height="1.35"/><rect x="427.32" y="110.95" width="1.35" height="1.35"/><rect x="427.31" y="107.77" width="1.35" height="1.35"/><rect x="420.59" y="108.01" width="1.35" height="1.35"/><rect x="427.43" y="109.61" width="1.35" height="1.35"/><rect x="410.59" y="110.12" width="1.35" height="1.35"/><rect x="445.67" y="114.51" width="1.35" height="1.35"/><rect x="437.24" y="103.36" width="1.35" height="1.35"/><rect x="451.85" y="113.96" width="1.35" height="1.35"/><rect x="418.37" y="111.78" width="1.35" height="1.35"/><rect x="416.04" y="107.43" width="1.35" height="1.35"/><rect x="433.89" y="107.73" width="1.35" height="1.35"/><rect x="410.29" y="105.91" width="1.35" height="1.35"/><rect x="432.49" y="110.05" width="1.35" height="1.35"/><rect x="421.25" y="109.19" width="1.35" height="1.35"/><rect x="467.51" y="102.07" width="1.35" height="1.35"/><rect x="421.24" y="79.82" width="1.35" height="1.35"/><rect x="365.59" y="88.25" width="1.35" height="1.35"/><rect x="418.37" y="105.66" width="1.35" height="1.35"/><rect x="361.35" y="90.93" width="1.35" height="1.35"/><rect x="467.04" y="87.73" width="1.35" height="1.35"/><rect x="432.59" y="85.16" width="1.35" height="1.35"/><rect x="401.06" y="99.87" width="1.35" height="1.35"/><rect x="447.23" y="93.88" width="1.35" height="1.35"/><rect x="446.67" y="99.90" width="1.35" height="1.35"/><rect x="436.38" y="95.94" width="1.35" height="1.35"/><rect x="385.20" y="119.83" width="1.35" height="1.35"/><rect x="369.57" y="93.03" width="1.35" height="1.35"/><rect x="453.50" y="75.21" width="1.35" height="1.35"/><rect x="457.05" y="99.51" width="1.35" height="1.35"/><rect x="397.33" y="98.17" width="1.35" height="1.35"/><rect x="401.84" y="99.98" width="1.35" height="1.35"/><rect x="403.67" y="79.35" width="1.35" height="1.35"/><rect x="389.77" y="111.40" width="1.35" height="1.35"/><rect x="462.54" y="97.78" width="1.35" height="1.35"/><rect x="417.80" y="97.65" width="1.35" height="1.35"/><rect x="437.36" y="79.62" width="1.35" height="1.35"/><rect x="425.90" y="103.69" width="1.35" height="1.35"/><rect x="369.18" y="97.38" width="1.35" height="1.35"/><rect x="367.27" y="113.96" width="1.35" height="1.35"/><rect x="375.56" y="93.29" width="1.35" height="1.35"/><rect x="413.98" y="83.70" width="1.35" height="1.35"/><rect x="428.39" y="99.65" width="1.35" height="1.35"/><rect x="468.86" y="87.47" width="1.35" height="1.35"/><rect x="458.40" y="103.01" width="1.35" height="1.35"/><rect x="440.62" y="85.49" width="1.35" height="1.35"/><rect x="401.50" y="96.64" width="1.35" height="1.35"/><rect x="397.24" y="95.50" width="1.35" height="1.35"/><rect x="436.02" y="97.75" width="1.35" height="1.35"/><rect x="397.35" y="92.14" width="1.35" height="1.35"/></g><g fill="#ff1a1a"><rect x="367.46" y="86.12" width="1.35" height="1.35"/><rect x="366.06" y="77.01" width="1.35" height="1.35"/><rect x="382.71" y="87.20" width="1.35" height="1.35"/><rect x="360.60" y="79.43" width="1.35" height="1.35"/><rect x="394.76" y="75.15" width="1.35" height="1.35"/><rect x="359.97" y="71.08" width="1.35" height="1.35"/><rect x="376.47" y="88.85" width="1.35" height="1.35"/><rect x="383.46" y="92.83" width="1.35" height="1.35"/><rect x="393.26" y="86.66" width="1.35" height="1.35"/><rect x="379.89" y="70.38" width="1.35" height="1.35"/><rect x="389.54" y="85.91" width="1.35" height="1.35"/><rect x="376.56" y="79.49" width="1.35" height="1.35"/><rect x="364.16" y="92.92" width="1.35" height="1.35"/><rect x="372.16" y="63.52" width="1.35" height="1.35"/><rect x="379.60" y="88.06" width="1.35" height="1.35"/><rect x="376.56" y="78.25" width="1.35" height="1.35"/><rect x="386.63" y="90.71" width="1.35" height="1.35"/><rect x="376.91" y="82.71" width="1.35" height="1.35"/><rect x="370.66" y="63.57" width="1.35" height="1.35"/><rect x="375.93" y="85.46" width="1.35" height="1.35"/><rect x="376.11" y="80.39" width="1.35" height="1.35"/><rect x="355.72" y="70.98" width="1.35" height="1.35"/><rect x="368.45" y="67.23" width="1.35" height="1.35"/><rect x="378.24" y="76.07" width="1.35" height="1.35"/></g><g fill="#2a2af0"><rect x="375.44" y="61.03" width="1.35" height="1.35"/><rect x="371.89" y="75.89" width="1.35" height="1.35"/><rect x="352.06" y="88.65" width="1.35" height="1.35"/><rect x="357.68" y="82.51" width="1.35" height="1.35"/><rect x="380.60" y="87.61" width="1.35" height="1.35"/><rect x="374.79" y="74.80" width="1.35" height="1.35"/><rect x="383.27" y="62.40" width="1.35" height="1.35"/><rect x="369.15" y="69.17" width="1.35" height="1.35"/><rect x="362.37" y="82.17" width="1.35" height="1.35"/><rect x="385.65" y="61.55" width="1.35" height="1.35"/><rect x="360.71" y="78.58" width="1.35" height="1.35"/><rect x="353.93" y="67.64" width="1.35" height="1.35"/><rect x="367.17" y="86.69" width="1.35" height="1.35"/><rect x="370.73" y="68.54" width="1.35" height="1.35"/><rect x="360.32" y="67.65" width="1.35" height="1.35"/><rect x="392.42" y="66.04" width="1.35" height="1.35"/><rect x="361.28" y="74.60" width="1.35" height="1.35"/><rect x="356.57" y="87.81" width="1.35" height="1.35"/><rect x="379.77" y="74.62" width="1.35" height="1.35"/><rect x="357.48" y="81.05" width="1.35" height="1.35"/><rect x="363.36" y="73.98" width="1.35" height="1.35"/><rect x="369.12" y="59.97" width="1.35" height="1.35"/><rect x="363.10" y="76.10" width="1.35" height="1.35"/><rect x="379.44" y="76.34" width="1.35" height="1.35"/><rect x="357.35" y="76.40" width="1.35" height="1.35"/><rect x="379.02" y="66.88" width="1.35" height="1.35"/></g><g fill="#2a2af0"><rect x="420.02" y="96.33" width="1.35" height="1.35"/><rect x="410.42" y="100.28" width="1.35" height="1.35"/><rect x="426.75" y="102.10" width="1.35" height="1.35"/><rect x="430.06" y="106.99" width="1.35" height="1.35"/><rect x="414.79" y="101.46" width="1.35" height="1.35"/><rect x="424.61" y="93.95" width="1.35" height="1.35"/><rect x="431.08" y="110.03" width="1.35" height="1.35"/><rect x="433.53" y="103.74" width="1.35" height="1.35"/><rect x="422.76" y="101.44" width="1.35" height="1.35"/><rect x="413.89" y="97.90" width="1.35" height="1.35"/><rect x="409.50" y="101.48" width="1.35" height="1.35"/><rect x="413.85" y="103.21" width="1.35" height="1.35"/><rect x="426.40" y="115.92" width="1.35" height="1.35"/><rect x="429.18" y="107.36" width="1.35" height="1.35"/><rect x="427.59" y="102.47" width="1.35" height="1.35"/><rect x="440.55" y="108.79" width="1.35" height="1.35"/><rect x="417.62" y="104.57" width="1.35" height="1.35"/><rect x="414.31" y="108.86" width="1.35" height="1.35"/><rect x="417.42" y="102.51" width="1.35" height="1.35"/><rect x="446.92" y="111.51" width="1.35" height="1.35"/><rect x="397.81" y="92.29" width="1.35" height="1.35"/><rect x="425.66" y="106.10" width="1.35" height="1.35"/><rect x="428.07" y="105.90" width="1.35" height="1.35"/><rect x="425.48" y="99.75" width="1.35" height="1.35"/><rect x="456.88" y="104.20" width="1.35" height="1.35"/><rect x="438.11" y="107.35" width="1.35" height="1.35"/><rect x="429.40" y="112.96" width="1.35" height="1.35"/><rect x="411.78" y="98.88" width="1.35" height="1.35"/><rect x="434.36" y="95.01" width="1.35" height="1.35"/><rect x="418.54" y="100.96" width="1.35" height="1.35"/><rect x="428.11" y="94.15" width="1.35" height="1.35"/><rect x="420.36" y="114.31" width="1.35" height="1.35"/><rect x="416.81" y="101.26" width="1.35" height="1.35"/><rect x="433.48" y="100.86" width="1.35" height="1.35"/><rect x="440.25" y="116.79" width="1.35" height="1.35"/><rect x="437.20" y="105.36" width="1.35" height="1.35"/><rect x="424.17" y="107.26" width="1.35" height="1.35"/><rect x="400.17" y="91.88" width="1.35" height="1.35"/><rect x="438.82" y="103.68" width="1.35" height="1.35"/><rect x="434.10" y="112.88" width="1.35" height="1.35"/><rect x="424.14" y="95.34" width="1.35" height="1.35"/><rect x="414.08" y="107.10" width="1.35" height="1.35"/><rect x="430.70" y="107.39" width="1.35" height="1.35"/><rect x="416.13" y="93.28" width="1.35" height="1.35"/><rect x="437.03" y="98.82" width="1.35" height="1.35"/><rect x="406.33" y="104.95" width="1.35" height="1.35"/><rect x="408.63" y="105.07" width="1.35" height="1.35"/><rect x="426.47" y="97.02" width="1.35" height="1.35"/><rect x="401.85" y="102.90" width="1.35" height="1.35"/><rect x="422.74" y="104.08" width="1.35" height="1.35"/><rect x="429.97" y="105.26" width="1.35" height="1.35"/><rect x="407.88" y="95.06" width="1.35" height="1.35"/><rect x="434.74" y="107.35" width="1.35" height="1.35"/><rect x="412.97" y="107.11" width="1.35" height="1.35"/><rect x="429.25" y="107.23" width="1.35" height="1.35"/><rect x="430.31" y="95.27" width="1.35" height="1.35"/><rect x="412.57" y="111.06" width="1.35" height="1.35"/><rect x="414.82" y="104.60" width="1.35" height="1.35"/><rect x="405.84" y="87.76" width="1.35" height="1.35"/><rect x="415.90" y="97.38" width="1.35" height="1.35"/><rect x="416.40" y="94.20" width="1.35" height="1.35"/><rect x="442.41" y="113.16" width="1.35" height="1.35"/><rect x="434.19" y="111.23" width="1.35" height="1.35"/><rect x="406.51" y="96.41" width="1.35" height="1.35"/><rect x="434.13" y="104.98" width="1.35" height="1.35"/><rect x="427.84" y="100.57" width="1.35" height="1.35"/><rect x="416.63" y="105.29" width="1.35" height="1.35"/><rect x="428.91" y="105.49" width="1.35" height="1.35"/><rect x="426.89" y="119.21" width="1.35" height="1.35"/><rect x="418.57" y="95.89" width="1.35" height="1.35"/><rect x="418.04" y="105.62" width="1.35" height="1.35"/><rect x="425.07" y="104.50" width="1.35" height="1.35"/><rect x="413.59" y="93.69" width="1.35" height="1.35"/><rect x="422.00" y="111.20" width="1.35" height="1.35"/><rect x="421.99" y="103.43" width="1.35" height="1.35"/><rect x="417.51" y="94.82" width="1.35" height="1.35"/><rect x="414.18" y="96.76" width="1.35" height="1.35"/><rect x="424.30" y="110.19" width="1.35" height="1.35"/><rect x="436.61" y="102.29" width="1.35" height="1.35"/><rect x="423.69" y="112.15" width="1.35" height="1.35"/><rect x="411.52" y="101.71" width="1.35" height="1.35"/><rect x="432.76" y="106.30" width="1.35" height="1.35"/><rect x="421.87" y="111.10" width="1.35" height="1.35"/><rect x="425.84" y="115.54" width="1.35" height="1.35"/><rect x="435.42" y="113.13" width="1.35" height="1.35"/><rect x="412.26" y="98.86" width="1.35" height="1.35"/><rect x="417.01" y="111.75" width="1.35" height="1.35"/><rect x="412.53" y="107.30" width="1.35" height="1.35"/><rect x="415.36" y="93.53" width="1.35" height="1.35"/><rect x="447.29" y="114.01" width="1.35" height="1.35"/><rect x="434.83" y="107.73" width="1.35" height="1.35"/><rect x="403.62" y="90.89" width="1.35" height="1.35"/><rect x="432.05" y="98.29" width="1.35" height="1.35"/><rect x="414.51" y="104.58" width="1.35" height="1.35"/><rect x="436.53" y="110.45" width="1.35" height="1.35"/><rect x="424.03" y="104.30" width="1.35" height="1.35"/><rect x="417.72" y="109.37" width="1.35" height="1.35"/><rect x="426.39" y="101.31" width="1.35" height="1.35"/><rect x="427.94" y="105.27" width="1.35" height="1.35"/><rect x="422.96" y="104.87" width="1.35" height="1.35"/><rect x="421.82" y="99.85" width="1.35" height="1.35"/><rect x="421.97" y="101.95" width="1.35" height="1.35"/><rect x="427.36" y="110.16" width="1.35" height="1.35"/><rect x="410.11" y="96.67" width="1.35" height="1.35"/><rect x="419.93" y="110.00" width="1.35" height="1.35"/><rect x="423.79" y="98.83" width="1.35" height="1.35"/><rect x="417.11" y="101.49" width="1.35" height="1.35"/><rect x="435.52" y="100.44" width="1.35" height="1.35"/><rect x="408.51" y="95.17" width="1.35" height="1.35"/><rect x="420.80" y="97.64" width="1.35" height="1.35"/></g><rect x="315.5" y="26.2" width="13.8" height="36.7" fill="none" stroke="#a8a8a8" stroke-width="0.8"/><text x="317.70" y="34.80" font-size="7.3" fill="#222" text-anchor="start" font-family='"Liberation Sans", sans-serif' font-weight="normal" >OL</text><text x="331.40" y="43.00" font-size="7.3" fill="#222" text-anchor="start" font-family='"Liberation Sans", sans-serif' font-weight="normal" >Ol&gt;Cpx</text><text x="351.60" y="50.50" font-size="7.55" fill="#222" text-anchor="start" font-family='"Liberation Sans", sans-serif' font-weight="normal" >Ol+Opx Mixing Line</text><ellipse cx="346" cy="64" rx="22" ry="12.5" transform="rotate(28 346 64)" fill="none" stroke="#a8a8a8" stroke-width="0.8"/><line x1="342.60" y1="46.50" x2="342.60" y2="59.90" stroke="#222" stroke-width="0.7" /><polygon points="342.60,62.90 341.40,59.90 343.80,59.90" fill="#222"/><line x1="384.40" y1="53.70" x2="339.52" y2="78.55" stroke="#444" stroke-width="0.7" /><polygon points="336.90,80.00 338.94,77.50 340.11,79.60" fill="#444"/><ellipse cx="333.5" cy="126" rx="9.5" ry="27.5" transform="rotate(-13.5 333.5 126)" fill="none" stroke="#a8a8a8" stroke-width="0.8"/><line x1="342.20" y1="154.90" x2="332.68" y2="127.34" stroke="#222" stroke-width="0.7" /><polygon points="331.70,124.50 333.81,126.94 331.55,127.73" fill="#222"/><line x1="348.50" y1="154.90" x2="360.52" y2="103.42" stroke="#222" stroke-width="0.7" /><polygon points="361.20,100.50 361.69,103.69 359.35,103.15" fill="#222"/><polyline points="336.00,130.00 334.30,97.00 345.30,78.40 350.50,100.00 355.80,110.00 363.70,127.40 377.10,134.50 392.10,140.00 400.00,142.40 400.80,156.50 362.00,157.40 354.70,152.80 349.50,140.20 342.20,127.70 335.90,95.20" stroke="#a8a8a8" stroke-width="0.8" fill="none" /><ellipse cx="360.5" cy="97.5" rx="8.5" ry="17" transform="rotate(10 360.5 97.5)" fill="none" stroke="#a8a8a8" stroke-width="0.8"/><ellipse cx="408" cy="130.5" rx="29" ry="12.5" transform="rotate(12 408 130.5)" fill="none" stroke="#a8a8a8" stroke-width="0.8"/><line x1="355.80" y1="156.60" x2="389.87" y2="125.91" stroke="#222" stroke-width="0.7" /><polygon points="392.10,123.90 390.67,126.80 389.07,125.02" fill="#222"/><text x="361.30" y="136.70" font-size="7.3" fill="#222" text-anchor="start" font-family='"Liberation Sans", sans-serif' font-weight="normal" >OC</text><ellipse cx="415" cy="157" rx="13.2" ry="14" fill="none" stroke="#a8a8a8" stroke-width="0.8"/><line x1="400.00" y1="162.10" x2="410.84" y2="156.40" stroke="#222" stroke-width="0.7" /><polygon points="413.50,155.00 411.40,157.46 410.29,155.33" fill="#222"/><line x1="400.00" y1="162.00" x2="400.00" y2="168.50" stroke="#a8a8a8" stroke-width="0.8" /><text x="327.30" y="166.00" font-size="7.3" fill="#222" text-anchor="start" font-family='"Liberation Sans", sans-serif' font-weight="normal" >Cpx-Bearing</text><text x="373.90" y="167.60" font-size="7.3" fill="#222" text-anchor="start" font-family='"Liberation Sans", sans-serif' font-weight="normal" >Opx&gt;Ol</text><rect x="428.4" y="129.7" width="85.6" height="27.3" fill="none" stroke="#a8a8a8" stroke-width="0.8"/><text x="471.60" y="145.80" font-size="7.3" fill="#222" text-anchor="middle" font-family='"Liberation Sans", sans-serif' font-weight="normal" >BA</text><polyline points="428.60,158.20 470.00,157.60 514.40,158.20" stroke="#a8a8a8" stroke-width="0.7" fill="none" /><polyline points="428.60,166.30 480.00,166.80 525.30,166.90" stroke="#a8a8a8" stroke-width="0.7" fill="none" /><line x1="513.00" y1="160.40" x2="484.69" y2="162.12" stroke="#222" stroke-width="0.7" /><polygon points="481.70,162.30 484.62,160.92 484.77,163.32" fill="#222"/><text x="514.40" y="163.80" font-size="7.3" fill="#222" text-anchor="start" font-family='"Liberation Sans", sans-serif' font-weight="normal" >Opx</text><path d="M315.50,46.30 C316.48,47.58 319.57,51.43 321.40,54.00 C323.23,56.57 325.02,59.15 326.50,61.70 C327.98,64.25 329.03,66.53 330.30,69.30 C331.57,72.07 332.82,75.10 334.10,78.30 C335.38,81.50 336.72,85.10 338.00,88.50 C339.28,91.90 340.53,95.52 341.80,98.70 C343.07,101.88 344.33,104.63 345.60,107.60 C346.87,110.57 348.12,113.73 349.40,116.50 C350.68,119.27 352.02,121.70 353.30,124.20 C354.58,126.70 355.63,129.30 357.10,131.50 C358.57,133.70 360.12,135.18 362.10,137.40 C364.08,139.62 366.68,142.77 369.00,144.80 C371.32,146.83 373.47,148.10 376.00,149.60 C378.53,151.10 380.60,152.42 384.20,153.80 C387.80,155.18 392.77,156.70 397.60,157.90 C402.43,159.10 408.00,160.13 413.20,161.00 C418.40,161.87 421.92,162.50 428.80,163.10 C435.68,163.70 445.68,164.23 454.50,164.60 C463.32,164.97 472.62,165.12 481.70,165.30 C490.78,165.48 501.50,165.60 509.00,165.70 C516.50,165.80 523.75,165.87 526.70,165.90" stroke="#7c7c7c" stroke-width="2.8" fill="none" stroke-linecap="butt"/><text x="387.90" y="58.60" font-size="9.3" fill="#ff2020" text-anchor="start" font-family='"Liberation Sans", sans-serif' font-weight="normal" >Mare</text><text x="477.80" y="56.60" font-size="9.2" fill="#2a2af0" text-anchor="start" font-family='"Liberation Sans", sans-serif' font-weight="normal" >Highland</text><rect x="315.5" y="5.7" width="226.20000000000005" height="165.3" fill="none" stroke="#6e6e6e" stroke-width="1.1"/><line x1="315.50" y1="171.00" x2="315.50" y2="168.80" stroke="#333" stroke-width="0.8" /><line x1="315.50" y1="5.70" x2="315.50" y2="7.90" stroke="#333" stroke-width="0.8" /><text x="315.50" y="180.80" font-size="7" fill="#333" text-anchor="middle" font-family='"Liberation Sans", sans-serif' font-weight="normal" >0.0</text><line x1="329.60" y1="171.00" x2="329.60" y2="169.60" stroke="#333" stroke-width="0.8" /><line x1="329.60" y1="5.70" x2="329.60" y2="7.10" stroke="#333" stroke-width="0.8" /><line x1="343.70" y1="171.00" x2="343.70" y2="168.80" stroke="#333" stroke-width="0.8" /><line x1="343.70" y1="5.70" x2="343.70" y2="7.90" stroke="#333" stroke-width="0.8" /><text x="343.70" y="180.80" font-size="7" fill="#333" text-anchor="middle" font-family='"Liberation Sans", sans-serif' font-weight="normal" >0.2</text><line x1="357.80" y1="171.00" x2="357.80" y2="169.60" stroke="#333" stroke-width="0.8" /><line x1="357.80" y1="5.70" x2="357.80" y2="7.10" stroke="#333" stroke-width="0.8" /><line x1="371.90" y1="171.00" x2="371.90" y2="168.80" stroke="#333" stroke-width="0.8" /><line x1="371.90" y1="5.70" x2="371.90" y2="7.90" stroke="#333" stroke-width="0.8" /><text x="371.90" y="180.80" font-size="7" fill="#333" text-anchor="middle" font-family='"Liberation Sans", sans-serif' font-weight="normal" >0.4</text><line x1="386.00" y1="171.00" x2="386.00" y2="169.60" stroke="#333" stroke-width="0.8" /><line x1="386.00" y1="5.70" x2="386.00" y2="7.10" stroke="#333" stroke-width="0.8" /><line x1="400.10" y1="171.00" x2="400.10" y2="168.80" stroke="#333" stroke-width="0.8" /><line x1="400.10" y1="5.70" x2="400.10" y2="7.90" stroke="#333" stroke-width="0.8" /><text x="400.10" y="180.80" font-size="7" fill="#333" text-anchor="middle" font-family='"Liberation Sans", sans-serif' font-weight="normal" >0.6</text><line x1="414.20" y1="171.00" x2="414.20" y2="169.60" stroke="#333" stroke-width="0.8" /><line x1="414.20" y1="5.70" x2="414.20" y2="7.10" stroke="#333" stroke-width="0.8" /><line x1="428.30" y1="171.00" x2="428.30" y2="168.80" stroke="#333" stroke-width="0.8" /><line x1="428.30" y1="5.70" x2="428.30" y2="7.90" stroke="#333" stroke-width="0.8" /><text x="428.30" y="180.80" font-size="7" fill="#333" text-anchor="middle" font-family='"Liberation Sans", sans-serif' font-weight="normal" >0.8</text><line x1="442.40" y1="171.00" x2="442.40" y2="169.60" stroke="#333" stroke-width="0.8" /><line x1="442.40" y1="5.70" x2="442.40" y2="7.10" stroke="#333" stroke-width="0.8" /><line x1="456.50" y1="171.00" x2="456.50" y2="168.80" stroke="#333" stroke-width="0.8" /><line x1="456.50" y1="5.70" x2="456.50" y2="7.90" stroke="#333" stroke-width="0.8" /><text x="456.50" y="180.80" font-size="7" fill="#333" text-anchor="middle" font-family='"Liberation Sans", sans-serif' font-weight="normal" >1.0</text><line x1="470.60" y1="171.00" x2="470.60" y2="169.60" stroke="#333" stroke-width="0.8" /><line x1="470.60" y1="5.70" x2="470.60" y2="7.10" stroke="#333" stroke-width="0.8" /><line x1="484.70" y1="171.00" x2="484.70" y2="168.80" stroke="#333" stroke-width="0.8" /><line x1="484.70" y1="5.70" x2="484.70" y2="7.90" stroke="#333" stroke-width="0.8" /><text x="484.70" y="180.80" font-size="7" fill="#333" text-anchor="middle" font-family='"Liberation Sans", sans-serif' font-weight="normal" >1.2</text><line x1="498.80" y1="171.00" x2="498.80" y2="169.60" stroke="#333" stroke-width="0.8" /><line x1="498.80" y1="5.70" x2="498.80" y2="7.10" stroke="#333" stroke-width="0.8" /><line x1="512.90" y1="171.00" x2="512.90" y2="168.80" stroke="#333" stroke-width="0.8" /><line x1="512.90" y1="5.70" x2="512.90" y2="7.90" stroke="#333" stroke-width="0.8" /><text x="512.90" y="180.80" font-size="7" fill="#333" text-anchor="middle" font-family='"Liberation Sans", sans-serif' font-weight="normal" >1.4</text><line x1="527.00" y1="171.00" x2="527.00" y2="169.60" stroke="#333" stroke-width="0.8" /><line x1="527.00" y1="5.70" x2="527.00" y2="7.10" stroke="#333" stroke-width="0.8" /><line x1="541.10" y1="171.00" x2="541.10" y2="168.80" stroke="#333" stroke-width="0.8" /><line x1="541.10" y1="5.70" x2="541.10" y2="7.90" stroke="#333" stroke-width="0.8" /><text x="541.10" y="180.80" font-size="7" fill="#333" text-anchor="middle" font-family='"Liberation Sans", sans-serif' font-weight="normal" >1.6</text><line x1="315.50" y1="171.00" x2="317.70" y2="171.00" stroke="#333" stroke-width="0.8" /><line x1="541.70" y1="171.00" x2="539.50" y2="171.00" stroke="#333" stroke-width="0.8" /><text x="311.50" y="173.50" font-size="7" fill="#333" text-anchor="end" font-family='"Liberation Sans", sans-serif' font-weight="normal" >900</text><line x1="315.50" y1="153.00" x2="316.90" y2="153.00" stroke="#333" stroke-width="0.8" /><line x1="541.70" y1="153.00" x2="540.30" y2="153.00" stroke="#333" stroke-width="0.8" /><line x1="315.50" y1="135.00" x2="317.70" y2="135.00" stroke="#333" stroke-width="0.8" /><line x1="541.70" y1="135.00" x2="539.50" y2="135.00" stroke="#333" stroke-width="0.8" /><text x="311.50" y="137.50" font-size="7" fill="#333" text-anchor="end" font-family='"Liberation Sans", sans-serif' font-weight="normal" >950</text><line x1="315.50" y1="117.00" x2="316.90" y2="117.00" stroke="#333" stroke-width="0.8" /><line x1="541.70" y1="117.00" x2="540.30" y2="117.00" stroke="#333" stroke-width="0.8" /><line x1="315.50" y1="99.00" x2="317.70" y2="99.00" stroke="#333" stroke-width="0.8" /><line x1="541.70" y1="99.00" x2="539.50" y2="99.00" stroke="#333" stroke-width="0.8" /><text x="311.50" y="101.50" font-size="7" fill="#333" text-anchor="end" font-family='"Liberation Sans", sans-serif' font-weight="normal" >1000</text><line x1="315.50" y1="81.00" x2="316.90" y2="81.00" stroke="#333" stroke-width="0.8" /><line x1="541.70" y1="81.00" x2="540.30" y2="81.00" stroke="#333" stroke-width="0.8" /><line x1="315.50" y1="63.00" x2="317.70" y2="63.00" stroke="#333" stroke-width="0.8" /><line x1="541.70" y1="63.00" x2="539.50" y2="63.00" stroke="#333" stroke-width="0.8" /><text x="311.50" y="65.50" font-size="7" fill="#333" text-anchor="end" font-family='"Liberation Sans", sans-serif' font-weight="normal" >1050</text><line x1="315.50" y1="45.00" x2="316.90" y2="45.00" stroke="#333" stroke-width="0.8" /><line x1="541.70" y1="45.00" x2="540.30" y2="45.00" stroke="#333" stroke-width="0.8" /><line x1="315.50" y1="27.00" x2="317.70" y2="27.00" stroke="#333" stroke-width="0.8" /><line x1="541.70" y1="27.00" x2="539.50" y2="27.00" stroke="#333" stroke-width="0.8" /><text x="311.50" y="29.50" font-size="7" fill="#333" text-anchor="end" font-family='"Liberation Sans", sans-serif' font-weight="normal" >1100</text><line x1="315.50" y1="9.00" x2="316.90" y2="9.00" stroke="#333" stroke-width="0.8" /><line x1="541.70" y1="9.00" x2="540.30" y2="9.00" stroke="#333" stroke-width="0.8" /><text x="418.50" y="196.20" font-size="9" fill="#333" text-anchor="start" font-family='"Liberation Sans", sans-serif' font-weight="normal" >IBDR</text><text x="0.00" y="0.00" font-size="9.0" fill="#333" text-anchor="middle" font-family='"Liberation Sans", sans-serif' font-weight="normal" transform="translate(291,103.8) rotate(-90)">Band Center <tspan dx="1.2" font-family='"Liberation Serif", serif'>I</tspan><tspan dx="1.2"> (nm)</tspan></text><text x="281.00" y="16.40" font-size="14" fill="#111" text-anchor="start" font-family='"Liberation Serif", serif' font-weight="bold" >(b)</text><polyline points="18.60,244.10 105.10,224.40 201.64,241.16" stroke="#e4e4e4" stroke-width="0.6" fill="none" /><polyline points="19.70,268.70 105.20,243.30 200.78,265.32" stroke="#e4e4e4" stroke-width="0.6" fill="none" /><polyline points="20.80,293.30 105.30,262.20 199.92,289.48" stroke="#e4e4e4" stroke-width="0.6" fill="none" /><polyline points="21.90,317.90 105.40,281.10 199.06,313.64" stroke="#e4e4e4" stroke-width="0.6" fill="none" /><line x1="35.00" y1="216.70" x2="39.50" y2="334.00" stroke="#e8e8e8" stroke-width="0.6" /><line x1="124.50" y1="207.80" x2="124.04" y2="307.56" stroke="#e8e8e8" stroke-width="0.6" /><line x1="52.50" y1="213.90" x2="56.00" y2="325.50" stroke="#e8e8e8" stroke-width="0.6" /><line x1="144.00" y1="210.10" x2="142.58" y2="315.12" stroke="#e8e8e8" stroke-width="0.6" /><line x1="70.00" y1="211.10" x2="72.50" y2="317.00" stroke="#e8e8e8" stroke-width="0.6" /><line x1="163.50" y1="212.40" x2="161.12" y2="322.68" stroke="#e8e8e8" stroke-width="0.6" /><line x1="87.50" y1="208.30" x2="89.00" y2="308.50" stroke="#e8e8e8" stroke-width="0.6" /><line x1="183.00" y1="214.70" x2="179.66" y2="330.24" stroke="#e8e8e8" stroke-width="0.6" /><line x1="42.50" y1="349.80" x2="124.04" y2="307.56" stroke="#ececec" stroke-width="0.6" /><line x1="136.04" y1="370.76" x2="39.50" y2="334.00" stroke="#ececec" stroke-width="0.6" /><line x1="62.00" y1="357.10" x2="142.58" y2="315.12" stroke="#ececec" stroke-width="0.6" /><line x1="151.58" y1="362.52" x2="56.00" y2="325.50" stroke="#ececec" stroke-width="0.6" /><line x1="81.50" y1="364.40" x2="161.12" y2="322.68" stroke="#ececec" stroke-width="0.6" /><line x1="167.12" y1="354.28" x2="72.50" y2="317.00" stroke="#ececec" stroke-width="0.6" /><line x1="101.00" y1="371.70" x2="179.66" y2="330.24" stroke="#ececec" stroke-width="0.6" /><line x1="182.66" y1="346.04" x2="89.00" y2="308.50" stroke="#ececec" stroke-width="0.6" /><polyline points="17.50,219.50 105.00,205.50 202.50,217.00" stroke="#9a9a9a" stroke-width="0.7" fill="none" stroke-dasharray="1.2,1"/><line x1="105.00" y1="205.50" x2="105.50" y2="300.00" stroke="#c0c0c0" stroke-width="0.6" stroke-dasharray="1.2,1"/><line x1="202.50" y1="217.00" x2="198.20" y2="337.80" stroke="#9a9a9a" stroke-width="0.7" stroke-dasharray="2.5,1.2"/><polyline points="23.00,342.50 105.50,300.00 198.20,337.80" stroke="#d4d4d4" stroke-width="0.6" fill="none" /><defs><radialGradient id="gR" cx="35%" cy="30%" r="70%"><stop offset="0" stop-color="#ffb0b0"/><stop offset="0.35" stop-color="#f01010"/><stop offset="1" stop-color="#800000"/></radialGradient><radialGradient id="gG" cx="35%" cy="30%" r="70%"><stop offset="0" stop-color="#c8ffc8"/><stop offset="0.35" stop-color="#10e010"/><stop offset="1" stop-color="#007000"/></radialGradient><radialGradient id="gB" cx="35%" cy="30%" r="70%"><stop offset="0" stop-color="#c0c0ff"/><stop offset="0.35" stop-color="#1010f0"/><stop offset="1" stop-color="#000080"/></radialGradient><radialGradient id="gK" cx="35%" cy="30%" r="70%"><stop offset="0" stop-color="#f0f0f0"/><stop offset="0.35" stop-color="#909090"/><stop offset="1" stop-color="#404040"/></radialGradient></defs><g fill="url(#gB)"><circle cx="137.90" cy="319.58" r="1.9"/><circle cx="129.79" cy="296.48" r="1.9"/><circle cx="126.69" cy="273.14" r="1.9"/><circle cx="144.27" cy="293.96" r="1.9"/><circle cx="138.99" cy="287.82" r="1.9"/><circle cx="129.45" cy="295.58" r="1.9"/><circle cx="110.92" cy="292.05" r="1.9"/><circle cx="100.97" cy="279.23" r="1.9"/><circle cx="119.61" cy="283.43" r="1.9"/><circle cx="115.32" cy="289.92" r="1.9"/><circle cx="111.48" cy="289.74" r="1.9"/><circle cx="116.17" cy="270.79" r="1.9"/><circle cx="98.21" cy="296.83" r="1.9"/><circle cx="139.64" cy="297.04" r="1.9"/><circle cx="104.97" cy="290.02" r="1.9"/><circle cx="111.14" cy="293.74" r="1.9"/><circle cx="127.51" cy="285.99" r="1.9"/><circle cx="98.53" cy="288.44" r="1.9"/><circle cx="132.15" cy="303.93" r="1.9"/><circle cx="132.37" cy="304.30" r="1.9"/><circle cx="115.88" cy="296.03" r="1.9"/><circle cx="105.77" cy="287.94" r="1.9"/><circle cx="113.75" cy="284.98" r="1.9"/><circle cx="95.57" cy="299.24" r="1.9"/><circle cx="138.33" cy="300.89" r="1.9"/><circle cx="120.72" cy="289.62" r="1.9"/><circle cx="110.27" cy="273.08" r="1.9"/><circle cx="108.01" cy="283.45" r="1.9"/><circle cx="127.58" cy="278.41" r="1.9"/><circle cx="139.87" cy="307.21" r="1.9"/><circle cx="103.16" cy="291.32" r="1.9"/><circle cx="112.40" cy="285.32" r="1.9"/><circle cx="96.74" cy="286.20" r="1.9"/><circle cx="128.94" cy="316.41" r="1.9"/><circle cx="122.07" cy="303.56" r="1.9"/><circle cx="149.89" cy="287.53" r="1.9"/><circle cx="118.38" cy="291.59" r="1.9"/><circle cx="114.23" cy="281.59" r="1.9"/><circle cx="110.61" cy="276.75" r="1.9"/><circle cx="131.30" cy="296.64" r="1.9"/><circle cx="98.43" cy="309.09" r="1.9"/><circle cx="129.94" cy="308.01" r="1.9"/><circle cx="123.27" cy="294.00" r="1.9"/><circle cx="113.30" cy="288.55" r="1.9"/><circle cx="108.04" cy="292.39" r="1.9"/><circle cx="133.98" cy="304.39" r="1.9"/><circle cx="144.68" cy="285.47" r="1.9"/><circle cx="114.09" cy="276.13" r="1.9"/><circle cx="127.02" cy="310.19" r="1.9"/><circle cx="143.11" cy="299.82" r="1.9"/><circle cx="111.78" cy="304.95" r="1.9"/><circle cx="116.66" cy="294.36" r="1.9"/><circle cx="103.81" cy="302.34" r="1.9"/><circle cx="118.04" cy="287.46" r="1.9"/><circle cx="118.92" cy="296.99" r="1.9"/><circle cx="114.45" cy="305.03" r="1.9"/><circle cx="110.18" cy="299.73" r="1.9"/><circle cx="98.97" cy="285.06" r="1.9"/><circle cx="102.13" cy="297.12" r="1.9"/><circle cx="107.02" cy="284.87" r="1.9"/><circle cx="128.52" cy="282.57" r="1.9"/><circle cx="113.23" cy="296.13" r="1.9"/><circle cx="108.68" cy="302.67" r="1.9"/><circle cx="128.73" cy="301.88" r="1.9"/><circle cx="127.48" cy="283.78" r="1.9"/><circle cx="109.97" cy="298.44" r="1.9"/><circle cx="111.67" cy="297.16" r="1.9"/><circle cx="128.79" cy="290.79" r="1.9"/><circle cx="124.86" cy="272.83" r="1.9"/><circle cx="108.88" cy="299.48" r="1.9"/><circle cx="123.20" cy="301.15" r="1.9"/><circle cx="119.61" cy="297.15" r="1.9"/><circle cx="134.83" cy="281.14" r="1.9"/><circle cx="108.44" cy="278.10" r="1.9"/><circle cx="131.76" cy="303.88" r="1.9"/><circle cx="125.76" cy="300.94" r="1.9"/><circle cx="106.55" cy="294.61" r="1.9"/><circle cx="134.05" cy="293.61" r="1.9"/><circle cx="132.12" cy="298.69" r="1.9"/><circle cx="102.41" cy="284.99" r="1.9"/><circle cx="146.44" cy="295.44" r="1.9"/><circle cx="104.70" cy="282.66" r="1.9"/><circle cx="107.73" cy="292.83" r="1.9"/><circle cx="115.69" cy="288.60" r="1.9"/><circle cx="130.29" cy="303.10" r="1.9"/><circle cx="127.79" cy="300.65" r="1.9"/><circle cx="118.73" cy="285.82" r="1.9"/><circle cx="138.26" cy="312.20" r="1.9"/><circle cx="125.41" cy="284.46" r="1.9"/><circle cx="138.66" cy="300.44" r="1.9"/></g><g fill="url(#gK)"><circle cx="88.01" cy="315.01" r="1.9"/><circle cx="90.58" cy="298.07" r="1.9"/><circle cx="45.44" cy="281.93" r="1.9"/><circle cx="86.96" cy="281.90" r="1.9"/><circle cx="89.79" cy="293.58" r="1.9"/><circle cx="92.63" cy="312.34" r="1.9"/><circle cx="45.18" cy="275.25" r="1.9"/><circle cx="65.23" cy="289.56" r="1.9"/><circle cx="72.72" cy="294.29" r="1.9"/><circle cx="68.22" cy="286.07" r="1.9"/><circle cx="91.38" cy="304.57" r="1.9"/><circle cx="65.20" cy="280.53" r="1.9"/><circle cx="89.94" cy="292.51" r="1.9"/><circle cx="81.28" cy="277.31" r="1.9"/><circle cx="55.13" cy="302.52" r="1.9"/><circle cx="61.13" cy="279.82" r="1.9"/><circle cx="67.91" cy="280.25" r="1.9"/><circle cx="75.26" cy="296.60" r="1.9"/><circle cx="86.90" cy="280.88" r="1.9"/><circle cx="71.63" cy="280.39" r="1.9"/><circle cx="85.81" cy="277.34" r="1.9"/><circle cx="53.55" cy="274.00" r="1.9"/><circle cx="34.37" cy="262.54" r="1.9"/><circle cx="69.62" cy="285.48" r="1.9"/><circle cx="79.96" cy="282.16" r="1.9"/><circle cx="69.30" cy="273.20" r="1.9"/><circle cx="60.88" cy="273.33" r="1.9"/><circle cx="79.49" cy="282.07" r="1.9"/><circle cx="99.13" cy="285.13" r="1.9"/><circle cx="72.66" cy="290.79" r="1.9"/><circle cx="64.56" cy="284.98" r="1.9"/><circle cx="63.01" cy="278.79" r="1.9"/><circle cx="99.56" cy="278.08" r="1.9"/><circle cx="73.48" cy="286.61" r="1.9"/><circle cx="81.96" cy="270.64" r="1.9"/><circle cx="89.86" cy="289.13" r="1.9"/><circle cx="88.00" cy="286.98" r="1.9"/><circle cx="62.01" cy="270.60" r="1.9"/><circle cx="86.43" cy="277.06" r="1.9"/><circle cx="84.97" cy="277.96" r="1.9"/><circle cx="80.36" cy="305.48" r="1.9"/><circle cx="87.12" cy="283.32" r="1.9"/><circle cx="66.70" cy="276.40" r="1.9"/><circle cx="73.03" cy="291.14" r="1.9"/><circle cx="67.18" cy="283.23" r="1.9"/><circle cx="83.86" cy="296.18" r="1.9"/><circle cx="65.51" cy="265.12" r="1.9"/><circle cx="79.11" cy="271.62" r="1.9"/><circle cx="59.78" cy="311.42" r="1.9"/><circle cx="72.41" cy="280.26" r="1.9"/><circle cx="69.30" cy="276.48" r="1.9"/><circle cx="72.52" cy="282.46" r="1.9"/><circle cx="75.73" cy="292.46" r="1.9"/><circle cx="71.61" cy="267.78" r="1.9"/><circle cx="71.15" cy="283.25" r="1.9"/><circle cx="47.09" cy="271.05" r="1.9"/><circle cx="88.37" cy="293.74" r="1.9"/><circle cx="65.90" cy="280.14" r="1.9"/><circle cx="70.82" cy="274.48" r="1.9"/><circle cx="63.24" cy="268.13" r="1.9"/><circle cx="86.99" cy="260.25" r="1.9"/><circle cx="62.24" cy="287.34" r="1.9"/><circle cx="80.56" cy="268.13" r="1.9"/><circle cx="89.32" cy="282.67" r="1.9"/><circle cx="95.39" cy="306.82" r="1.9"/><circle cx="89.45" cy="282.56" r="1.9"/><circle cx="82.05" cy="290.75" r="1.9"/><circle cx="58.44" cy="273.31" r="1.9"/><circle cx="90.78" cy="294.89" r="1.9"/><circle cx="89.45" cy="287.31" r="1.9"/><circle cx="84.91" cy="279.92" r="1.9"/><circle cx="84.46" cy="299.45" r="1.9"/><circle cx="75.03" cy="278.85" r="1.9"/><circle cx="67.35" cy="264.66" r="1.9"/><circle cx="88.09" cy="283.01" r="1.9"/><circle cx="90.59" cy="293.12" r="1.9"/><circle cx="60.58" cy="264.55" r="1.9"/><circle cx="85.94" cy="294.02" r="1.9"/><circle cx="77.27" cy="290.60" r="1.9"/><circle cx="85.59" cy="308.02" r="1.9"/><circle cx="77.66" cy="275.85" r="1.9"/><circle cx="88.52" cy="293.65" r="1.9"/><circle cx="87.41" cy="268.58" r="1.9"/><circle cx="85.63" cy="281.15" r="1.9"/><circle cx="56.27" cy="275.85" r="1.9"/><circle cx="84.82" cy="289.59" r="1.9"/><circle cx="74.80" cy="281.00" r="1.9"/><circle cx="59.58" cy="275.00" r="1.9"/><circle cx="83.33" cy="278.25" r="1.9"/><circle cx="56.47" cy="270.10" r="1.9"/><circle cx="85.77" cy="288.86" r="1.9"/><circle cx="96.11" cy="295.35" r="1.9"/><circle cx="67.70" cy="285.72" r="1.9"/><circle cx="86.11" cy="296.27" r="1.9"/><circle cx="80.05" cy="296.07" r="1.9"/><circle cx="82.64" cy="265.44" r="1.9"/><circle cx="56.76" cy="269.40" r="1.9"/><circle cx="82.12" cy="282.57" r="1.9"/><circle cx="75.98" cy="275.21" r="1.9"/><circle cx="83.81" cy="295.96" r="1.9"/><circle cx="74.38" cy="289.32" r="1.9"/><circle cx="88.42" cy="285.47" r="1.9"/><circle cx="77.82" cy="283.97" r="1.9"/><circle cx="83.06" cy="297.97" r="1.9"/><circle cx="91.96" cy="284.25" r="1.9"/><circle cx="76.66" cy="278.95" r="1.9"/><circle cx="87.13" cy="295.70" r="1.9"/><circle cx="77.26" cy="287.44" r="1.9"/><circle cx="81.06" cy="298.86" r="1.9"/><circle cx="67.56" cy="282.80" r="1.9"/><circle cx="84.33" cy="292.99" r="1.9"/><circle cx="90.14" cy="281.49" r="1.9"/><circle cx="73.31" cy="271.12" r="1.9"/><circle cx="84.58" cy="285.09" r="1.9"/><circle cx="79.89" cy="255.48" r="1.9"/><circle cx="60.18" cy="280.48" r="1.9"/><circle cx="78.92" cy="293.34" r="1.9"/><circle cx="91.34" cy="288.49" r="1.9"/><circle cx="68.16" cy="276.80" r="1.9"/><circle cx="51.53" cy="284.45" r="1.9"/><circle cx="77.03" cy="281.96" r="1.9"/><circle cx="66.16" cy="288.72" r="1.9"/><circle cx="98.75" cy="313.53" r="1.9"/><circle cx="73.90" cy="288.87" r="1.9"/><circle cx="74.36" cy="291.30" r="1.9"/><circle cx="66.37" cy="283.67" r="1.9"/><circle cx="77.63" cy="285.27" r="1.9"/><circle cx="67.21" cy="281.69" r="1.9"/><circle cx="62.89" cy="277.90" r="1.9"/><circle cx="73.64" cy="292.57" r="1.9"/><circle cx="64.07" cy="260.64" r="1.9"/><circle cx="91.31" cy="284.87" r="1.9"/><circle cx="59.53" cy="282.86" r="1.9"/><circle cx="73.51" cy="272.23" r="1.9"/><circle cx="65.65" cy="277.10" r="1.9"/><circle cx="56.81" cy="267.64" r="1.9"/><circle cx="95.69" cy="293.94" r="1.9"/><circle cx="47.60" cy="280.64" r="1.9"/><circle cx="93.02" cy="303.61" r="1.9"/><circle cx="56.43" cy="280.09" r="1.9"/><circle cx="75.61" cy="274.33" r="1.9"/><circle cx="103.34" cy="294.77" r="1.9"/><circle cx="47.30" cy="277.42" r="1.9"/><circle cx="56.95" cy="289.83" r="1.9"/><circle cx="91.19" cy="265.09" r="1.9"/><circle cx="76.67" cy="286.18" r="1.9"/><circle cx="67.49" cy="259.67" r="1.9"/><circle cx="74.05" cy="288.83" r="1.9"/><circle cx="62.16" cy="281.60" r="1.9"/><circle cx="76.02" cy="287.29" r="1.9"/><circle cx="93.51" cy="297.80" r="1.9"/><circle cx="69.58" cy="283.71" r="1.9"/><circle cx="76.23" cy="275.32" r="1.9"/><circle cx="89.80" cy="290.82" r="1.9"/><circle cx="99.79" cy="303.43" r="1.9"/><circle cx="66.97" cy="277.47" r="1.9"/><circle cx="78.29" cy="283.17" r="1.9"/><circle cx="67.29" cy="266.07" r="1.9"/><circle cx="66.25" cy="290.62" r="1.9"/><circle cx="69.36" cy="274.28" r="1.9"/><circle cx="66.40" cy="270.68" r="1.9"/><circle cx="52.41" cy="268.62" r="1.9"/><circle cx="49.10" cy="263.05" r="1.9"/><circle cx="65.15" cy="275.38" r="1.9"/><circle cx="76.14" cy="295.48" r="1.9"/><circle cx="89.93" cy="295.51" r="1.9"/><circle cx="67.70" cy="293.93" r="1.9"/><circle cx="72.33" cy="296.29" r="1.9"/><circle cx="82.88" cy="275.16" r="1.9"/><circle cx="83.89" cy="289.99" r="1.9"/><circle cx="73.00" cy="296.67" r="1.9"/><circle cx="73.78" cy="305.32" r="1.9"/><circle cx="98.31" cy="275.41" r="1.9"/><circle cx="70.20" cy="264.93" r="1.9"/><circle cx="68.22" cy="284.07" r="1.9"/><circle cx="53.75" cy="270.29" r="1.9"/><circle cx="79.97" cy="273.05" r="1.9"/><circle cx="71.10" cy="284.21" r="1.9"/><circle cx="98.77" cy="282.15" r="1.9"/><circle cx="70.20" cy="256.05" r="1.9"/><circle cx="84.80" cy="285.02" r="1.9"/><circle cx="86.34" cy="287.14" r="1.9"/><circle cx="95.43" cy="295.87" r="1.9"/><circle cx="57.78" cy="285.15" r="1.9"/><circle cx="94.38" cy="290.71" r="1.9"/><circle cx="74.63" cy="279.01" r="1.9"/><circle cx="73.13" cy="273.95" r="1.9"/><circle cx="70.51" cy="262.68" r="1.9"/><circle cx="69.43" cy="274.97" r="1.9"/><circle cx="70.08" cy="290.28" r="1.9"/><circle cx="44.77" cy="277.30" r="1.9"/><circle cx="80.95" cy="305.36" r="1.9"/><circle cx="75.25" cy="280.11" r="1.9"/><circle cx="62.36" cy="258.22" r="1.9"/><circle cx="73.65" cy="289.80" r="1.9"/><circle cx="103.68" cy="303.10" r="1.9"/><circle cx="79.29" cy="270.93" r="1.9"/><circle cx="69.53" cy="262.65" r="1.9"/><circle cx="96.20" cy="291.03" r="1.9"/><circle cx="64.34" cy="285.14" r="1.9"/><circle cx="72.50" cy="268.92" r="1.9"/><circle cx="67.43" cy="275.24" r="1.9"/><circle cx="71.45" cy="272.14" r="1.9"/><circle cx="83.74" cy="272.41" r="1.9"/><circle cx="81.82" cy="270.29" r="1.9"/><circle cx="65.17" cy="279.43" r="1.9"/><circle cx="72.81" cy="276.87" r="1.9"/><circle cx="75.53" cy="274.73" r="1.9"/><circle cx="69.26" cy="252.07" r="1.9"/><circle cx="73.98" cy="299.55" r="1.9"/><circle cx="65.29" cy="268.08" r="1.9"/><circle cx="65.11" cy="276.48" r="1.9"/><circle cx="75.00" cy="269.62" r="1.9"/><circle cx="61.34" cy="280.50" r="1.9"/><circle cx="79.73" cy="267.46" r="1.9"/><circle cx="71.97" cy="281.42" r="1.9"/><circle cx="62.74" cy="275.05" r="1.9"/><circle cx="66.66" cy="288.11" r="1.9"/><circle cx="68.36" cy="267.58" r="1.9"/><circle cx="72.39" cy="273.76" r="1.9"/><circle cx="75.86" cy="279.38" r="1.9"/><circle cx="71.77" cy="302.33" r="1.9"/><circle cx="63.42" cy="261.78" r="1.9"/><circle cx="92.53" cy="291.06" r="1.9"/><circle cx="85.86" cy="278.65" r="1.9"/><circle cx="75.81" cy="285.09" r="1.9"/><circle cx="86.44" cy="292.60" r="1.9"/><circle cx="78.54" cy="284.30" r="1.9"/><circle cx="71.13" cy="282.84" r="1.9"/><circle cx="75.48" cy="284.62" r="1.9"/><circle cx="64.60" cy="228.00" r="1.9"/><circle cx="70.00" cy="229.50" r="1.9"/><circle cx="48.00" cy="258.00" r="1.9"/><circle cx="54.00" cy="255.00" r="1.9"/><circle cx="57.00" cy="250.00" r="1.9"/><circle cx="62.00" cy="246.00" r="1.9"/><circle cx="66.00" cy="244.00" r="1.9"/><circle cx="75.00" cy="241.00" r="1.9"/><circle cx="80.00" cy="248.00" r="1.9"/><circle cx="60.00" cy="320.00" r="1.9"/><circle cx="70.00" cy="322.00" r="1.9"/><circle cx="82.00" cy="321.00" r="1.9"/><circle cx="90.00" cy="320.00" r="1.9"/><circle cx="42.00" cy="280.00" r="1.9"/><circle cx="38.00" cy="286.00" r="1.9"/><circle cx="45.00" cy="292.00" r="1.9"/><circle cx="40.00" cy="296.00" r="1.9"/><circle cx="50.00" cy="300.00" r="1.9"/><circle cx="95.00" cy="262.00" r="1.9"/><circle cx="88.00" cy="258.00" r="1.9"/></g><g fill="url(#gG)"><circle cx="108.77" cy="301.42" r="1.9"/><circle cx="114.08" cy="304.58" r="1.9"/><circle cx="93.45" cy="289.37" r="1.9"/><circle cx="112.09" cy="289.58" r="1.9"/><circle cx="106.16" cy="316.07" r="1.9"/><circle cx="113.51" cy="309.07" r="1.9"/><circle cx="127.70" cy="286.99" r="1.9"/><circle cx="122.62" cy="284.15" r="1.9"/><circle cx="123.89" cy="293.16" r="1.9"/><circle cx="132.94" cy="304.47" r="1.9"/><circle cx="83.00" cy="299.21" r="1.9"/><circle cx="123.29" cy="297.60" r="1.9"/><circle cx="116.78" cy="284.55" r="1.9"/><circle cx="115.72" cy="301.58" r="1.9"/><circle cx="98.41" cy="302.29" r="1.9"/><circle cx="124.99" cy="301.05" r="1.9"/><circle cx="133.55" cy="297.84" r="1.9"/><circle cx="131.83" cy="307.60" r="1.9"/><circle cx="115.88" cy="299.01" r="1.9"/><circle cx="126.25" cy="290.73" r="1.9"/><circle cx="130.30" cy="302.82" r="1.9"/><circle cx="143.20" cy="291.92" r="1.9"/><circle cx="134.66" cy="311.72" r="1.9"/><circle cx="119.13" cy="304.48" r="1.9"/><circle cx="118.44" cy="290.59" r="1.9"/><circle cx="119.48" cy="302.12" r="1.9"/><circle cx="120.34" cy="312.04" r="1.9"/><circle cx="109.97" cy="278.36" r="1.9"/><circle cx="128.13" cy="300.25" r="1.9"/><circle cx="107.17" cy="313.58" r="1.9"/><circle cx="105.60" cy="283.20" r="1.9"/><circle cx="122.15" cy="298.99" r="1.9"/><circle cx="108.86" cy="284.93" r="1.9"/><circle cx="113.57" cy="298.50" r="1.9"/><circle cx="87.34" cy="272.12" r="1.9"/><circle cx="128.44" cy="286.31" r="1.9"/><circle cx="116.97" cy="294.63" r="1.9"/><circle cx="115.24" cy="300.72" r="1.9"/><circle cx="123.68" cy="304.39" r="1.9"/><circle cx="120.07" cy="304.23" r="1.9"/><circle cx="107.04" cy="308.90" r="1.9"/><circle cx="145.75" cy="311.09" r="1.9"/><circle cx="110.60" cy="305.62" r="1.9"/><circle cx="131.00" cy="292.78" r="1.9"/><circle cx="143.25" cy="302.60" r="1.9"/><circle cx="108.17" cy="328.35" r="1.9"/><circle cx="118.39" cy="321.39" r="1.9"/><circle cx="105.33" cy="305.61" r="1.9"/><circle cx="132.08" cy="309.22" r="1.9"/><circle cx="112.25" cy="308.28" r="1.9"/><circle cx="101.30" cy="293.27" r="1.9"/><circle cx="135.89" cy="321.42" r="1.9"/><circle cx="130.18" cy="298.35" r="1.9"/><circle cx="104.32" cy="296.82" r="1.9"/><circle cx="133.98" cy="323.18" r="1.9"/><circle cx="119.84" cy="280.44" r="1.9"/><circle cx="155.90" cy="309.63" r="1.9"/><circle cx="141.59" cy="287.46" r="1.9"/><circle cx="109.09" cy="292.19" r="1.9"/><circle cx="113.18" cy="298.20" r="1.9"/><circle cx="104.48" cy="294.28" r="1.9"/><circle cx="118.94" cy="301.68" r="1.9"/><circle cx="117.71" cy="292.53" r="1.9"/><circle cx="127.56" cy="300.49" r="1.9"/><circle cx="118.26" cy="288.63" r="1.9"/><circle cx="95.97" cy="292.52" r="1.9"/><circle cx="105.41" cy="284.57" r="1.9"/><circle cx="137.26" cy="309.33" r="1.9"/><circle cx="133.55" cy="290.14" r="1.9"/><circle cx="114.70" cy="305.93" r="1.9"/><circle cx="115.07" cy="295.44" r="1.9"/><circle cx="114.60" cy="296.42" r="1.9"/><circle cx="117.34" cy="311.02" r="1.9"/><circle cx="92.98" cy="296.74" r="1.9"/><circle cx="129.82" cy="283.77" r="1.9"/><circle cx="107.59" cy="302.91" r="1.9"/><circle cx="119.11" cy="272.37" r="1.9"/><circle cx="80.82" cy="296.23" r="1.9"/><circle cx="120.36" cy="296.44" r="1.9"/><circle cx="136.17" cy="289.54" r="1.9"/><circle cx="85.00" cy="295.13" r="1.9"/><circle cx="138.76" cy="300.39" r="1.9"/><circle cx="123.77" cy="320.02" r="1.9"/><circle cx="106.51" cy="293.77" r="1.9"/><circle cx="94.30" cy="314.51" r="1.9"/><circle cx="133.65" cy="315.72" r="1.9"/><circle cx="120.74" cy="294.49" r="1.9"/><circle cx="125.50" cy="293.31" r="1.9"/><circle cx="113.11" cy="311.71" r="1.9"/><circle cx="105.59" cy="296.50" r="1.9"/><circle cx="129.47" cy="303.32" r="1.9"/><circle cx="103.33" cy="294.99" r="1.9"/><circle cx="129.91" cy="290.26" r="1.9"/><circle cx="93.07" cy="292.15" r="1.9"/><circle cx="103.75" cy="288.30" r="1.9"/><circle cx="96.20" cy="281.56" r="1.9"/><circle cx="135.77" cy="300.02" r="1.9"/><circle cx="91.91" cy="312.66" r="1.9"/><circle cx="100.67" cy="312.51" r="1.9"/><circle cx="126.46" cy="300.69" r="1.9"/><circle cx="120.28" cy="301.56" r="1.9"/><circle cx="148.42" cy="309.87" r="1.9"/><circle cx="143.39" cy="317.18" r="1.9"/><circle cx="125.85" cy="304.25" r="1.9"/><circle cx="126.89" cy="296.77" r="1.9"/><circle cx="90.83" cy="291.59" r="1.9"/><circle cx="104.36" cy="308.50" r="1.9"/><circle cx="112.29" cy="323.97" r="1.9"/><circle cx="114.45" cy="293.27" r="1.9"/><circle cx="97.27" cy="276.69" r="1.9"/><circle cx="103.64" cy="305.29" r="1.9"/><circle cx="104.85" cy="296.95" r="1.9"/><circle cx="132.24" cy="303.59" r="1.9"/><circle cx="123.10" cy="312.64" r="1.9"/><circle cx="112.24" cy="299.57" r="1.9"/><circle cx="113.04" cy="286.28" r="1.9"/><circle cx="121.18" cy="281.50" r="1.9"/><circle cx="106.99" cy="297.59" r="1.9"/><circle cx="113.22" cy="287.93" r="1.9"/><circle cx="92.30" cy="298.39" r="1.9"/><circle cx="126.60" cy="289.04" r="1.9"/><circle cx="130.79" cy="298.62" r="1.9"/><circle cx="122.19" cy="286.40" r="1.9"/><circle cx="123.85" cy="297.36" r="1.9"/><circle cx="122.24" cy="296.29" r="1.9"/><circle cx="146.28" cy="310.34" r="1.9"/><circle cx="119.92" cy="313.16" r="1.9"/><circle cx="98.01" cy="294.79" r="1.9"/><circle cx="101.95" cy="288.90" r="1.9"/><circle cx="127.20" cy="320.30" r="1.9"/><circle cx="132.30" cy="305.78" r="1.9"/><circle cx="128.05" cy="307.47" r="1.9"/><circle cx="129.04" cy="307.61" r="1.9"/><circle cx="119.66" cy="314.21" r="1.9"/><circle cx="95.61" cy="305.91" r="1.9"/><circle cx="106.80" cy="304.58" r="1.9"/><circle cx="90.99" cy="302.80" r="1.9"/><circle cx="111.42" cy="290.52" r="1.9"/><circle cx="97.39" cy="290.60" r="1.9"/><circle cx="118.35" cy="298.94" r="1.9"/><circle cx="114.52" cy="300.23" r="1.9"/><circle cx="88.96" cy="295.25" r="1.9"/><circle cx="127.49" cy="304.48" r="1.9"/><circle cx="127.89" cy="301.82" r="1.9"/><circle cx="96.96" cy="292.28" r="1.9"/><circle cx="119.02" cy="284.40" r="1.9"/><circle cx="127.25" cy="309.53" r="1.9"/><circle cx="112.76" cy="304.72" r="1.9"/><circle cx="129.25" cy="293.30" r="1.9"/><circle cx="119.64" cy="305.00" r="1.9"/><circle cx="132.36" cy="306.12" r="1.9"/><circle cx="119.59" cy="300.88" r="1.9"/><circle cx="114.53" cy="281.57" r="1.9"/><circle cx="124.26" cy="289.31" r="1.9"/><circle cx="128.18" cy="295.81" r="1.9"/><circle cx="120.48" cy="315.93" r="1.9"/><circle cx="110.41" cy="290.36" r="1.9"/><circle cx="105.50" cy="294.48" r="1.9"/><circle cx="111.49" cy="288.10" r="1.9"/><circle cx="108.60" cy="293.59" r="1.9"/><circle cx="119.81" cy="303.53" r="1.9"/><circle cx="119.29" cy="280.09" r="1.9"/><circle cx="115.61" cy="272.10" r="1.9"/><circle cx="116.80" cy="306.12" r="1.9"/><circle cx="119.31" cy="300.47" r="1.9"/><circle cx="139.42" cy="297.64" r="1.9"/><circle cx="134.19" cy="311.98" r="1.9"/><circle cx="108.49" cy="307.72" r="1.9"/><circle cx="122.90" cy="280.47" r="1.9"/><circle cx="112.06" cy="297.30" r="1.9"/><circle cx="115.40" cy="310.19" r="1.9"/><circle cx="113.27" cy="292.66" r="1.9"/><circle cx="107.77" cy="295.18" r="1.9"/><circle cx="97.13" cy="305.66" r="1.9"/><circle cx="81.22" cy="291.19" r="1.9"/><circle cx="119.67" cy="288.62" r="1.9"/><circle cx="133.86" cy="295.92" r="1.9"/><circle cx="103.68" cy="284.71" r="1.9"/><circle cx="124.08" cy="306.28" r="1.9"/><circle cx="111.18" cy="282.10" r="1.9"/><circle cx="120.79" cy="310.07" r="1.9"/><circle cx="105.09" cy="281.85" r="1.9"/><circle cx="113.40" cy="299.58" r="1.9"/><circle cx="115.14" cy="285.25" r="1.9"/><circle cx="82.35" cy="290.91" r="1.9"/><circle cx="119.85" cy="310.11" r="1.9"/><circle cx="114.74" cy="310.23" r="1.9"/><circle cx="80.83" cy="306.34" r="1.9"/><circle cx="126.12" cy="300.40" r="1.9"/><circle cx="116.23" cy="300.65" r="1.9"/><circle cx="119.66" cy="302.44" r="1.9"/><circle cx="121.93" cy="306.53" r="1.9"/><circle cx="110.67" cy="294.83" r="1.9"/><circle cx="101.12" cy="307.74" r="1.9"/><circle cx="110.24" cy="301.77" r="1.9"/><circle cx="110.50" cy="309.73" r="1.9"/><circle cx="148.84" cy="309.67" r="1.9"/><circle cx="143.39" cy="310.70" r="1.9"/><circle cx="109.60" cy="291.45" r="1.9"/><circle cx="110.67" cy="294.66" r="1.9"/></g><g fill="url(#gB)"><circle cx="100.24" cy="287.58" r="1.9"/><circle cx="115.17" cy="299.47" r="1.9"/><circle cx="116.96" cy="310.87" r="1.9"/><circle cx="132.14" cy="303.94" r="1.9"/><circle cx="100.72" cy="275.97" r="1.9"/><circle cx="168.11" cy="299.62" r="1.9"/><circle cx="117.78" cy="287.82" r="1.9"/><circle cx="138.47" cy="292.07" r="1.9"/><circle cx="135.20" cy="283.97" r="1.9"/><circle cx="81.81" cy="281.44" r="1.9"/><circle cx="115.67" cy="281.58" r="1.9"/><circle cx="141.70" cy="298.50" r="1.9"/><circle cx="83.24" cy="285.45" r="1.9"/><circle cx="131.13" cy="281.52" r="1.9"/><circle cx="105.87" cy="274.45" r="1.9"/><circle cx="112.60" cy="286.21" r="1.9"/><circle cx="122.96" cy="297.80" r="1.9"/><circle cx="91.61" cy="290.81" r="1.9"/><circle cx="122.53" cy="291.55" r="1.9"/><circle cx="109.90" cy="261.43" r="1.9"/><circle cx="108.35" cy="285.31" r="1.9"/><circle cx="130.12" cy="287.11" r="1.9"/><circle cx="172.20" cy="298.17" r="1.9"/><circle cx="124.74" cy="282.02" r="1.9"/><circle cx="127.89" cy="289.36" r="1.9"/><circle cx="118.83" cy="285.73" r="1.9"/><circle cx="108.74" cy="312.99" r="1.9"/><circle cx="123.46" cy="298.34" r="1.9"/><circle cx="142.36" cy="294.02" r="1.9"/><circle cx="122.42" cy="291.68" r="1.9"/><circle cx="132.94" cy="292.96" r="1.9"/><circle cx="116.17" cy="292.59" r="1.9"/><circle cx="157.37" cy="294.90" r="1.9"/><circle cx="94.84" cy="286.97" r="1.9"/><circle cx="128.34" cy="301.99" r="1.9"/><circle cx="127.69" cy="300.20" r="1.9"/><circle cx="123.55" cy="294.95" r="1.9"/><circle cx="102.80" cy="300.03" r="1.9"/><circle cx="102.47" cy="290.43" r="1.9"/><circle cx="116.01" cy="282.49" r="1.9"/><circle cx="121.02" cy="276.79" r="1.9"/><circle cx="101.33" cy="282.31" r="1.9"/><circle cx="103.53" cy="288.15" r="1.9"/><circle cx="127.92" cy="296.51" r="1.9"/><circle cx="135.00" cy="303.63" r="1.9"/><circle cx="111.09" cy="285.11" r="1.9"/><circle cx="109.03" cy="282.74" r="1.9"/><circle cx="108.59" cy="296.24" r="1.9"/><circle cx="156.67" cy="308.39" r="1.9"/><circle cx="126.84" cy="288.77" r="1.9"/><circle cx="81.30" cy="247.00" r="1.9"/><circle cx="67.30" cy="254.80" r="1.9"/><circle cx="85.00" cy="253.60" r="1.9"/><circle cx="96.60" cy="261.00" r="1.9"/><circle cx="111.50" cy="265.00" r="1.9"/><circle cx="126.80" cy="267.60" r="1.9"/><circle cx="131.90" cy="261.00" r="1.9"/><circle cx="115.00" cy="274.00" r="1.9"/><circle cx="121.70" cy="274.00" r="1.9"/><circle cx="133.00" cy="277.80" r="1.9"/><circle cx="146.00" cy="270.00" r="1.9"/></g><g fill="url(#gR)"><circle cx="124.98" cy="335.97" r="1.9"/><circle cx="135.39" cy="328.19" r="1.9"/><circle cx="124.82" cy="324.99" r="1.9"/><circle cx="121.05" cy="334.51" r="1.9"/><circle cx="100.75" cy="327.45" r="1.9"/><circle cx="134.89" cy="331.19" r="1.9"/><circle cx="128.06" cy="330.92" r="1.9"/><circle cx="122.86" cy="333.81" r="1.9"/><circle cx="116.94" cy="327.88" r="1.9"/><circle cx="109.10" cy="333.31" r="1.9"/><circle cx="120.60" cy="332.99" r="1.9"/><circle cx="120.53" cy="339.19" r="1.9"/><circle cx="132.60" cy="339.74" r="1.9"/><circle cx="109.45" cy="333.89" r="1.9"/><circle cx="136.05" cy="331.72" r="1.9"/><circle cx="121.95" cy="331.47" r="1.9"/><circle cx="133.50" cy="329.07" r="1.9"/><circle cx="111.87" cy="345.85" r="1.9"/><circle cx="125.07" cy="329.97" r="1.9"/><circle cx="133.84" cy="335.80" r="1.9"/><circle cx="122.75" cy="338.81" r="1.9"/><circle cx="106.86" cy="320.60" r="1.9"/><circle cx="118.29" cy="325.44" r="1.9"/><circle cx="126.97" cy="329.25" r="1.9"/><circle cx="107.57" cy="322.85" r="1.9"/><circle cx="107.12" cy="321.20" r="1.9"/><circle cx="123.96" cy="328.09" r="1.9"/><circle cx="112.07" cy="336.83" r="1.9"/><circle cx="128.42" cy="335.98" r="1.9"/><circle cx="109.82" cy="329.18" r="1.9"/><circle cx="103.20" cy="328.15" r="1.9"/><circle cx="113.82" cy="319.93" r="1.9"/><circle cx="136.56" cy="337.04" r="1.9"/><circle cx="112.95" cy="331.93" r="1.9"/><circle cx="121.55" cy="324.45" r="1.9"/><circle cx="124.07" cy="332.33" r="1.9"/><circle cx="112.09" cy="328.21" r="1.9"/><circle cx="132.54" cy="329.38" r="1.9"/><circle cx="123.38" cy="325.28" r="1.9"/><circle cx="126.07" cy="327.50" r="1.9"/><circle cx="104.75" cy="322.75" r="1.9"/><circle cx="104.07" cy="330.81" r="1.9"/><circle cx="94.00" cy="328.74" r="1.9"/><circle cx="119.71" cy="332.35" r="1.9"/><circle cx="119.31" cy="329.36" r="1.9"/><circle cx="128.86" cy="329.48" r="1.9"/><circle cx="136.50" cy="344.86" r="1.9"/><circle cx="119.08" cy="319.56" r="1.9"/><circle cx="118.93" cy="337.31" r="1.9"/><circle cx="126.13" cy="333.50" r="1.9"/><circle cx="136.94" cy="333.47" r="1.9"/><circle cx="113.37" cy="326.57" r="1.9"/><circle cx="127.89" cy="330.44" r="1.9"/><circle cx="119.15" cy="323.51" r="1.9"/><circle cx="118.27" cy="322.20" r="1.9"/><circle cx="162.00" cy="318.00" r="1.9"/><circle cx="165.00" cy="321.00" r="1.9"/><circle cx="171.00" cy="323.00" r="1.9"/><circle cx="172.00" cy="333.00" r="1.9"/><circle cx="50.00" cy="258.00" r="1.9"/><circle cx="48.00" cy="268.00" r="1.9"/><circle cx="63.00" cy="287.00" r="1.9"/><circle cx="80.00" cy="280.00" r="1.9"/><circle cx="90.00" cy="296.00" r="1.9"/><circle cx="102.00" cy="315.00" r="1.9"/><circle cx="105.00" cy="312.00" r="1.9"/><circle cx="98.00" cy="310.00" r="1.9"/><circle cx="140.00" cy="318.00" r="1.9"/><circle cx="145.00" cy="322.00" r="1.9"/></g><line x1="17.50" y1="219.50" x2="23.00" y2="342.50" stroke="#333" stroke-width="0.9" /><line x1="17.51" y1="219.70" x2="15.51" y2="219.70" stroke="#333" stroke-width="0.7" /><text x="14.51" y="221.50" font-size="5" fill="#555" text-anchor="end" font-family='"Liberation Sans", sans-serif' font-weight="normal" >1.2</text><line x1="18.80" y1="248.50" x2="16.80" y2="248.50" stroke="#333" stroke-width="0.7" /><text x="15.80" y="250.30" font-size="5" fill="#555" text-anchor="end" font-family='"Liberation Sans", sans-serif' font-weight="normal" >1.0</text><line x1="20.07" y1="277.00" x2="18.07" y2="277.00" stroke="#333" stroke-width="0.7" /><text x="17.07" y="278.80" font-size="5" fill="#555" text-anchor="end" font-family='"Liberation Sans", sans-serif' font-weight="normal" >0.8</text><line x1="21.35" y1="305.50" x2="19.35" y2="305.50" stroke="#333" stroke-width="0.7" /><text x="18.35" y="307.30" font-size="5" fill="#555" text-anchor="end" font-family='"Liberation Sans", sans-serif' font-weight="normal" >0.6</text><line x1="22.55" y1="332.50" x2="20.55" y2="332.50" stroke="#333" stroke-width="0.7" /><text x="19.55" y="334.30" font-size="5" fill="#555" text-anchor="end" font-family='"Liberation Sans", sans-serif' font-weight="normal" >0.4</text><text x="0.00" y="0.00" font-size="5" fill="#555" text-anchor="middle" font-family='"Liberation Sans", sans-serif' font-weight="normal" transform="translate(9.6,283) rotate(-90)">IBDR</text><line x1="23.00" y1="342.50" x2="120.50" y2="379.00" stroke="#333" stroke-width="0.9" /><line x1="120.50" y1="379.00" x2="198.20" y2="337.80" stroke="#333" stroke-width="0.9" /><line x1="23.00" y1="342.50" x2="22.00" y2="344.70" stroke="#333" stroke-width="0.6" /><text x="0.00" y="0.00" font-size="4.2" fill="#666" text-anchor="end" font-family='"Liberation Sans", sans-serif' font-weight="normal" transform="translate(22.50,349.00) rotate(20.5)">1700</text><line x1="39.58" y1="348.70" x2="38.58" y2="350.90" stroke="#333" stroke-width="0.6" /><text x="0.00" y="0.00" font-size="4.2" fill="#666" text-anchor="end" font-family='"Liberation Sans", sans-serif' font-weight="normal" transform="translate(39.08,355.20) rotate(20.5)">1800</text><line x1="56.15" y1="354.91" x2="55.15" y2="357.11" stroke="#333" stroke-width="0.6" /><text x="0.00" y="0.00" font-size="4.2" fill="#666" text-anchor="end" font-family='"Liberation Sans", sans-serif' font-weight="normal" transform="translate(55.65,361.41) rotate(20.5)">1900</text><line x1="72.72" y1="361.12" x2="71.72" y2="363.31" stroke="#333" stroke-width="0.6" /><text x="0.00" y="0.00" font-size="4.2" fill="#666" text-anchor="end" font-family='"Liberation Sans", sans-serif' font-weight="normal" transform="translate(72.22,367.62) rotate(20.5)">2000</text><line x1="89.30" y1="367.32" x2="88.30" y2="369.52" stroke="#333" stroke-width="0.6" /><text x="0.00" y="0.00" font-size="4.2" fill="#666" text-anchor="end" font-family='"Liberation Sans", sans-serif' font-weight="normal" transform="translate(88.80,373.82) rotate(20.5)">2100</text><line x1="105.88" y1="373.52" x2="104.88" y2="375.72" stroke="#333" stroke-width="0.6" /><text x="0.00" y="0.00" font-size="4.2" fill="#666" text-anchor="end" font-family='"Liberation Sans", sans-serif' font-weight="normal" transform="translate(105.38,380.02) rotate(20.5)">2200</text><line x1="120.50" y1="379.00" x2="119.50" y2="381.20" stroke="#333" stroke-width="0.6" /><text x="0.00" y="0.00" font-size="4.2" fill="#666" text-anchor="end" font-family='"Liberation Sans", sans-serif' font-weight="normal" transform="translate(120.00,385.50) rotate(20.5)">2300</text><text x="0.00" y="0.00" font-size="5" fill="#666" text-anchor="middle" font-family='"Liberation Sans", sans-serif' font-weight="normal" transform="translate(52,367) rotate(20.5)">Band Center <tspan font-family='"Liberation Serif", serif'>II</tspan> (nm)</text><line x1="120.50" y1="379.00" x2="121.50" y2="381.20" stroke="#333" stroke-width="0.6" /><text x="0.00" y="0.00" font-size="4.2" fill="#666" text-anchor="start" font-family='"Liberation Sans", sans-serif' font-weight="normal" transform="translate(123.00,385.00) rotate(-27.9)">900</text><line x1="136.04" y1="370.76" x2="137.04" y2="372.96" stroke="#333" stroke-width="0.6" /><text x="0.00" y="0.00" font-size="4.2" fill="#666" text-anchor="start" font-family='"Liberation Sans", sans-serif' font-weight="normal" transform="translate(138.54,376.76) rotate(-27.9)">950</text><line x1="151.58" y1="362.52" x2="152.58" y2="364.72" stroke="#333" stroke-width="0.6" /><text x="0.00" y="0.00" font-size="4.2" fill="#666" text-anchor="start" font-family='"Liberation Sans", sans-serif' font-weight="normal" transform="translate(154.08,368.52) rotate(-27.9)">1000</text><line x1="167.12" y1="354.28" x2="168.12" y2="356.48" stroke="#333" stroke-width="0.6" /><text x="0.00" y="0.00" font-size="4.2" fill="#666" text-anchor="start" font-family='"Liberation Sans", sans-serif' font-weight="normal" transform="translate(169.62,360.28) rotate(-27.9)">1050</text><line x1="182.66" y1="346.04" x2="183.66" y2="348.24" stroke="#333" stroke-width="0.6" /><text x="0.00" y="0.00" font-size="4.2" fill="#666" text-anchor="start" font-family='"Liberation Sans", sans-serif' font-weight="normal" transform="translate(185.16,352.04) rotate(-27.9)">1100</text><line x1="198.20" y1="337.80" x2="199.20" y2="340.00" stroke="#333" stroke-width="0.6" /><text x="0.00" y="0.00" font-size="4.2" fill="#666" text-anchor="start" font-family='"Liberation Sans", sans-serif' font-weight="normal" transform="translate(200.70,343.80) rotate(-27.9)">1150</text><text x="0.00" y="0.00" font-size="4.6" fill="#666" text-anchor="middle" font-family='"Liberation Sans", sans-serif' font-weight="normal" transform="translate(172.5,368) rotate(-27.9)">Band Center <tspan font-family='"Liberation Serif", serif'>I</tspan> (nm)</text><rect x="156.1" y="219.9" width="40.3" height="49.5" fill="#fff" stroke="#777" stroke-width="0.7"/><circle cx="167.6" cy="230.1" r="2.4" fill="url(#gR)"/><text x="178.60" y="232.70" font-size="7.4" fill="#222" text-anchor="start" font-family='"Liberation Sans", sans-serif' font-weight="normal" >Im 1</text><circle cx="167.6" cy="240" r="2.4" fill="url(#gG)"/><text x="178.60" y="242.60" font-size="7.4" fill="#222" text-anchor="start" font-family='"Liberation Sans", sans-serif' font-weight="normal" >Im 2</text><circle cx="167.6" cy="249.7" r="2.4" fill="url(#gB)"/><text x="178.60" y="252.30" font-size="7.4" fill="#222" text-anchor="start" font-family='"Liberation Sans", sans-serif' font-weight="normal" >Im 3</text><circle cx="167.6" cy="259.8" r="2.4" fill="url(#gK)"/><text x="178.60" y="262.40" font-size="7.4" fill="#222" text-anchor="start" font-family='"Liberation Sans", sans-serif' font-weight="normal" >Elm</text><text x="2.40" y="207.00" font-size="14" fill="#111" text-anchor="start" font-family='"Liberation Serif", serif' font-weight="bold" >(c)</text><clipPath id="cd"><rect x="247.5" y="210" width="136.4" height="160.3"/></clipPath><g clip-path="url(#cd)"><path d="M247.50,364.90 C248.78,364.58 252.55,363.72 255.20,363.00 C257.85,362.28 260.87,361.03 263.40,360.60 C265.93,360.17 268.17,360.53 270.40,360.40 C272.63,360.27 274.67,360.23 276.80,359.80 C278.93,359.37 280.02,359.33 283.20,357.80 C286.38,356.27 291.43,352.90 295.90,350.60 C300.37,348.30 305.35,345.47 310.00,344.00 C314.65,342.53 319.20,342.32 323.80,341.80 C328.40,341.28 333.23,341.33 337.60,340.90 C341.97,340.47 345.40,340.42 350.00,339.20 C354.60,337.98 361.05,335.20 365.20,333.60 C369.35,332.00 371.78,330.77 374.90,329.60 C378.02,328.43 382.40,327.10 383.90,326.60" stroke="#cfcfcf" stroke-width="1.4" fill="none" stroke-linejoin="round" stroke-linecap="round" /><path d="M247.50,367.60 C248.78,367.27 252.55,366.33 255.20,365.60 C257.85,364.87 260.87,363.70 263.40,363.20 C265.93,362.70 268.17,362.82 270.40,362.60 C272.63,362.38 274.67,362.40 276.80,361.90 C278.93,361.40 280.02,361.08 283.20,359.60 C286.38,358.12 291.43,354.93 295.90,353.00 C300.37,351.07 305.35,349.37 310.00,348.00 C314.65,346.63 319.20,345.57 323.80,344.80 C328.40,344.03 333.23,343.95 337.60,343.40 C341.97,342.85 345.40,342.80 350.00,341.50 C354.60,340.20 361.05,337.25 365.20,335.60 C369.35,333.95 371.78,332.73 374.90,331.60 C378.02,330.47 382.40,329.27 383.90,328.80" stroke="#2e8b2e" stroke-width="1.4" fill="none" stroke-linejoin="round" stroke-linecap="round" /><path d="M247.50,366.60 C248.78,366.27 252.55,365.33 255.20,364.60 C257.85,363.87 260.87,362.70 263.40,362.20 C265.93,361.70 268.17,361.82 270.40,361.60 C272.63,361.38 274.67,361.40 276.80,360.90 C278.93,360.40 280.02,360.08 283.20,358.60 C286.38,357.12 291.43,353.97 295.90,352.00 C300.37,350.03 305.35,348.20 310.00,346.80 C314.65,345.40 319.20,344.37 323.80,343.60 C328.40,342.83 333.23,342.75 337.60,342.20 C341.97,341.65 345.40,341.60 350.00,340.30 C354.60,339.00 361.05,336.02 365.20,334.40 C369.35,332.78 371.78,331.73 374.90,330.60 C378.02,329.47 382.40,328.10 383.90,327.60" stroke="#33ee33" stroke-width="1.4" fill="none" stroke-linejoin="round" stroke-linecap="round" /><path d="M247.50,363.80 C248.78,363.47 252.55,362.58 255.20,361.80 C257.85,361.02 260.87,359.57 263.40,359.10 C265.93,358.63 268.17,359.07 270.40,359.00 C272.63,358.93 274.67,359.17 276.80,358.70 C278.93,358.23 280.02,357.78 283.20,356.20 C286.38,354.62 291.43,351.38 295.90,349.20 C300.37,347.02 305.35,344.52 310.00,343.10 C314.65,341.68 319.20,341.20 323.80,340.70 C328.40,340.20 333.23,340.50 337.60,340.10 C341.97,339.70 345.40,339.52 350.00,338.30 C354.60,337.08 361.05,334.35 365.20,332.80 C369.35,331.25 371.78,330.13 374.90,329.00 C378.02,327.87 382.40,326.50 383.90,326.00" stroke="#3333ff" stroke-width="1.4" fill="none" stroke-linejoin="round" stroke-linecap="round" /><path d="M247.50,359.60 C248.78,359.03 252.55,357.32 255.20,356.20 C257.85,355.08 260.87,353.38 263.40,352.90 C265.93,352.42 268.17,353.30 270.40,353.30 C272.63,353.30 274.67,353.25 276.80,352.90 C278.93,352.55 281.28,351.88 283.20,351.20 C285.12,350.52 286.17,349.87 288.30,348.80 C290.43,347.73 293.05,346.23 296.00,344.80 C298.95,343.37 302.28,341.60 306.00,340.20 C309.72,338.80 314.18,337.22 318.30,336.40 C322.42,335.58 326.33,335.67 330.70,335.30 C335.07,334.93 340.58,334.72 344.50,334.20 C348.42,333.68 350.75,333.03 354.20,332.20 C357.65,331.37 361.75,330.33 365.20,329.20 C368.65,328.07 371.78,326.50 374.90,325.40 C378.02,324.30 382.40,323.07 383.90,322.60" stroke="#ff3030" stroke-width="1.4" fill="none" stroke-linejoin="round" stroke-linecap="round" /><path d="M247.50,362.50 C248.78,362.12 252.55,361.05 255.20,360.20 C257.85,359.35 260.87,357.87 263.40,357.40 C265.93,356.93 268.17,357.53 270.40,357.40 C272.63,357.27 274.88,357.22 276.80,356.60 C278.72,355.98 279.98,354.90 281.90,353.70 C283.82,352.50 285.95,350.78 288.30,349.40 C290.65,348.02 293.05,346.90 296.00,345.40 C298.95,343.90 302.28,341.90 306.00,340.40 C309.72,338.90 314.18,337.25 318.30,336.40 C322.42,335.55 326.33,335.70 330.70,335.30 C335.07,334.90 340.58,334.62 344.50,334.00 C348.42,333.38 350.75,332.80 354.20,331.60 C357.65,330.40 361.75,328.53 365.20,326.80 C368.65,325.07 371.78,322.80 374.90,321.20 C378.02,319.60 382.40,317.87 383.90,317.20" stroke="#993333" stroke-width="1.4" fill="none" stroke-linejoin="round" stroke-linecap="round" /><path d="M247.50,362.20 C248.78,361.83 252.55,360.78 255.20,360.00 C257.85,359.22 260.87,357.95 263.40,357.50 C265.93,357.05 268.17,357.45 270.40,357.30 C272.63,357.15 274.88,357.25 276.80,356.60 C278.72,355.95 279.98,354.67 281.90,353.40 C283.82,352.13 285.95,350.40 288.30,349.00 C290.65,347.60 293.05,346.50 296.00,345.00 C298.95,343.50 302.28,341.50 306.00,340.00 C309.72,338.50 314.18,336.85 318.30,336.00 C322.42,335.15 326.33,335.30 330.70,334.90 C335.07,334.50 340.58,334.25 344.50,333.60 C348.42,332.95 350.75,332.27 354.20,331.00 C357.65,329.73 361.75,327.77 365.20,326.00 C368.65,324.23 371.78,322.03 374.90,320.40 C378.02,318.77 382.40,316.90 383.90,316.20" stroke="#808080" stroke-width="1.4" fill="none" stroke-linejoin="round" stroke-linecap="round" /><path d="M247.50,363.40 C248.78,363.00 252.55,361.93 255.20,361.00 C257.85,360.07 260.87,358.33 263.40,357.80 C265.93,357.27 268.17,357.97 270.40,357.80 C272.63,357.63 274.88,357.50 276.80,356.80 C278.72,356.10 279.98,354.87 281.90,353.60 C283.82,352.33 285.95,350.57 288.30,349.20 C290.65,347.83 293.05,346.88 296.00,345.40 C298.95,343.92 302.28,341.83 306.00,340.30 C309.72,338.77 314.18,337.07 318.30,336.20 C322.42,335.33 326.33,335.50 330.70,335.10 C335.07,334.70 340.58,334.42 344.50,333.80 C348.42,333.18 350.75,332.60 354.20,331.40 C357.65,330.20 361.75,328.33 365.20,326.60 C368.65,324.87 371.78,322.60 374.90,321.00 C378.02,319.40 382.40,317.67 383.90,317.00" stroke="#333399" stroke-width="1.4" fill="none" stroke-linejoin="round" stroke-linecap="round" /><path d="M247.50,343.40 C248.75,342.67 252.67,340.60 255.00,339.00 C257.33,337.40 259.67,335.03 261.50,333.80 C263.33,332.57 264.58,332.15 266.00,331.60 C267.42,331.05 268.20,331.43 270.00,330.50 C271.80,329.57 274.30,327.67 276.80,326.00 C279.30,324.33 282.47,322.08 285.00,320.50 C287.53,318.92 289.50,317.75 292.00,316.50 C294.50,315.25 297.50,314.33 300.00,313.00 C302.50,311.67 304.67,309.90 307.00,308.50 C309.33,307.10 311.50,305.58 314.00,304.60 C316.50,303.62 319.33,303.27 322.00,302.60 C324.67,301.93 327.50,301.43 330.00,300.60 C332.50,299.77 334.67,298.70 337.00,297.60 C339.33,296.50 341.67,295.27 344.00,294.00 C346.33,292.73 348.67,291.35 351.00,290.00 C353.33,288.65 355.67,287.20 358.00,285.90 C360.33,284.60 362.67,283.37 365.00,282.20 C367.33,281.03 369.83,279.83 372.00,278.90 C374.17,277.97 376.02,277.27 378.00,276.60 C379.98,275.93 382.92,275.18 383.90,274.90" stroke="#993399" stroke-width="1.4" fill="none" stroke-linejoin="round" stroke-linecap="round" /><path d="M247.50,337.30 C248.75,336.25 252.67,333.05 255.00,331.00 C257.33,328.95 259.67,326.37 261.50,325.00 C263.33,323.63 264.42,323.38 266.00,322.80 C267.58,322.22 269.33,322.22 271.00,321.50 C272.67,320.78 274.00,320.25 276.00,318.50 C278.00,316.75 280.33,313.75 283.00,311.00 C285.67,308.25 289.17,304.83 292.00,302.00 C294.83,299.17 297.50,296.08 300.00,294.00 C302.50,291.92 304.67,290.62 307.00,289.50 C309.33,288.38 311.50,287.83 314.00,287.30 C316.50,286.77 319.33,286.75 322.00,286.30 C324.67,285.85 327.50,285.08 330.00,284.60 C332.50,284.12 334.67,283.95 337.00,283.40 C339.33,282.85 341.67,282.28 344.00,281.30 C346.33,280.32 348.67,278.98 351.00,277.50 C353.33,276.02 355.67,274.23 358.00,272.40 C360.33,270.57 362.67,268.47 365.00,266.50 C367.33,264.53 369.83,262.28 372.00,260.60 C374.17,258.92 376.02,257.67 378.00,256.40 C379.98,255.13 382.92,253.57 383.90,253.00" stroke="#9933ff" stroke-width="1.4" fill="none" stroke-linejoin="round" stroke-linecap="round" /></g><line x1="249.20" y1="214.90" x2="263.60" y2="214.90" stroke="#ff3030" stroke-width="1.6" /><text x="265.40" y="217.10" font-size="6.1" fill="#222" text-anchor="start" font-family='"Liberation Sans", sans-serif' font-weight="normal" >Im1 #349</text><line x1="249.20" y1="222.33" x2="263.60" y2="222.33" stroke="#993333" stroke-width="1.6" /><text x="265.40" y="224.53" font-size="6.1" fill="#222" text-anchor="start" font-family='"Liberation Sans", sans-serif' font-weight="normal" >Im1 #369</text><line x1="249.20" y1="229.76" x2="263.60" y2="229.76" stroke="#33ee33" stroke-width="1.6" /><text x="265.40" y="231.96" font-size="6.1" fill="#222" text-anchor="start" font-family='"Liberation Sans", sans-serif' font-weight="normal" >Im2 #258</text><line x1="249.20" y1="237.19" x2="263.60" y2="237.19" stroke="#2e8b2e" stroke-width="1.6" /><text x="265.40" y="239.39" font-size="6.1" fill="#222" text-anchor="start" font-family='"Liberation Sans", sans-serif' font-weight="normal" >Im2 #965</text><line x1="249.20" y1="244.62" x2="263.60" y2="244.62" stroke="#3333ff" stroke-width="1.6" /><text x="265.40" y="246.82" font-size="6.1" fill="#222" text-anchor="start" font-family='"Liberation Sans", sans-serif' font-weight="normal" >Im3 #674</text><line x1="249.20" y1="252.05" x2="263.60" y2="252.05" stroke="#333399" stroke-width="1.6" /><text x="265.40" y="254.25" font-size="6.1" fill="#222" text-anchor="start" font-family='"Liberation Sans", sans-serif' font-weight="normal" >Im3 #1467</text><line x1="249.20" y1="259.48" x2="263.60" y2="259.48" stroke="#808080" stroke-width="1.6" /><text x="265.40" y="261.68" font-size="6.1" fill="#222" text-anchor="start" font-family='"Liberation Sans", sans-serif' font-weight="normal" >Elm #406</text><line x1="249.20" y1="266.91" x2="263.60" y2="266.91" stroke="#cfcfcf" stroke-width="1.6" /><text x="265.40" y="269.11" font-size="6.1" fill="#222" text-anchor="start" font-family='"Liberation Sans", sans-serif' font-weight="normal" >Elm #1107</text><line x1="249.20" y1="274.34" x2="263.60" y2="274.34" stroke="#9933ff" stroke-width="1.6" /><text x="265.40" y="276.54" font-size="6.1" fill="#222" text-anchor="start" font-family='"Liberation Sans", sans-serif' font-weight="normal" >Highland #1651</text><line x1="249.20" y1="281.77" x2="263.60" y2="281.77" stroke="#993399" stroke-width="1.6" /><text x="265.40" y="283.97" font-size="6.1" fill="#222" text-anchor="start" font-family='"Liberation Sans", sans-serif' font-weight="normal" >Highland #2158</text><rect x="247.5" y="210.0" width="136.39999999999998" height="160.3" fill="none" stroke="#6e6e6e" stroke-width="0.9"/><line x1="247.50" y1="367.00" x2="249.50" y2="367.00" stroke="#333" stroke-width="0.6" /><line x1="383.90" y1="367.00" x2="381.90" y2="367.00" stroke="#333" stroke-width="0.6" /><text x="244.60" y="368.80" font-size="5.2" fill="#555" text-anchor="end" font-family='"Liberation Sans", sans-serif' font-weight="normal" >0.05</text><line x1="247.50" y1="357.19" x2="248.70" y2="357.19" stroke="#333" stroke-width="0.6" /><line x1="383.90" y1="357.19" x2="382.70" y2="357.19" stroke="#333" stroke-width="0.6" /><line x1="247.50" y1="347.38" x2="249.50" y2="347.38" stroke="#333" stroke-width="0.6" /><line x1="383.90" y1="347.38" x2="381.90" y2="347.38" stroke="#333" stroke-width="0.6" /><text x="244.60" y="349.18" font-size="5.2" fill="#555" text-anchor="end" font-family='"Liberation Sans", sans-serif' font-weight="normal" >0.10</text><line x1="247.50" y1="337.56" x2="248.70" y2="337.56" stroke="#333" stroke-width="0.6" /><line x1="383.90" y1="337.56" x2="382.70" y2="337.56" stroke="#333" stroke-width="0.6" /><line x1="247.50" y1="327.75" x2="249.50" y2="327.75" stroke="#333" stroke-width="0.6" /><line x1="383.90" y1="327.75" x2="381.90" y2="327.75" stroke="#333" stroke-width="0.6" /><text x="244.60" y="329.55" font-size="5.2" fill="#555" text-anchor="end" font-family='"Liberation Sans", sans-serif' font-weight="normal" >0.15</text><line x1="247.50" y1="317.94" x2="248.70" y2="317.94" stroke="#333" stroke-width="0.6" /><line x1="383.90" y1="317.94" x2="382.70" y2="317.94" stroke="#333" stroke-width="0.6" /><line x1="247.50" y1="308.12" x2="249.50" y2="308.12" stroke="#333" stroke-width="0.6" /><line x1="383.90" y1="308.12" x2="381.90" y2="308.12" stroke="#333" stroke-width="0.6" /><text x="244.60" y="309.93" font-size="5.2" fill="#555" text-anchor="end" font-family='"Liberation Sans", sans-serif' font-weight="normal" >0.20</text><line x1="247.50" y1="298.31" x2="248.70" y2="298.31" stroke="#333" stroke-width="0.6" /><line x1="383.90" y1="298.31" x2="382.70" y2="298.31" stroke="#333" stroke-width="0.6" /><line x1="247.50" y1="288.50" x2="249.50" y2="288.50" stroke="#333" stroke-width="0.6" /><line x1="383.90" y1="288.50" x2="381.90" y2="288.50" stroke="#333" stroke-width="0.6" /><text x="244.60" y="290.30" font-size="5.2" fill="#555" text-anchor="end" font-family='"Liberation Sans", sans-serif' font-weight="normal" >0.25</text><line x1="247.50" y1="278.69" x2="248.70" y2="278.69" stroke="#333" stroke-width="0.6" /><line x1="383.90" y1="278.69" x2="382.70" y2="278.69" stroke="#333" stroke-width="0.6" /><line x1="247.50" y1="268.88" x2="249.50" y2="268.88" stroke="#333" stroke-width="0.6" /><line x1="383.90" y1="268.88" x2="381.90" y2="268.88" stroke="#333" stroke-width="0.6" /><text x="244.60" y="270.68" font-size="5.2" fill="#555" text-anchor="end" font-family='"Liberation Sans", sans-serif' font-weight="normal" >0.30</text><line x1="247.50" y1="259.06" x2="248.70" y2="259.06" stroke="#333" stroke-width="0.6" /><line x1="383.90" y1="259.06" x2="382.70" y2="259.06" stroke="#333" stroke-width="0.6" /><line x1="247.50" y1="249.25" x2="249.50" y2="249.25" stroke="#333" stroke-width="0.6" /><line x1="383.90" y1="249.25" x2="381.90" y2="249.25" stroke="#333" stroke-width="0.6" /><text x="244.60" y="251.05" font-size="5.2" fill="#555" text-anchor="end" font-family='"Liberation Sans", sans-serif' font-weight="normal" >0.35</text><line x1="247.50" y1="239.44" x2="248.70" y2="239.44" stroke="#333" stroke-width="0.6" /><line x1="383.90" y1="239.44" x2="382.70" y2="239.44" stroke="#333" stroke-width="0.6" /><line x1="247.50" y1="229.62" x2="249.50" y2="229.62" stroke="#333" stroke-width="0.6" /><line x1="383.90" y1="229.62" x2="381.90" y2="229.62" stroke="#333" stroke-width="0.6" /><text x="244.60" y="231.43" font-size="5.2" fill="#555" text-anchor="end" font-family='"Liberation Sans", sans-serif' font-weight="normal" >0.40</text><line x1="247.50" y1="219.81" x2="248.70" y2="219.81" stroke="#333" stroke-width="0.6" /><line x1="383.90" y1="219.81" x2="382.70" y2="219.81" stroke="#333" stroke-width="0.6" /><line x1="247.50" y1="210.00" x2="249.50" y2="210.00" stroke="#333" stroke-width="0.6" /><line x1="383.90" y1="210.00" x2="381.90" y2="210.00" stroke="#333" stroke-width="0.6" /><text x="244.60" y="211.80" font-size="5.2" fill="#555" text-anchor="end" font-family='"Liberation Sans", sans-serif' font-weight="normal" >0.45</text><line x1="260.70" y1="370.30" x2="260.70" y2="369.10" stroke="#333" stroke-width="0.6" /><line x1="260.70" y1="210.00" x2="260.70" y2="211.20" stroke="#333" stroke-width="0.6" /><line x1="277.30" y1="370.30" x2="277.30" y2="368.30" stroke="#333" stroke-width="0.6" /><line x1="277.30" y1="210.00" x2="277.30" y2="212.00" stroke="#333" stroke-width="0.6" /><text x="277.30" y="377.40" font-size="5.5" fill="#555" text-anchor="middle" font-family='"Liberation Sans", sans-serif' font-weight="normal" >1000</text><line x1="293.90" y1="370.30" x2="293.90" y2="369.10" stroke="#333" stroke-width="0.6" /><line x1="293.90" y1="210.00" x2="293.90" y2="211.20" stroke="#333" stroke-width="0.6" /><line x1="310.50" y1="370.30" x2="310.50" y2="368.30" stroke="#333" stroke-width="0.6" /><line x1="310.50" y1="210.00" x2="310.50" y2="212.00" stroke="#333" stroke-width="0.6" /><text x="310.50" y="377.40" font-size="5.5" fill="#555" text-anchor="middle" font-family='"Liberation Sans", sans-serif' font-weight="normal" >1500</text><line x1="327.10" y1="370.30" x2="327.10" y2="369.10" stroke="#333" stroke-width="0.6" /><line x1="327.10" y1="210.00" x2="327.10" y2="211.20" stroke="#333" stroke-width="0.6" /><line x1="343.70" y1="370.30" x2="343.70" y2="368.30" stroke="#333" stroke-width="0.6" /><line x1="343.70" y1="210.00" x2="343.70" y2="212.00" stroke="#333" stroke-width="0.6" /><text x="343.70" y="377.40" font-size="5.5" fill="#555" text-anchor="middle" font-family='"Liberation Sans", sans-serif' font-weight="normal" >2000</text><line x1="360.30" y1="370.30" x2="360.30" y2="369.10" stroke="#333" stroke-width="0.6" /><line x1="360.30" y1="210.00" x2="360.30" y2="211.20" stroke="#333" stroke-width="0.6" /><line x1="376.90" y1="370.30" x2="376.90" y2="368.30" stroke="#333" stroke-width="0.6" /><line x1="376.90" y1="210.00" x2="376.90" y2="212.00" stroke="#333" stroke-width="0.6" /><text x="376.90" y="377.40" font-size="5.5" fill="#555" text-anchor="middle" font-family='"Liberation Sans", sans-serif' font-weight="normal" >2500</text><text x="292.50" y="388.40" font-size="6.3" fill="#333" text-anchor="start" font-family='"Liberation Sans", sans-serif' font-weight="normal" >Wavelength(nm)</text><text x="0.00" y="0.00" font-size="6" fill="#333" text-anchor="middle" font-family='"Liberation Sans", sans-serif' font-weight="normal" transform="translate(226.4,294.5) rotate(-90)">Reflectance</text><text x="215.40" y="210.30" font-size="14" fill="#111" text-anchor="start" font-family='"Liberation Serif", serif' font-weight="bold" >(d)</text><line x1="441.90" y1="210.00" x2="441.90" y2="371.90" stroke="#666" stroke-width="0.8" /><line x1="507.50" y1="210.00" x2="507.50" y2="371.90" stroke="#444" stroke-width="0.8" /><clipPath id="ce"><rect x="412" y="210" width="134.5" height="161.9"/></clipPath><g clip-path="url(#ce)"><path d="M412.10,213.70 C413.42,213.68 417.67,213.68 420.00,213.60 C422.33,213.52 424.43,212.80 426.10,213.20 C427.77,213.60 428.58,215.13 430.00,216.00 C431.42,216.87 433.27,218.15 434.60,218.40 C435.93,218.65 436.77,217.88 438.00,217.50 C439.23,217.12 440.00,216.63 442.00,216.10 C444.00,215.57 447.37,214.75 450.00,214.30 C452.63,213.85 455.47,213.45 457.80,213.40 C460.13,213.35 461.80,213.67 464.00,214.00 C466.20,214.33 468.67,214.90 471.00,215.40 C473.33,215.90 475.80,216.45 478.00,217.00 C480.20,217.55 481.37,218.07 484.20,218.70 C487.03,219.33 491.27,220.27 495.00,220.80 C498.73,221.33 503.27,221.90 506.60,221.90 C509.93,221.90 512.15,221.38 515.00,220.80 C517.85,220.22 520.37,219.28 523.70,218.40 C527.03,217.52 531.20,216.33 535.00,215.50 C538.80,214.67 544.58,213.75 546.50,213.40" stroke="#993399" stroke-width="1.45" fill="none" stroke-linejoin="round" stroke-linecap="round" /><path d="M412.10,225.60 C413.42,225.47 417.45,225.18 420.00,224.80 C422.55,224.42 425.40,222.90 427.40,223.30 C429.40,223.70 430.45,226.07 432.00,227.20 C433.55,228.33 435.37,229.70 436.70,230.10 C438.03,230.50 438.68,229.88 440.00,229.60 C441.32,229.32 442.77,229.03 444.60,228.40 C446.43,227.77 448.80,226.62 451.00,225.80 C453.20,224.98 455.63,223.70 457.80,223.50 C459.97,223.30 461.80,224.08 464.00,224.60 C466.20,225.12 468.67,225.90 471.00,226.60 C473.33,227.30 475.80,228.08 478.00,228.80 C480.20,229.52 481.37,230.03 484.20,230.90 C487.03,231.77 491.27,233.17 495.00,234.00 C498.73,234.83 503.27,235.73 506.60,235.90 C509.93,236.07 512.15,235.53 515.00,235.00 C517.85,234.47 520.37,233.78 523.70,232.70 C527.03,231.62 531.20,230.02 535.00,228.50 C538.80,226.98 544.58,224.42 546.50,223.60" stroke="#9933ff" stroke-width="1.45" fill="none" stroke-linejoin="round" stroke-linecap="round" /><path d="M412.10,238.50 C413.08,238.45 415.88,238.42 418.00,238.20 C420.12,237.98 423.13,236.90 424.80,237.20 C426.47,237.50 426.90,238.87 428.00,240.00 C429.10,241.13 430.32,242.58 431.40,244.00 C432.48,245.42 433.40,247.20 434.50,248.50 C435.60,249.80 436.92,251.25 438.00,251.80 C439.08,252.35 439.90,252.12 441.00,251.80 C442.10,251.48 442.93,251.03 444.60,249.90 C446.27,248.77 448.80,246.55 451.00,245.00 C453.20,243.45 455.63,241.67 457.80,240.60 C459.97,239.53 461.80,239.03 464.00,238.60 C466.20,238.17 468.67,237.83 471.00,238.00 C473.33,238.17 475.80,238.95 478.00,239.60 C480.20,240.25 481.37,240.75 484.20,241.90 C487.03,243.05 491.27,245.17 495.00,246.50 C498.73,247.83 503.27,249.38 506.60,249.90 C509.93,250.42 512.15,250.05 515.00,249.60 C517.85,249.15 520.37,248.38 523.70,247.20 C527.03,246.02 531.20,244.25 535.00,242.50 C538.80,240.75 544.58,237.67 546.50,236.70" stroke="#cccccc" stroke-width="1.45" fill="none" stroke-linejoin="round" stroke-linecap="round" /><path d="M412.10,254.60 C413.08,254.58 415.88,254.55 418.00,254.50 C420.12,254.45 423.13,253.80 424.80,254.30 C426.47,254.80 426.90,256.27 428.00,257.50 C429.10,258.73 430.07,260.12 431.40,261.70 C432.73,263.28 434.47,265.40 436.00,267.00 C437.53,268.60 439.10,271.13 440.60,271.30 C442.10,271.47 443.45,269.60 445.00,268.00 C446.55,266.40 447.90,263.45 449.90,261.70 C451.90,259.95 454.37,258.60 457.00,257.50 C459.63,256.40 463.20,255.52 465.70,255.10 C468.20,254.68 469.80,254.90 472.00,255.00 C474.20,255.10 475.57,254.73 478.90,255.70 C482.23,256.67 487.38,258.92 492.00,260.80 C496.62,262.68 502.77,265.93 506.60,267.00 C510.43,268.07 512.15,267.42 515.00,267.20 C517.85,266.98 520.37,266.82 523.70,265.70 C527.03,264.58 531.20,262.35 535.00,260.50 C538.80,258.65 544.58,255.58 546.50,254.60" stroke="#808080" stroke-width="1.45" fill="none" stroke-linejoin="round" stroke-linecap="round" /><path d="M412.10,274.90 C413.08,274.85 415.88,274.73 418.00,274.60 C420.12,274.47 423.05,273.73 424.80,274.10 C426.55,274.47 427.18,275.78 428.50,276.80 C429.82,277.82 431.28,279.00 432.70,280.20 C434.12,281.40 435.45,282.93 437.00,284.00 C438.55,285.07 440.42,286.60 442.00,286.60 C443.58,286.60 444.97,285.07 446.50,284.00 C448.03,282.93 449.28,281.23 451.20,280.20 C453.12,279.17 455.58,278.47 458.00,277.80 C460.42,277.13 463.37,276.67 465.70,276.20 C468.03,275.73 469.80,275.35 472.00,275.00 C474.20,274.65 476.73,273.93 478.90,274.10 C481.07,274.27 482.80,275.20 485.00,276.00 C487.20,276.80 489.60,277.90 492.10,278.90 C494.60,279.90 497.58,281.12 500.00,282.00 C502.42,282.88 504.10,283.90 506.60,284.20 C509.10,284.50 512.15,284.25 515.00,283.80 C517.85,283.35 520.37,282.55 523.70,281.50 C527.03,280.45 531.20,278.82 535.00,277.50 C538.80,276.18 544.58,274.25 546.50,273.60" stroke="#333399" stroke-width="1.45" fill="none" stroke-linejoin="round" stroke-linecap="round" /><path d="M412.10,289.10 C413.42,288.97 417.53,288.07 420.00,288.30 C422.47,288.53 425.07,289.47 426.90,290.50 C428.73,291.53 429.65,293.13 431.00,294.50 C432.35,295.87 433.75,297.45 435.00,298.70 C436.25,299.95 437.35,301.18 438.50,302.00 C439.65,302.82 440.82,303.37 441.90,303.60 C442.98,303.83 443.87,303.67 445.00,303.40 C446.13,303.13 447.45,302.73 448.70,302.00 C449.95,301.27 451.13,300.02 452.50,299.00 C453.87,297.98 454.48,297.15 456.90,295.90 C459.32,294.65 463.35,292.77 467.00,291.50 C470.65,290.23 475.80,288.63 478.80,288.30 C481.80,287.97 482.73,288.92 485.00,289.50 C487.27,290.08 489.90,290.88 492.40,291.80 C494.90,292.72 497.48,293.95 500.00,295.00 C502.52,296.05 505.50,297.33 507.50,298.10 C509.50,298.87 510.42,299.28 512.00,299.60 C513.58,299.92 514.83,300.27 517.00,300.00 C519.17,299.73 522.27,298.90 525.00,298.00 C527.73,297.10 530.90,295.63 533.40,294.60 C535.90,293.57 537.82,292.72 540.00,291.80 C542.18,290.88 545.42,289.55 546.50,289.10" stroke="#3333ff" stroke-width="1.45" fill="none" stroke-linejoin="round" stroke-linecap="round" /><path d="M411.80,305.50 C412.83,305.52 415.72,305.52 418.00,305.60 C420.28,305.68 423.83,305.68 425.50,306.00 C427.17,306.32 427.08,306.90 428.00,307.50 C428.92,308.10 429.67,308.58 431.00,309.60 C432.33,310.62 434.18,312.27 436.00,313.60 C437.82,314.93 440.15,317.10 441.90,317.60 C443.65,318.10 444.92,317.12 446.50,316.60 C448.08,316.08 449.48,315.35 451.40,314.50 C453.32,313.65 455.72,312.42 458.00,311.50 C460.28,310.58 462.77,309.70 465.10,309.00 C467.43,308.30 469.50,307.75 472.00,307.30 C474.50,306.85 477.77,306.35 480.10,306.30 C482.43,306.25 483.95,306.68 486.00,307.00 C488.05,307.32 490.07,307.60 492.40,308.20 C494.73,308.80 497.48,309.68 500.00,310.60 C502.52,311.52 505.50,312.97 507.50,313.70 C509.50,314.43 510.42,314.68 512.00,315.00 C513.58,315.32 514.83,315.77 517.00,315.60 C519.17,315.43 522.27,314.63 525.00,314.00 C527.73,313.37 530.90,312.63 533.40,311.80 C535.90,310.97 537.82,309.92 540.00,309.00 C542.18,308.08 545.42,306.75 546.50,306.30" stroke="#2e8b2e" stroke-width="1.45" fill="none" stroke-linejoin="round" stroke-linecap="round" /><path d="M411.80,320.50 C412.83,320.47 415.95,320.38 418.00,320.30 C420.05,320.22 422.43,319.67 424.10,320.00 C425.77,320.33 426.63,321.40 428.00,322.30 C429.37,323.20 430.80,324.15 432.30,325.40 C433.80,326.65 435.40,328.37 437.00,329.80 C438.60,331.23 440.32,333.70 441.90,334.00 C443.48,334.30 444.92,332.48 446.50,331.60 C448.08,330.72 449.48,329.67 451.40,328.70 C453.32,327.73 455.72,326.70 458.00,325.80 C460.28,324.90 462.77,324.05 465.10,323.30 C467.43,322.55 469.50,321.85 472.00,321.30 C474.50,320.75 477.77,320.00 480.10,320.00 C482.43,320.00 483.95,320.75 486.00,321.30 C488.05,321.85 490.07,322.38 492.40,323.30 C494.73,324.22 497.48,325.67 500.00,326.80 C502.52,327.93 505.50,329.30 507.50,330.10 C509.50,330.90 510.42,331.28 512.00,331.60 C513.58,331.92 514.83,332.17 517.00,332.00 C519.17,331.83 522.27,331.15 525.00,330.60 C527.73,330.05 530.90,329.63 533.40,328.70 C535.90,327.77 537.82,326.28 540.00,325.00 C542.18,323.72 545.42,321.67 546.50,321.00" stroke="#33ee33" stroke-width="1.45" fill="none" stroke-linejoin="round" stroke-linecap="round" /><path d="M411.80,342.90 C412.50,342.65 414.63,341.95 416.00,341.40 C417.37,340.85 418.75,340.17 420.00,339.60 C421.25,339.03 422.35,338.50 423.50,338.00 C424.65,337.50 425.82,336.37 426.90,336.60 C427.98,336.83 428.87,338.22 430.00,339.40 C431.13,340.58 432.28,342.33 433.70,343.70 C435.12,345.07 436.90,346.48 438.50,347.60 C440.10,348.72 441.88,350.07 443.30,350.40 C444.72,350.73 445.65,350.12 447.00,349.60 C448.35,349.08 449.57,348.23 451.40,347.30 C453.23,346.37 455.72,345.05 458.00,344.00 C460.28,342.95 462.77,341.97 465.10,341.00 C467.43,340.03 469.50,339.02 472.00,338.20 C474.50,337.38 477.77,336.33 480.10,336.10 C482.43,335.87 483.95,336.43 486.00,336.80 C488.05,337.17 490.07,337.70 492.40,338.30 C494.73,338.90 497.48,339.72 500.00,340.40 C502.52,341.08 505.50,341.90 507.50,342.40 C509.50,342.90 510.42,343.18 512.00,343.40 C513.58,343.62 514.83,343.80 517.00,343.70 C519.17,343.60 522.27,343.25 525.00,342.80 C527.73,342.35 530.90,341.67 533.40,341.00 C535.90,340.33 537.82,339.57 540.00,338.80 C542.18,338.03 545.42,336.80 546.50,336.40" stroke="#993333" stroke-width="1.45" fill="none" stroke-linejoin="round" stroke-linecap="round" /><path d="M411.80,359.30 C412.50,359.02 414.63,358.23 416.00,357.60 C417.37,356.97 418.75,356.20 420.00,355.50 C421.25,354.80 422.35,353.95 423.50,353.40 C424.65,352.85 425.82,351.90 426.90,352.20 C427.98,352.50 428.87,354.02 430.00,355.20 C431.13,356.38 432.28,358.07 433.70,359.30 C435.12,360.53 436.95,361.72 438.50,362.60 C440.05,363.48 441.75,364.25 443.00,364.60 C444.25,364.95 444.83,364.90 446.00,364.70 C447.17,364.50 448.63,363.85 450.00,363.40 C451.37,362.95 452.53,362.53 454.20,362.00 C455.87,361.47 458.18,360.83 460.00,360.20 C461.82,359.57 463.10,359.07 465.10,358.20 C467.10,357.33 469.50,356.00 472.00,355.00 C474.50,354.00 477.77,352.60 480.10,352.20 C482.43,351.80 483.95,352.32 486.00,352.60 C488.05,352.88 490.07,353.33 492.40,353.90 C494.73,354.47 497.48,355.28 500.00,356.00 C502.52,356.72 505.50,357.68 507.50,358.20 C509.50,358.72 510.42,358.92 512.00,359.10 C513.58,359.28 514.83,359.42 517.00,359.30 C519.17,359.18 522.27,358.85 525.00,358.40 C527.73,357.95 530.90,357.27 533.40,356.60 C535.90,355.93 537.82,355.17 540.00,354.40 C542.18,353.63 545.42,352.40 546.50,352.00" stroke="#ff3030" stroke-width="1.45" fill="none" stroke-linejoin="round" stroke-linecap="round" /></g><rect x="412.0" y="210.0" width="134.5" height="161.89999999999998" fill="none" stroke="#6e6e6e" stroke-width="0.9"/><line x1="425.50" y1="371.90" x2="425.50" y2="370.70" stroke="#333" stroke-width="0.6" /><line x1="425.50" y1="210.00" x2="425.50" y2="211.20" stroke="#333" stroke-width="0.6" /><line x1="441.90" y1="371.90" x2="441.90" y2="369.90" stroke="#333" stroke-width="0.6" /><line x1="441.90" y1="210.00" x2="441.90" y2="212.00" stroke="#333" stroke-width="0.6" /><text x="441.90" y="378.40" font-size="5.5" fill="#555" text-anchor="middle" font-family='"Liberation Sans", sans-serif' font-weight="normal" >1000</text><line x1="458.30" y1="371.90" x2="458.30" y2="370.70" stroke="#333" stroke-width="0.6" /><line x1="458.30" y1="210.00" x2="458.30" y2="211.20" stroke="#333" stroke-width="0.6" /><line x1="474.70" y1="371.90" x2="474.70" y2="369.90" stroke="#333" stroke-width="0.6" /><line x1="474.70" y1="210.00" x2="474.70" y2="212.00" stroke="#333" stroke-width="0.6" /><text x="474.70" y="378.40" font-size="5.5" fill="#555" text-anchor="middle" font-family='"Liberation Sans", sans-serif' font-weight="normal" >1500</text><line x1="491.10" y1="371.90" x2="491.10" y2="370.70" stroke="#333" stroke-width="0.6" /><line x1="491.10" y1="210.00" x2="491.10" y2="211.20" stroke="#333" stroke-width="0.6" /><line x1="507.50" y1="371.90" x2="507.50" y2="369.90" stroke="#333" stroke-width="0.6" /><line x1="507.50" y1="210.00" x2="507.50" y2="212.00" stroke="#333" stroke-width="0.6" /><text x="507.50" y="378.40" font-size="5.5" fill="#555" text-anchor="middle" font-family='"Liberation Sans", sans-serif' font-weight="normal" >2000</text><line x1="523.90" y1="371.90" x2="523.90" y2="370.70" stroke="#333" stroke-width="0.6" /><line x1="523.90" y1="210.00" x2="523.90" y2="211.20" stroke="#333" stroke-width="0.6" /><line x1="540.30" y1="371.90" x2="540.30" y2="369.90" stroke="#333" stroke-width="0.6" /><line x1="540.30" y1="210.00" x2="540.30" y2="212.00" stroke="#333" stroke-width="0.6" /><text x="540.30" y="378.40" font-size="5.5" fill="#555" text-anchor="middle" font-family='"Liberation Sans", sans-serif' font-weight="normal" >2500</text><line x1="412.00" y1="362.40" x2="413.60" y2="362.40" stroke="#333" stroke-width="0.6" /><line x1="546.50" y1="362.40" x2="544.90" y2="362.40" stroke="#333" stroke-width="0.6" /><line x1="412.00" y1="351.15" x2="413.60" y2="351.15" stroke="#333" stroke-width="0.6" /><line x1="546.50" y1="351.15" x2="544.90" y2="351.15" stroke="#333" stroke-width="0.6" /><line x1="412.00" y1="339.90" x2="413.60" y2="339.90" stroke="#333" stroke-width="0.6" /><line x1="546.50" y1="339.90" x2="544.90" y2="339.90" stroke="#333" stroke-width="0.6" /><line x1="412.00" y1="328.65" x2="413.60" y2="328.65" stroke="#333" stroke-width="0.6" /><line x1="546.50" y1="328.65" x2="544.90" y2="328.65" stroke="#333" stroke-width="0.6" /><line x1="412.00" y1="317.40" x2="413.60" y2="317.40" stroke="#333" stroke-width="0.6" /><line x1="546.50" y1="317.40" x2="544.90" y2="317.40" stroke="#333" stroke-width="0.6" /><line x1="412.00" y1="306.15" x2="413.60" y2="306.15" stroke="#333" stroke-width="0.6" /><line x1="546.50" y1="306.15" x2="544.90" y2="306.15" stroke="#333" stroke-width="0.6" /><line x1="412.00" y1="294.90" x2="413.60" y2="294.90" stroke="#333" stroke-width="0.6" /><line x1="546.50" y1="294.90" x2="544.90" y2="294.90" stroke="#333" stroke-width="0.6" /><line x1="412.00" y1="283.65" x2="413.60" y2="283.65" stroke="#333" stroke-width="0.6" /><line x1="546.50" y1="283.65" x2="544.90" y2="283.65" stroke="#333" stroke-width="0.6" /><line x1="412.00" y1="272.40" x2="413.60" y2="272.40" stroke="#333" stroke-width="0.6" /><line x1="546.50" y1="272.40" x2="544.90" y2="272.40" stroke="#333" stroke-width="0.6" /><line x1="412.00" y1="261.15" x2="413.60" y2="261.15" stroke="#333" stroke-width="0.6" /><line x1="546.50" y1="261.15" x2="544.90" y2="261.15" stroke="#333" stroke-width="0.6" /><line x1="412.00" y1="249.90" x2="413.60" y2="249.90" stroke="#333" stroke-width="0.6" /><line x1="546.50" y1="249.90" x2="544.90" y2="249.90" stroke="#333" stroke-width="0.6" /><line x1="412.00" y1="238.65" x2="413.60" y2="238.65" stroke="#333" stroke-width="0.6" /><line x1="546.50" y1="238.65" x2="544.90" y2="238.65" stroke="#333" stroke-width="0.6" /><line x1="412.00" y1="227.40" x2="413.60" y2="227.40" stroke="#333" stroke-width="0.6" /><line x1="546.50" y1="227.40" x2="544.90" y2="227.40" stroke="#333" stroke-width="0.6" /><line x1="412.00" y1="216.15" x2="413.60" y2="216.15" stroke="#333" stroke-width="0.6" /><line x1="546.50" y1="216.15" x2="544.90" y2="216.15" stroke="#333" stroke-width="0.6" /><text x="456.90" y="387.60" font-size="6.45" fill="#333" text-anchor="start" font-family='"Liberation Sans", sans-serif' font-weight="normal" >Wavelength(nm)</text><text x="0.00" y="0.00" font-size="6" fill="#333" text-anchor="middle" font-family='"Liberation Sans", sans-serif' font-weight="normal" transform="translate(401,294.2) rotate(-90)">Reflectance offset</text><text x="386.00" y="210.40" font-size="14" fill="#111" text-anchor="start" font-family='"Liberation Serif", serif' font-weight="bold" >(e)</text></svg></body></html>
